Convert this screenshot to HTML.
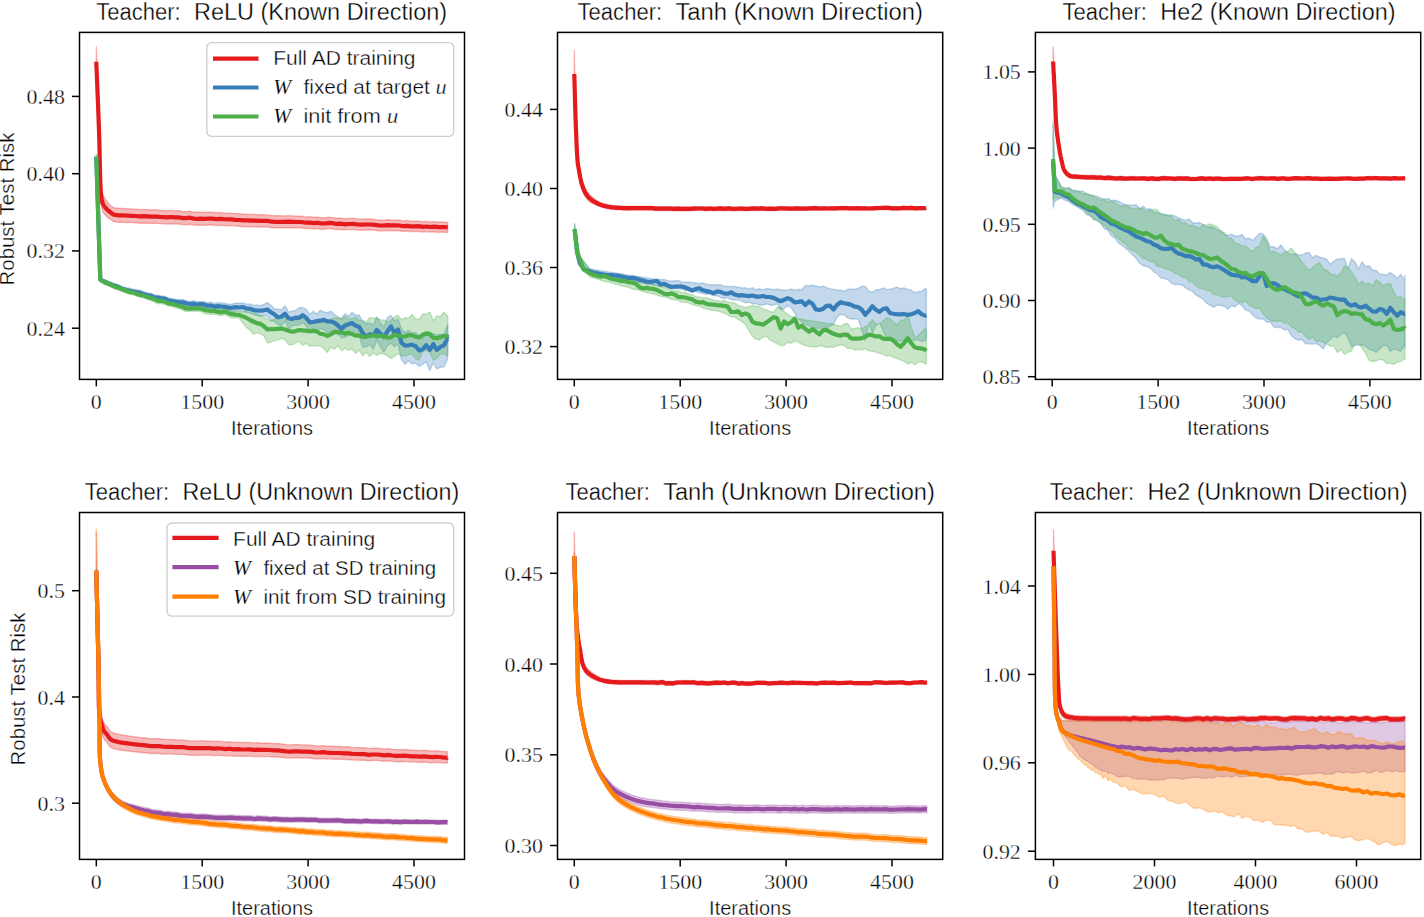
<!DOCTYPE html><html><head><meta charset="utf-8"><title>Robust Test Risk</title><style>html,body{margin:0;padding:0;background:#fff;overflow:hidden}svg{display:block}text{fill:#000;stroke:#fff;stroke-width:0.35px;paint-order:fill stroke}</style></head><body>
<svg width="1424" height="917" viewBox="0 0 1424 917">
<rect width="1424" height="917" fill="#fff"/>
<clipPath id="c0"><rect x="79.5" y="32.4" width="385.0" height="347.0"/></clipPath>
<g clip-path="url(#c0)">
<path d="M96.3,46.8 L96.3,46.8 L96.3,46.9 L96.3,47 L96.3,47.1 L96.3,47.3 L96.3,47.5 L96.3,47.7 L96.3,48 L96.4,48.3 L96.4,48.7 L96.4,49 L96.4,49.4 L96.4,49.9 L96.4,50.4 L96.5,50.8 L96.5,51.4 L96.5,51.9 L96.5,52.5 L96.5,53.1 L96.6,53.8 L96.6,54.4 L96.6,55.1 L96.7,55.8 L96.7,56.6 L96.7,57.3 L96.7,58.1 L96.8,58.9 L96.8,59.7 L96.8,60.6 L96.9,61.4 L96.9,62.3 L96.9,63.2 L97,64.1 L97,65 L97,66 L97.1,67 L97.1,67.9 L97.2,68.9 L97.2,69.9 L97.2,70.9 L97.3,72 L97.3,73 L97.4,74 L97.4,75.1 L97.4,76.2 L97.5,77.2 L97.5,78.3 L97.6,79.4 L97.6,80.5 L97.6,81.6 L97.7,82.7 L97.7,83.8 L97.8,84.9 L97.8,86 L97.9,87.1 L97.9,88.2 L97.9,89.4 L98,90.5 L98,91.6 L98.1,92.7 L98.1,93.8 L98.2,94.9 L98.2,96 L98.2,97.1 L98.3,98.2 L98.3,99.3 L98.4,100.4 L98.4,101.4 L98.4,102.5 L98.5,103.6 L98.5,104.6 L98.6,105.6 L98.6,106.7 L98.6,107.7 L98.7,108.7 L98.7,109.7 L98.7,110.7 L98.8,111.6 L98.8,112.6 L98.8,113.5 L98.9,114.4 L98.9,115.3 L98.9,116.2 L99,117 L99,117.9 L99,118.7 L99.1,119.6 L99.1,120.4 L99.1,121.3 L99.1,122.2 L99.2,123.1 L99.2,124 L99.2,124.9 L99.2,125.8 L99.3,126.7 L99.3,127.6 L99.3,128.5 L99.3,129.5 L99.4,130.4 L99.4,131.3 L99.4,132.3 L99.4,133.2 L99.4,134.2 L99.5,135.1 L99.5,136.1 L99.5,137 L99.5,138 L99.5,139 L99.6,139.9 L99.6,140.9 L99.6,141.9 L99.6,142.8 L99.6,143.8 L99.7,144.8 L99.7,145.7 L99.7,146.7 L99.7,147.6 L99.7,148.6 L99.8,149.6 L99.8,150.5 L99.8,151.5 L99.8,152.4 L99.8,153.4 L99.9,154.3 L99.9,155.3 L99.9,156.2 L99.9,157.1 L99.9,158.1 L100,159 L100,159.9 L100,160.8 L100,161.7 L100,162.6 L100.1,163.5 L100.1,164.4 L100.1,165.3 L100.1,166.1 L100.2,167 L100.2,167.8 L100.2,168.7 L100.2,169.5 L100.3,170.3 L100.3,171.1 L100.3,172 L100.4,172.7 L100.4,173.5 L100.4,174.3 L100.5,175.1 L100.5,175.8 L100.5,176.5 L100.6,177.3 L100.6,178 L100.6,178.7 L100.7,179.4 L100.7,180 L100.7,180.7 L100.8,181.3 L100.8,181.9 L100.9,182.6 L100.9,183.2 L101,183.7 L101,184.3 L101,184.8 L101.1,185.3 L101.1,185.8 L101.2,186.2 L101.2,186.7 L101.3,187.1 L101.5,188.3 L101.6,189.3 L101.8,190.2 L101.9,191.1 L102.1,191.8 L102.3,192.5 L102.5,193.2 L102.7,193.9 L103,194.7 L103.4,195.6 L103.8,196.4 L104.2,197.2 L104.7,198 L105.2,198.8 L105.7,199.6 L106.2,200.4 L106.8,201.1 L107.4,201.9 L108.1,202.7 L108.7,203.5 L109.4,204.3 L110,205 L110.7,205.5 L111.3,206 L112,206.5 L112.7,207 L113.5,207.4 L114.4,207.7 L115.1,207.9 L115.8,208.1 L116.6,208.2 L117.4,208.3 L118.3,208.3 L119.2,208.4 L120.1,208.4 L121,208.5 L121.9,208.5 L122.7,208.5 L123.5,208.5 L124.3,208.6 L125,208.6 L125.9,208.6 L126.6,208.7 L127.3,208.7 L128,208.7 L128.9,208.8 L132.4,208.9 L136,209.1 L139.7,209.6 L143.8,209.4 L147.7,209.6 L151.7,209.9 L156,209.8 L159.6,210.2 L163.3,210.5 L167,210.8 L170.8,210.4 L174.7,210.7 L178.5,210.7 L182.4,211.5 L186.2,211.6 L190,211.2 L193.7,212.1 L197.3,212.3 L201.5,212.2 L205.1,212.4 L208.8,212.2 L212.5,212.2 L216.3,212.8 L220.1,212.6 L223.9,212.9 L227.7,213.1 L231.6,213.1 L235.4,213.6 L239.4,213.7 L243.3,214.2 L247.3,214.2 L251.3,214.4 L255.3,214.5 L259.4,214.8 L263.5,214.8 L267.6,214.9 L271.8,215.6 L275.9,215.8 L280.2,215.8 L284.4,215.9 L288.7,215.8 L293,215.9 L297.4,216.1 L301.5,216.1 L305.3,216.9 L309.4,216.7 L313.7,217.3 L317.3,217.1 L321,217.7 L324.8,217.7 L328.7,217.2 L332.6,217.6 L336.7,218.3 L340.8,218.1 L345,218.7 L349.2,218.4 L353.4,218.3 L357.7,218.9 L362,219.2 L366.3,219 L370.5,219 L374.8,219.4 L379.1,220.1 L383.3,220.1 L387.4,219.7 L391.5,220 L395.6,220.1 L399.5,220.2 L403.4,220.9 L407.2,220.6 L410.9,221.1 L414.5,221.1 L418.7,221.1 L422.8,221.7 L426.6,221.4 L430.2,221.9 L434.1,221.6 L438.1,222.1 L442,222 L445.7,222.2 L447.7,222.5 L447.7,232.5 L445.7,232.3 L442,232.1 L438.1,232.2 L434.1,231.8 L430.2,232.1 L426.6,231.6 L422.8,232 L418.7,231.4 L414.5,231.5 L410.9,231.5 L407.2,231.1 L403.4,231.5 L399.5,230.8 L395.6,230.7 L391.5,230.7 L387.4,230.5 L383.3,230.8 L379.1,230.9 L374.8,230.3 L370.5,229.9 L366.3,230 L362,230.2 L357.7,230 L353.4,229.4 L349.2,229.6 L345,229.9 L340.8,229.4 L336.7,229.6 L332.6,228.9 L328.7,228.6 L324.8,229.2 L321,229.2 L317.3,228.6 L313.7,228.9 L309.4,228.4 L305.3,228.5 L301.5,227.9 L297.4,227.9 L293,227.7 L288.7,227.7 L284.4,227.9 L280.2,227.8 L275.9,227.8 L271.8,227.7 L267.6,227 L263.5,227 L259.4,227 L255.3,226.8 L251.3,226.8 L247.3,226.5 L243.3,226.7 L239.4,226.2 L235.4,226.1 L231.6,225.6 L227.7,225.7 L223.9,225.5 L220.1,225.3 L216.3,225.5 L212.5,225 L208.8,225 L205.1,225.2 L201.5,225.1 L197.3,225.2 L193.7,225.1 L190,224.3 L186.2,224.7 L182.4,224.6 L178.5,223.9 L174.7,224 L170.8,223.7 L167,224.1 L163.3,223.8 L159.6,223.6 L156,223.2 L151.7,223.4 L147.7,223.2 L143.8,223 L139.7,223.3 L136,222.8 L132.4,222.6 L128.9,222.5 L128,222.5 L127.3,222.5 L126.6,222.5 L125.9,222.5 L125,222.4 L124.3,222.4 L123.5,222.4 L122.7,222.4 L121.9,222.3 L121,222.3 L120.1,222.3 L119.2,222.3 L118.3,222.2 L117.4,222.2 L116.6,222.1 L115.8,222 L115.1,221.9 L114.4,221.7 L113.5,221.3 L112.7,221 L112,220.5 L111.3,220 L110.7,219.5 L110,219 L109.4,218.6 L108.7,218.1 L108.1,217.6 L107.4,217.1 L106.8,216.6 L106.2,216 L105.7,215.5 L105.2,214.9 L104.7,214.3 L104.2,213.8 L103.8,213.2 L103.4,212.5 L103,211.8 L102.7,211.2 L102.5,210.6 L102.3,210 L102.1,209.3 L101.9,208.6 L101.8,207.9 L101.6,207 L101.5,206.1 L101.3,205 L101.2,204.6 L101.2,204.2 L101.1,203.7 L101.1,203.3 L101,202.8 L101,202.3 L101,201.8 L100.9,201.3 L100.9,200.8 L100.8,200.3 L100.8,199.7 L100.7,199.2 L100.7,198.6 L100.7,198 L100.6,197.4 L100.6,196.8 L100.6,196.1 L100.5,195.5 L100.5,194.8 L100.5,194.1 L100.4,193.4 L100.4,192.7 L100.4,192 L100.3,191.2 L100.3,190.5 L100.3,189.7 L100.2,189 L100.2,188.2 L100.2,187.4 L100.2,186.6 L100.1,185.8 L100.1,185 L100.1,184.1 L100.1,183.3 L100,182.4 L100,181.6 L100,180.7 L100,179.9 L100,179 L99.9,178.1 L99.9,177.2 L99.9,176.3 L99.9,175.4 L99.9,174.5 L99.8,173.6 L99.8,172.7 L99.8,171.8 L99.8,170.9 L99.8,170 L99.7,169 L99.7,168.1 L99.7,167.2 L99.7,166.3 L99.7,165.3 L99.6,164.4 L99.6,163.5 L99.6,162.5 L99.6,161.6 L99.6,160.7 L99.5,159.8 L99.5,158.8 L99.5,157.9 L99.5,157 L99.5,156.1 L99.4,155.2 L99.4,154.3 L99.4,153.3 L99.4,152.4 L99.4,151.5 L99.3,150.7 L99.3,149.8 L99.3,148.9 L99.3,148 L99.2,147.1 L99.2,146.3 L99.2,145.4 L99.2,144.6 L99.1,143.8 L99.1,142.9 L99.1,142.1 L99.1,141.3 L99,140.5 L99,139.7 L99,138.9 L98.9,138.1 L98.9,137.3 L98.9,136.5 L98.8,135.6 L98.8,134.8 L98.8,133.9 L98.7,133 L98.7,132.1 L98.7,131.2 L98.6,130.2 L98.6,129.3 L98.6,128.3 L98.5,127.4 L98.5,126.4 L98.4,125.4 L98.4,124.4 L98.4,123.4 L98.3,122.4 L98.3,121.4 L98.2,120.4 L98.2,119.4 L98.2,118.4 L98.1,117.3 L98.1,116.3 L98,115.3 L98,114.3 L97.9,113.2 L97.9,112.2 L97.9,111.2 L97.8,110.1 L97.8,109.1 L97.7,108.1 L97.7,107 L97.6,106 L97.6,105 L97.6,104 L97.5,103 L97.5,102 L97.4,101 L97.4,100 L97.4,99 L97.3,98 L97.3,97.1 L97.2,96.1 L97.2,95.2 L97.2,94.3 L97.1,93.4 L97.1,92.5 L97,91.6 L97,90.7 L97,89.8 L96.9,89 L96.9,88.1 L96.9,87.3 L96.8,86.5 L96.8,85.8 L96.8,85 L96.7,84.3 L96.7,83.5 L96.7,82.8 L96.7,82.2 L96.6,81.5 L96.6,80.9 L96.6,80.2 L96.5,79.7 L96.5,79.1 L96.5,78.6 L96.5,78 L96.5,77.5 L96.4,77.1 L96.4,76.7 L96.4,76.2 L96.4,75.9 L96.4,75.5 L96.4,75.2 L96.3,74.9 L96.3,74.7 L96.3,74.4 L96.3,74.2 L96.3,74.1 L96.3,74 L96.3,73.9 L96.3,73.8 L96.3,73.8Z" fill="#e41a1c" fill-opacity="0.3" stroke="#e41a1c" stroke-opacity="0.3" stroke-width="1.4" stroke-linejoin="round"/>
<path d="M96.3,154.8 L100.3,277.5 L105,280 L108.5,281.5 L112.1,282.8 L115.6,283.9 L119.1,285.1 L122.7,286.9 L126.2,287.8 L129.7,288.3 L133.2,289.3 L136.8,289.8 L140.3,290.4 L143.8,291.6 L147.4,292.8 L150.9,293.4 L154.4,294.9 L158,295.1 L161.5,296 L165,296.3 L168.5,298.2 L172.1,298.6 L175.6,299.1 L179.1,299.6 L182.7,299.4 L186.2,300.6 L189.7,301.4 L193.3,300.8 L196.8,301.6 L200.3,301.4 L203.8,301.5 L207.4,302.7 L210.9,302.1 L214.4,303.4 L218,302.6 L221.5,303 L225,303.4 L228.6,304.2 L232.1,304.1 L235.6,303.1 L239.1,303.3 L242.7,303 L246.2,303.9 L249.7,304 L253.3,305.5 L256.8,304.9 L260.3,305.8 L263.8,304.3 L267.4,302.6 L270.9,305.3 L274.4,308.8 L278,309.1 L281.5,309.9 L285,305.8 L288.6,312.1 L292.1,311.3 L295.6,310.3 L299.1,307.7 L302.7,307.5 L306.2,309.4 L309.7,314.2 L313.3,311.3 L316.8,314.2 L320.3,310.1 L323.9,312 L327.4,312.8 L330.9,311 L334.4,314.4 L338,317 L341.5,318.3 L345,313.7 L348.6,316.3 L352.1,312.2 L355.6,315.2 L359.2,315.1 L362.7,321.4 L366.2,323.7 L369.7,323 L373.3,324.8 L376.8,316.9 L380.3,322.4 L383.9,327 L387.4,317.5 L390.9,315.4 L394.5,320.8 L398,318.9 L401.5,329 L405,332.5 L408.6,330.4 L412.1,333 L415.6,332.4 L419.2,337.2 L422.7,338.7 L426.2,333.4 L429.8,337 L433.3,333.4 L436.8,335 L440.3,333.9 L443.9,335.3 L447.4,324.6 L447.7,324.2 L447.7,355.8 L447.4,359.6 L443.9,366.9 L440.3,367.2 L436.8,369 L433.3,362.8 L429.8,370.7 L426.2,361.7 L422.7,364.5 L419.2,366.5 L415.6,363 L412.1,364.1 L408.6,360.7 L405,364.4 L401.5,359.7 L398,344.1 L394.5,346.7 L390.9,343.2 L387.4,345.7 L383.9,352 L380.3,346.8 L376.8,339.9 L373.3,349.4 L369.7,344.6 L366.2,347.1 L362.7,347.1 L359.2,336.2 L355.6,334.8 L352.1,332.1 L348.6,335.5 L345,337.3 L341.5,338.1 L338,334.2 L334.4,332 L330.9,331.6 L327.4,332.8 L323.9,329.7 L320.3,328.5 L316.8,330.3 L313.3,333 L309.7,332.7 L306.2,325.9 L302.7,322.5 L299.1,325.3 L295.6,325.3 L292.1,325.9 L288.6,328.7 L285,321 L281.5,325.5 L278,324.4 L274.4,321.5 L270.9,320.3 L267.4,316.5 L263.8,315.5 L260.3,316.3 L256.8,315.6 L253.3,314.6 L249.7,312.8 L246.2,312.5 L242.7,311.3 L239.1,311 L235.6,310.6 L232.1,311.8 L228.6,310.8 L225,310.2 L221.5,309.8 L218,309.3 L214.4,309.5 L210.9,308.7 L207.4,309.1 L203.8,307.2 L200.3,307.1 L196.8,307.3 L193.3,306.3 L189.7,306.8 L186.2,306.1 L182.7,304.9 L179.1,305 L175.6,304.4 L172.1,303.8 L168.5,303.1 L165,301.3 L161.5,301.1 L158,300.3 L154.4,299.9 L150.9,298.3 L147.4,297.7 L143.8,296.6 L140.3,295.4 L136.8,294.6 L133.2,293.8 L129.7,293 L126.2,292.2 L122.7,291.4 L119.1,289.5 L115.6,288.3 L112.1,287 L108.5,285.7 L105,284.1 L100.3,281.5 L96.3,158.8Z" fill="#377eb8" fill-opacity="0.3" stroke="#377eb8" stroke-opacity="0.3" stroke-width="1.4" stroke-linejoin="round"/>
<path d="M96.3,154.8 L100.3,277.7 L105,280.2 L108.5,281.5 L112.1,283.1 L115.6,284.7 L119.1,285.8 L122.7,287.2 L126.2,288.4 L129.7,289.6 L133.2,289.9 L136.8,291.6 L140.3,292.4 L143.8,293.2 L147.4,294.7 L150.9,295.6 L154.4,296.7 L158,298.4 L161.5,298.1 L165,299 L168.5,300.7 L172.1,301.2 L175.6,301.9 L179.1,303 L182.7,304 L186.2,305.6 L189.7,305.8 L193.3,305.2 L196.8,305.6 L200.3,305.5 L203.8,306.9 L207.4,307.2 L210.9,307.6 L214.4,307.4 L218,308.6 L221.5,309.2 L225,307.9 L228.6,309.5 L232.1,310.7 L235.6,311.1 L239.1,311.7 L242.7,312.2 L246.2,310.6 L249.7,309.9 L253.3,310.5 L256.8,314.1 L260.3,315.3 L263.8,317.3 L267.4,319.1 L270.9,320.8 L274.4,319.1 L278,317.3 L281.5,317.1 L285,317.3 L288.6,323 L292.1,320.6 L295.6,319.6 L299.1,321.6 L302.7,317.6 L306.2,320.9 L309.7,320.1 L313.3,321.4 L316.8,320.8 L320.3,323.4 L323.9,319.8 L327.4,320.5 L330.9,319.6 L334.4,317.7 L338,318.2 L341.5,319.7 L345,316.3 L348.6,318.8 L352.1,318.7 L355.6,317.2 L359.2,320.3 L362.7,320.4 L366.2,322 L369.7,317.7 L373.3,318.2 L376.8,318 L380.3,319.8 L383.9,320.1 L387.4,321.8 L390.9,320.7 L394.5,317.1 L398,315.2 L401.5,319.8 L405,317.7 L408.6,318.3 L412.1,314.3 L415.6,319.1 L419.2,319.3 L422.7,313.9 L426.2,314.1 L429.8,312.1 L433.3,320.6 L436.8,315.9 L440.3,316.7 L443.9,312.1 L447.4,315.8 L447.7,316.8 L447.7,353.2 L447.4,355.9 L443.9,353.9 L440.3,354 L436.8,358.2 L433.3,360.2 L429.8,352.7 L426.2,350.4 L422.7,350.8 L419.2,360 L415.6,358.8 L412.1,354.1 L408.6,354.4 L405,355.9 L401.5,356 L398,353.5 L394.5,356.5 L390.9,358.5 L387.4,355.9 L383.9,353.7 L380.3,353.2 L376.8,355.3 L373.3,353.1 L369.7,356.6 L366.2,352.3 L362.7,355.8 L359.2,350.1 L355.6,353.2 L352.1,349 L348.6,350.3 L345,348.3 L341.5,350.8 L338,345.4 L334.4,349.6 L330.9,347 L327.4,352.5 L323.9,348.8 L320.3,345.7 L316.8,345.6 L313.3,345.7 L309.7,346.4 L306.2,343.2 L302.7,345.3 L299.1,341.6 L295.6,342.8 L292.1,344.8 L288.6,344.6 L285,339.9 L281.5,338.2 L278,340.1 L274.4,340.8 L270.9,341.9 L267.4,343 L263.8,335.7 L260.3,333.8 L256.8,332.6 L253.3,334.3 L249.7,329.9 L246.2,327.3 L242.7,322.7 L239.1,317.9 L235.6,317.8 L232.1,317.9 L228.6,316.6 L225,314.5 L221.5,315.5 L218,315.2 L214.4,314.2 L210.9,314.4 L207.4,314 L203.8,313.2 L200.3,311.1 L196.8,311.5 L193.3,311 L189.7,311.2 L186.2,311.6 L182.7,310 L179.1,308.5 L175.6,307.8 L172.1,306.5 L168.5,306.1 L165,304.6 L161.5,303.6 L158,303.7 L154.4,302 L150.9,300.6 L147.4,299.5 L143.8,297.9 L140.3,297.3 L136.8,296.2 L133.2,294.8 L129.7,294.4 L126.2,293 L122.7,291.7 L119.1,290.2 L115.6,289.3 L112.1,287.4 L108.5,285.7 L105,284.4 L100.3,281.8 L96.3,158.8Z" fill="#4daf4a" fill-opacity="0.3" stroke="#4daf4a" stroke-opacity="0.3" stroke-width="1.4" stroke-linejoin="round"/>
<path d="M96.3,61.8 L96.3,61.8 L96.3,61.9 L96.3,62 L96.3,62.1 L96.3,62.3 L96.3,62.5 L96.3,62.7 L96.3,63 L96.4,63.3 L96.4,63.6 L96.4,63.9 L96.4,64.3 L96.4,64.8 L96.4,65.2 L96.5,65.7 L96.5,66.2 L96.5,66.7 L96.5,67.3 L96.5,67.9 L96.6,68.5 L96.6,69.1 L96.6,69.8 L96.7,70.5 L96.7,71.2 L96.7,71.9 L96.7,72.6 L96.8,73.4 L96.8,74.2 L96.8,75 L96.9,75.8 L96.9,76.7 L96.9,77.5 L97,78.4 L97,79.3 L97,80.2 L97.1,81.1 L97.1,82.1 L97.2,83 L97.2,84 L97.2,84.9 L97.3,85.9 L97.3,86.9 L97.4,87.9 L97.4,88.9 L97.4,90 L97.5,91 L97.5,92 L97.6,93.1 L97.6,94.1 L97.6,95.2 L97.7,96.2 L97.7,97.3 L97.8,98.3 L97.8,99.4 L97.9,100.5 L97.9,101.5 L97.9,102.6 L98,103.7 L98,104.8 L98.1,105.8 L98.1,106.9 L98.2,107.9 L98.2,109 L98.2,110.1 L98.3,111.1 L98.3,112.2 L98.4,113.2 L98.4,114.2 L98.4,115.2 L98.5,116.3 L98.5,117.3 L98.6,118.3 L98.6,119.2 L98.6,120.2 L98.7,121.2 L98.7,122.1 L98.7,123.1 L98.8,124 L98.8,124.9 L98.8,125.8 L98.9,126.7 L98.9,127.5 L98.9,128.4 L99,129.2 L99,130 L99,130.8 L99.1,131.6 L99.1,132.5 L99.1,133.3 L99.1,134.2 L99.2,135 L99.2,135.9 L99.2,136.8 L99.2,137.7 L99.3,138.5 L99.3,139.4 L99.3,140.3 L99.3,141.2 L99.4,142.1 L99.4,143.1 L99.4,144 L99.4,144.9 L99.4,145.8 L99.5,146.8 L99.5,147.7 L99.5,148.6 L99.5,149.6 L99.5,150.5 L99.6,151.5 L99.6,152.4 L99.6,153.3 L99.6,154.3 L99.6,155.2 L99.7,156.2 L99.7,157.1 L99.7,158.1 L99.7,159 L99.7,160 L99.8,160.9 L99.8,161.8 L99.8,162.8 L99.8,163.7 L99.8,164.6 L99.9,165.5 L99.9,166.5 L99.9,167.4 L99.9,168.3 L99.9,169.2 L100,170.1 L100,171 L100,171.9 L100,172.8 L100,173.6 L100.1,174.5 L100.1,175.3 L100.1,176.2 L100.1,177 L100.2,177.9 L100.2,178.7 L100.2,179.5 L100.2,180.3 L100.3,181.1 L100.3,181.9 L100.3,182.7 L100.4,183.4 L100.4,184.2 L100.4,184.9 L100.5,185.6 L100.5,186.4 L100.5,187.1 L100.6,187.7 L100.6,188.4 L100.6,189.1 L100.7,189.7 L100.7,190.3 L100.7,191 L100.8,191.6 L100.8,192.1 L100.9,192.7 L100.9,193.3 L101,193.8 L101,194.3 L101,194.8 L101.1,195.3 L101.1,195.7 L101.2,196.2 L101.2,196.6 L101.3,197 L101.5,198.1 L101.6,199.1 L101.8,200 L101.9,200.7 L102.1,201.5 L102.3,202.1 L102.5,202.7 L102.7,203.4 L103,204 L103.4,204.8 L103.8,205.5 L104.2,206.1 L104.7,206.8 L105.2,207.4 L105.7,208 L106.2,208.6 L106.8,209.2 L107.4,209.8 L108.1,210.4 L108.7,211 L109.4,211.5 L110,212 L110.7,212.5 L111.3,213 L112,213.5 L112.7,214 L113.5,214.4 L114.4,214.7 L115.1,214.9 L115.8,215 L116.6,215.1 L117.4,215.2 L118.3,215.3 L119.2,215.3 L120.1,215.4 L121,215.4 L121.9,215.4 L122.7,215.4 L123.5,215.4 L124.3,215.5 L125,215.5 L125.9,215.5 L126.6,215.6 L127.3,215.6 L128,215.6 L128.9,215.7 L132.4,215.8 L136,216 L139.7,216.4 L143.8,216.2 L147.7,216.4 L151.7,216.6 L156,216.5 L159.6,216.9 L163.3,217.1 L167,217.4 L170.8,217 L174.7,217.3 L178.5,217.3 L182.4,218.1 L186.2,218.1 L190,217.7 L193.7,218.6 L197.3,218.8 L201.5,218.7 L205.1,218.8 L208.8,218.6 L212.5,218.6 L216.3,219.2 L220.1,218.9 L223.9,219.2 L227.7,219.4 L231.6,219.3 L235.4,219.8 L239.4,220 L243.3,220.4 L247.3,220.3 L251.3,220.6 L255.3,220.6 L259.4,220.9 L263.5,220.9 L267.6,220.9 L271.8,221.7 L275.9,221.8 L280.2,221.8 L284.4,221.9 L288.7,221.7 L293,221.8 L297.4,222 L301.5,222 L305.3,222.7 L309.4,222.6 L313.7,223.1 L317.3,222.8 L321,223.4 L324.8,223.5 L328.7,222.9 L332.6,223.2 L336.7,223.9 L340.8,223.7 L345,224.3 L349.2,224 L353.4,223.9 L357.7,224.5 L362,224.7 L366.3,224.5 L370.5,224.5 L374.8,224.8 L379.1,225.5 L383.3,225.5 L387.4,225.1 L391.5,225.3 L395.6,225.4 L399.5,225.5 L403.4,226.2 L407.2,225.8 L410.9,226.3 L414.5,226.3 L418.7,226.2 L422.8,226.8 L426.6,226.5 L430.2,227 L434.1,226.7 L438.1,227.1 L442,227.1 L445.7,227.2 L447.7,227.5" fill="none" stroke="#e41a1c" stroke-width="4.2" stroke-linejoin="round" stroke-linecap="butt"/>
<path d="M96.3,156.8 L100.3,279.5 L105,282 L108.5,283.6 L112.1,284.9 L115.6,286.1 L119.1,287.3 L122.7,289.1 L126.2,290.1 L129.7,290.7 L133.2,291.6 L136.8,292.2 L140.3,292.9 L143.8,294.2 L147.4,295.3 L150.9,295.7 L154.4,297.3 L158,297.7 L161.5,298.4 L165,298.9 L168.5,300.5 L172.1,301 L175.6,301.8 L179.1,302.2 L182.7,302.3 L186.2,303.3 L189.7,304 L193.3,303.6 L196.8,304.5 L200.3,304 L203.8,304.4 L207.4,305.7 L210.9,305.6 L214.4,306.6 L218,306.2 L221.5,306.5 L225,306.8 L228.6,307.6 L232.1,307.8 L235.6,307.1 L239.1,307.5 L242.7,307 L246.2,308.4 L249.7,308.6 L253.3,310 L256.8,310.5 L260.3,310.7 L263.8,310.3 L267.4,309.5 L270.9,312.3 L274.4,314.3 L278,317.3 L281.5,316.7 L285,313.7 L288.6,318.4 L292.1,319 L295.6,317.6 L299.1,317.8 L302.7,315.2 L306.2,317.9 L309.7,322.3 L313.3,322 L316.8,321.1 L320.3,320.7 L323.9,319.8 L327.4,321.5 L330.9,321.4 L334.4,322.7 L338,325.6 L341.5,328.9 L345,325.6 L348.6,324.3 L352.1,323 L355.6,325.6 L359.2,327 L362.7,332.9 L366.2,336.4 L369.7,334.3 L373.3,335.3 L376.8,330 L380.3,333.4 L383.9,337 L387.4,331.3 L390.9,326.5 L394.5,332.8 L398,329.6 L401.5,342.9 L405,345.7 L408.6,345.3 L412.1,344.7 L415.6,346.2 L419.2,350.5 L422.7,349.3 L426.2,345.2 L429.8,349.8 L433.3,344.1 L436.8,349.9 L440.3,346.9 L443.9,345.3 L447.4,338.7 L447.7,339.2" fill="none" stroke="#377eb8" stroke-width="4.2" stroke-linejoin="round" stroke-linecap="butt"/>
<path d="M96.3,156.8 L100.3,279.7 L105,282.3 L108.5,283.6 L112.1,285.3 L115.6,287 L119.1,288 L122.7,289.5 L126.2,290.6 L129.7,292 L133.2,292.4 L136.8,293.9 L140.3,295 L143.8,295.6 L147.4,297.1 L150.9,298.1 L154.4,299.2 L158,300.9 L161.5,300.9 L165,301.7 L168.5,303.5 L172.1,303.9 L175.6,304.7 L179.1,305.8 L182.7,306.9 L186.2,308.5 L189.7,308.6 L193.3,308.3 L196.8,308.5 L200.3,308.4 L203.8,309.7 L207.4,310.5 L210.9,310.8 L214.4,310.9 L218,311.9 L221.5,312.3 L225,311.5 L228.6,313.2 L232.1,314.2 L235.6,314.7 L239.1,314.9 L242.7,316.4 L246.2,317.8 L249.7,319.8 L253.3,321.5 L256.8,323.1 L260.3,323.9 L263.8,326.1 L267.4,329.5 L270.9,329.1 L274.4,329.2 L278,328.8 L281.5,328.4 L285,329.4 L288.6,330.8 L292.1,331.8 L295.6,331.1 L299.1,330.1 L302.7,330.4 L306.2,330.6 L309.7,331.2 L313.3,330.6 L316.8,331.5 L320.3,333.8 L323.9,334.4 L327.4,335.9 L330.9,334.3 L334.4,331.8 L338,332.2 L341.5,332.3 L345,333.6 L348.6,332.8 L352.1,334.1 L355.6,335.6 L359.2,335.6 L362.7,336.8 L366.2,336.8 L369.7,336 L373.3,334.9 L376.8,336.5 L380.3,335.5 L383.9,336.5 L387.4,337.6 L390.9,337.3 L394.5,334.5 L398,335.8 L401.5,336.4 L405,336.5 L408.6,335 L412.1,335.2 L415.6,336.8 L419.2,337.5 L422.7,334.8 L426.2,333.4 L429.8,333.9 L433.3,337.8 L436.8,338.1 L440.3,337.4 L443.9,335.8 L447.4,336.4 L447.7,337.1" fill="none" stroke="#4daf4a" stroke-width="4.2" stroke-linejoin="round" stroke-linecap="butt"/>
</g>
<rect x="79.5" y="32.4" width="385" height="347" fill="none" stroke="#000" stroke-width="1.5"/>
<line x1="96.3" y1="379.4" x2="96.3" y2="386.4" stroke="#000" stroke-width="1.5"/>
<text x="96.3" y="408.7" font-family='"Liberation Serif", serif' font-size="21.9" text-anchor="middle">0</text>
<line x1="202.2" y1="379.4" x2="202.2" y2="386.4" stroke="#000" stroke-width="1.5"/>
<text x="202.2" y="408.7" font-family='"Liberation Serif", serif' font-size="21.9" text-anchor="middle">1500</text>
<line x1="308.1" y1="379.4" x2="308.1" y2="386.4" stroke="#000" stroke-width="1.5"/>
<text x="308.1" y="408.7" font-family='"Liberation Serif", serif' font-size="21.9" text-anchor="middle">3000</text>
<line x1="414" y1="379.4" x2="414" y2="386.4" stroke="#000" stroke-width="1.5"/>
<text x="414" y="408.7" font-family='"Liberation Serif", serif' font-size="21.9" text-anchor="middle">4500</text>
<line x1="72" y1="96.4" x2="79.5" y2="96.4" stroke="#000" stroke-width="1.5"/>
<text x="64.9" y="103.9" font-family='"Liberation Serif", serif' font-size="21.9" text-anchor="end">0.48</text>
<line x1="72" y1="173.7" x2="79.5" y2="173.7" stroke="#000" stroke-width="1.5"/>
<text x="64.9" y="181.2" font-family='"Liberation Serif", serif' font-size="21.9" text-anchor="end">0.40</text>
<line x1="72" y1="250.9" x2="79.5" y2="250.9" stroke="#000" stroke-width="1.5"/>
<text x="64.9" y="258.4" font-family='"Liberation Serif", serif' font-size="21.9" text-anchor="end">0.32</text>
<line x1="72" y1="328.2" x2="79.5" y2="328.2" stroke="#000" stroke-width="1.5"/>
<text x="64.9" y="335.7" font-family='"Liberation Serif", serif' font-size="21.9" text-anchor="end">0.24</text>
<text x="272" y="435" font-family='"Liberation Sans", sans-serif' font-size="20" text-anchor="middle" textLength="82" lengthAdjust="spacingAndGlyphs">Iterations</text>
<text x="96.2" y="19.6" font-family='"Liberation Sans", sans-serif' font-size="23.5" textLength="84.5" lengthAdjust="spacingAndGlyphs">Teacher:</text>
<text x="194" y="19.6" font-family='"Liberation Sans", sans-serif' font-size="23.5" textLength="253.1" lengthAdjust="spacingAndGlyphs">ReLU (Known Direction)</text>
<clipPath id="c1"><rect x="557.5" y="32.4" width="385.20000000000005" height="347.0"/></clipPath>
<g clip-path="url(#c1)">
<path d="M574.3,50.1 L574.3,50.2 L574.3,50.3 L574.3,50.4 L574.3,50.7 L574.3,51 L574.3,51.3 L574.3,51.7 L574.3,52.2 L574.4,52.7 L574.4,53.3 L574.4,53.9 L574.4,54.6 L574.4,55.3 L574.4,56.1 L574.4,56.9 L574.5,57.7 L574.5,58.6 L574.5,59.6 L574.5,60.6 L574.5,61.6 L574.6,62.6 L574.6,63.7 L574.6,64.8 L574.6,66 L574.7,67.2 L574.7,68.4 L574.7,69.6 L574.7,70.8 L574.8,72.1 L574.8,73.4 L574.8,74.7 L574.8,76.1 L574.9,77.4 L574.9,78.8 L574.9,80.1 L575,81.5 L575,82.9 L575,84.3 L575,85.7 L575.1,87.1 L575.1,88.5 L575.1,89.9 L575.2,91.4 L575.2,92.8 L575.2,94.2 L575.3,95.6 L575.3,97 L575.3,98.3 L575.4,99.7 L575.4,101.1 L575.4,102.4 L575.5,103.8 L575.5,105.1 L575.5,106.4 L575.6,107.6 L575.6,108.9 L575.6,110.1 L575.7,111.3 L575.7,112.5 L575.7,113.6 L575.7,114.8 L575.8,115.8 L575.8,116.9 L575.8,118.2 L575.9,119.4 L575.9,120.7 L575.9,122 L576,123.3 L576,124.5 L576.1,125.4 L576.1,126.3 L576.1,127.3 L576.2,128.2 L576.2,129.1 L576.2,130.1 L576.3,131 L576.3,131.9 L576.4,132.9 L576.4,133.8 L576.4,134.7 L576.5,135.6 L576.5,136.5 L576.5,137.4 L576.6,138.3 L576.6,139.2 L576.7,140.1 L576.7,140.9 L576.8,141.8 L576.8,142.6 L576.8,143.5 L576.9,144.3 L576.9,145.1 L577,145.9 L577,146.6 L577,147.4 L577.1,148.1 L577.1,148.8 L577.2,149.5 L577.2,150.2 L577.2,150.8 L577.3,151.5 L577.3,152.1 L577.4,152.7 L577.4,153.2 L577.5,153.7 L577.5,154.2 L577.6,155.3 L577.7,156.2 L577.7,156.9 L577.8,157.6 L577.9,158.3 L578,159 L578.1,159.8 L578.3,160.8 L578.4,161.4 L578.5,162 L578.6,162.7 L578.7,163.5 L578.9,164.2 L579,165 L579.1,165.8 L579.3,166.7 L579.4,167.5 L579.6,168.4 L579.7,169.3 L579.9,170.2 L580,171.1 L580.2,172 L580.4,172.9 L580.6,173.8 L580.8,174.7 L580.9,175.6 L581.1,176.4 L581.3,177.3 L581.5,178.1 L581.8,178.9 L582,179.6 L582.2,180.4 L582.4,181.1 L582.7,182 L583,182.9 L583.4,183.8 L583.7,184.7 L584,185.5 L584.4,186.4 L584.7,187.2 L585.1,188 L585.5,188.7 L585.9,189.5 L586.3,190.2 L586.8,191 L587.3,191.7 L587.8,192.4 L588.4,193.1 L588.9,193.7 L589.5,194.4 L590.1,195 L590.7,195.7 L591.4,196.3 L592,196.9 L592.7,197.4 L593.4,198 L594.1,198.6 L594.8,199.1 L595.5,199.7 L596.2,200.1 L596.9,200.6 L597.6,201.1 L598.3,201.5 L599,201.9 L599.7,202.3 L600.5,202.7 L601.3,202.9 L602,203.2 L602.8,203.4 L603.6,203.7 L604.4,203.9 L605.2,204.1 L606.1,204.3 L606.9,204.5 L607.6,204.7 L608.4,204.8 L609.2,205 L610,205.1 L610.7,205.2 L611.5,205.3 L612.4,205.4 L613.2,205.5 L614,205.6 L614.8,205.6 L615.7,205.7 L616.5,205.8 L617.4,205.8 L618.2,205.9 L619.1,205.9 L619.9,206 L620.8,206 L621.6,206.1 L622.5,206.1 L623.3,206.1 L624.1,206.2 L624.9,206.2 L625.7,206.2 L626.5,206.2 L627.3,206.2 L628.1,206.3 L628.9,206.3 L629.7,206.3 L630.5,206.2 L631.3,206.2 L632.1,206.2 L632.9,206.2 L633.7,206.2 L634.5,206.2 L635.3,206.2 L636.2,206.2 L637,206.2 L637.8,206.2 L638.7,206.2 L639.6,206.2 L643.5,206.1 L647.6,206.1 L651.8,206.2 L655.7,206.8 L659.3,206.6 L663.6,206.8 L667.2,206.7 L670.7,206.7 L674.4,206.9 L678.4,206.8 L682.2,207 L686.3,206.9 L689.9,207 L693.7,206.8 L697.7,206.6 L701.8,206.6 L706.1,207 L709.6,206.6 L713.2,206.9 L716.9,206.9 L720.7,206.6 L724.6,207 L728.5,206.6 L732.5,207.1 L736.6,207.1 L740.7,206.7 L744.9,207 L749.1,207 L753.3,206.6 L757.6,206.9 L762,206.6 L766.3,207.1 L770.7,206.9 L775.2,207.1 L779.6,206.5 L784,206.7 L788.5,206.9 L793,206.9 L797.4,206.6 L801.9,207 L806.3,207 L810.8,206.6 L815.2,206.5 L819.6,206.8 L823.9,206.7 L828.3,206.8 L832.6,206.7 L836.8,206.7 L841,206.4 L845.2,206.5 L849.3,206.7 L853.4,206.8 L857.4,206.6 L861.3,206.8 L865.1,206.7 L868.9,206.9 L872.6,206.7 L876.2,206.5 L879.7,206.4 L884,206.3 L888.1,206.3 L892.1,206.8 L895.9,206.8 L899.5,206.7 L903.5,206.3 L907.3,206.6 L911.3,206.3 L914.9,206.8 L918.5,206.6 L922,206.7 L925.5,206.6 L926,206.5 L926,209.5 L925.5,209.6 L922,209.7 L918.5,209.6 L914.9,209.8 L911.3,209.4 L907.3,209.7 L903.5,209.4 L899.5,209.8 L895.9,209.9 L892.1,209.9 L888.1,209.4 L884,209.5 L879.7,209.5 L876.2,209.7 L872.6,209.9 L868.9,210 L865.1,209.9 L861.3,210 L857.4,209.8 L853.4,210 L849.3,209.9 L845.2,209.7 L841,209.7 L836.8,209.9 L832.6,210 L828.3,210.1 L823.9,210 L819.6,210.2 L815.2,209.9 L810.8,210 L806.3,210.3 L801.9,210.4 L797.4,210 L793,210.3 L788.5,210.3 L784,210.1 L779.6,210 L775.2,210.6 L770.7,210.4 L766.3,210.6 L762,210.1 L757.6,210.5 L753.3,210.1 L749.1,210.5 L744.9,210.5 L740.7,210.2 L736.6,210.6 L732.5,210.7 L728.5,210.2 L724.6,210.6 L720.7,210.2 L716.9,210.6 L713.2,210.6 L709.6,210.3 L706.1,210.7 L701.8,210.3 L697.7,210.3 L693.7,210.5 L689.9,210.7 L686.3,210.6 L682.2,210.7 L678.4,210.6 L674.4,210.7 L670.7,210.5 L667.2,210.5 L663.6,210.6 L659.3,210.5 L655.7,210.6 L651.8,210.1 L647.6,210 L643.5,210 L639.6,210 L638.7,210 L637.8,210 L637,210.1 L636.2,210.1 L635.3,210.1 L634.5,210.1 L633.7,210.1 L632.9,210.1 L632.1,210.1 L631.3,210.1 L630.5,210.2 L629.7,210.2 L628.9,210.2 L628.1,210.2 L627.3,210.2 L626.5,210.2 L625.7,210.1 L624.9,210.1 L624.1,210.1 L623.3,210.1 L622.5,210 L621.6,210 L620.8,209.9 L619.9,209.9 L619.1,209.9 L618.2,209.8 L617.4,209.8 L616.5,209.7 L615.7,209.7 L614.8,209.6 L614,209.5 L613.2,209.4 L612.4,209.4 L611.5,209.3 L610.7,209.2 L610,209 L609.2,208.9 L608.4,208.8 L607.6,208.6 L606.9,208.5 L606.1,208.3 L605.2,208.1 L604.4,207.9 L603.6,207.7 L602.8,207.4 L602,207.2 L601.3,206.9 L600.5,206.7 L599.7,206.4 L599,206.2 L598.3,206 L597.6,205.8 L596.9,205.5 L596.2,205.2 L595.5,205 L594.8,204.6 L594.1,204.3 L593.4,203.9 L592.7,203.6 L592,203.2 L591.4,202.8 L590.7,202.4 L590.1,201.9 L589.5,201.5 L588.9,201 L588.4,200.5 L587.8,199.9 L587.3,199.4 L586.8,198.8 L586.3,198.2 L585.9,197.6 L585.5,197 L585.1,196.3 L584.7,195.6 L584.4,194.9 L584,194.2 L583.7,193.5 L583.4,192.7 L583,191.9 L582.7,191.1 L582.4,190.2 L582.2,189.6 L582,188.9 L581.8,188.2 L581.5,187.5 L581.3,186.7 L581.1,185.9 L580.9,185.1 L580.8,184.3 L580.6,183.5 L580.4,182.6 L580.2,181.8 L580,180.9 L579.9,180.1 L579.7,179.2 L579.6,178.4 L579.4,177.6 L579.3,176.7 L579.1,175.9 L579,175.2 L578.9,174.4 L578.7,173.7 L578.6,173 L578.5,172.3 L578.4,171.7 L578.3,171.1 L578.1,170.2 L578,169.4 L577.9,168.7 L577.8,168.1 L577.7,167.4 L577.7,166.7 L577.6,165.8 L577.5,164.8 L577.5,164.3 L577.4,163.8 L577.4,163.2 L577.3,162.7 L577.3,162.1 L577.2,161.5 L577.2,160.8 L577.2,160.2 L577.1,159.5 L577.1,158.8 L577,158.1 L577,157.3 L577,156.6 L576.9,155.8 L576.9,155 L576.8,154.2 L576.8,153.4 L576.8,152.6 L576.7,151.7 L576.7,150.9 L576.6,150 L576.6,149.2 L576.5,148.3 L576.5,147.4 L576.5,146.5 L576.4,145.6 L576.4,144.7 L576.4,143.8 L576.3,142.8 L576.3,141.9 L576.2,141 L576.2,140.1 L576.2,139.2 L576.1,138.2 L576.1,137.3 L576.1,136.4 L576,135.5 L576,134.6 L575.9,133.8 L575.9,132.9 L575.9,132.1 L575.8,131.3 L575.8,130.5 L575.8,129.8 L575.7,129.1 L575.7,128.4 L575.7,127.6 L575.7,126.8 L575.6,126 L575.6,125.2 L575.6,124.4 L575.5,123.5 L575.5,122.6 L575.5,121.7 L575.4,120.8 L575.4,119.9 L575.4,118.9 L575.3,118 L575.3,117 L575.3,116 L575.2,115.1 L575.2,114.1 L575.2,113.1 L575.1,112.1 L575.1,111.1 L575.1,110.1 L575,109.1 L575,108.1 L575,107.1 L575,106.1 L574.9,105.1 L574.9,104.1 L574.9,103.1 L574.8,102.1 L574.8,101.2 L574.8,100.2 L574.8,99.3 L574.7,98.4 L574.7,97.5 L574.7,96.6 L574.7,95.7 L574.6,94.9 L574.6,94 L574.6,93.2 L574.6,92.4 L574.5,91.6 L574.5,90.9 L574.5,90.2 L574.5,89.5 L574.5,88.8 L574.4,88.2 L574.4,87.6 L574.4,87 L574.4,86.5 L574.4,86 L574.4,85.6 L574.4,85.1 L574.3,84.8 L574.3,84.4 L574.3,84.1 L574.3,83.9 L574.3,83.6 L574.3,83.5 L574.3,83.3 L574.3,83.3 L574.3,83.3Z" fill="#e41a1c" fill-opacity="0.3" stroke="#e41a1c" stroke-opacity="0.3" stroke-width="1.4" stroke-linejoin="round"/>
<path d="M574.6,224 L577.2,240.3 L579.8,256.7 L584.4,262.8 L589.8,268.7 L590,268.8 L593.5,269.5 L597.1,270 L600.6,270.7 L604.1,271.1 L607.6,271.9 L611.2,272.1 L614.7,272.8 L618.2,273.7 L621.8,274 L625.3,274.8 L628.8,275.3 L632.4,275.5 L635.9,276.3 L639.4,276.6 L642.9,277.2 L646.5,277.6 L650,278.4 L653.5,279.1 L657.1,278.9 L660.6,279.7 L664.1,279.5 L667.7,280.6 L671.2,281.1 L674.7,280.7 L678.2,280.5 L681.8,281.9 L685.3,282.1 L688.8,282 L692.4,282.6 L695.9,282.7 L699.4,283.7 L703,283 L706.5,284.2 L710,284.6 L713.5,285 L717.1,284.8 L720.6,284.8 L724.1,286.1 L727.7,286.5 L731.2,286.4 L734.7,286.6 L738.3,287.2 L741.8,287.9 L745.3,287.8 L748.8,289.1 L752.4,287.7 L755.9,289.8 L759.4,288.6 L763,289.9 L766.5,288.5 L770,289 L773.6,289.7 L777.1,289.1 L780.6,289.8 L784.1,290.1 L787.7,289.9 L791.2,289.2 L794.7,289.9 L798.3,289.5 L801.8,289.7 L805.3,285.4 L808.9,285.7 L812.4,285.3 L815.9,286 L819.4,287.1 L823,286 L826.5,287.7 L830,288.7 L833.6,289.4 L837.1,290.3 L840.6,290.1 L844.2,291.2 L847.7,289.3 L851.2,289.1 L854.7,289.2 L858.3,288.4 L861.8,286.3 L865.3,286.4 L868.9,291.1 L872.4,292.2 L875.9,289.7 L879.5,289.6 L883,288 L886.5,289.4 L890,289.3 L893.6,288.2 L897.1,287.1 L900.6,288.8 L904.2,287.9 L907.7,289.3 L911.2,290.2 L914.8,292.7 L918.3,291.8 L921.8,291.1 L925.3,288.5 L926.4,289.5 L926.4,339 L925.3,340.8 L921.8,341.4 L918.3,339.7 L914.8,340.2 L911.2,340.5 L907.7,341.2 L904.2,340.8 L900.6,341 L897.1,340.4 L893.6,341.8 L890,339.9 L886.5,338.2 L883,330.8 L879.5,322.3 L875.9,325.4 L872.4,333.3 L868.9,322.3 L865.3,340.7 L861.8,329.7 L858.3,319 L854.7,318.8 L851.2,319.1 L847.7,317.9 L844.2,314.9 L840.6,314.5 L837.1,317.3 L833.6,324.3 L830,326.4 L826.5,327.6 L823,326.6 L819.4,328.6 L815.9,328.3 L812.4,328.1 L808.9,325.6 L805.3,324.6 L801.8,322 L798.3,318.5 L794.7,312.8 L791.2,307.7 L787.7,305.2 L784.1,308.8 L780.6,309.7 L777.1,303.8 L773.6,305 L770,305.2 L766.5,303.9 L763,305 L759.4,304.9 L755.9,303.8 L752.4,303.7 L748.8,302.2 L745.3,302.8 L741.8,301.1 L738.3,300.1 L734.7,299.9 L731.2,299.8 L727.7,297.6 L724.1,298.5 L720.6,297.5 L717.1,295.7 L713.5,295.8 L710,294 L706.5,294.3 L703,293.5 L699.4,292.9 L695.9,291.5 L692.4,290.8 L688.8,290.3 L685.3,290.8 L681.8,289.2 L678.2,289 L674.7,288.6 L671.2,288.3 L667.7,287.1 L664.1,286.3 L660.6,286.6 L657.1,285.9 L653.5,285 L650,284.5 L646.5,284 L642.9,283.1 L639.4,282.9 L635.9,281.7 L632.4,281.7 L628.8,280.5 L625.3,280.1 L621.8,279.9 L618.2,278.9 L614.7,278.6 L611.2,277.6 L607.6,277 L604.1,276.4 L600.6,276.1 L597.1,275.3 L593.5,274.7 L590,274.1 L589.8,273.9 L584.4,269.5 L579.8,264.7 L577.2,248.4 L574.6,232Z" fill="#377eb8" fill-opacity="0.3" stroke="#377eb8" stroke-opacity="0.3" stroke-width="1.4" stroke-linejoin="round"/>
<path d="M574.6,224 L577.2,239.4 L580,256 L583.3,260.5 L589.8,269.7 L590,269.9 L593.5,270.6 L597.1,271.4 L600.6,272.1 L604.1,273.3 L607.6,273.9 L611.2,274.7 L614.7,275.4 L618.2,276.5 L621.8,277.1 L625.3,278.1 L628.8,278.8 L632.4,279.6 L635.9,280.6 L639.4,280.9 L642.9,282.3 L646.5,282.6 L650,283.3 L653.5,284.7 L657.1,285.4 L660.6,286.1 L664.1,287.3 L667.7,288.3 L671.2,289.8 L674.7,290.7 L678.2,291 L681.8,292.5 L685.3,292.6 L688.8,294 L692.4,294.8 L695.9,296.7 L699.4,296.9 L703,297.9 L706.5,297.8 L710,299 L713.5,300.1 L717.1,300.4 L720.6,301.5 L724.1,300.5 L727.7,302.2 L731.2,302.4 L734.7,303.1 L738.3,305.4 L741.8,306.4 L745.3,307.5 L748.8,306.8 L752.4,305.2 L755.9,306.5 L759.4,306.4 L763,308.9 L766.5,309.7 L770,311.8 L773.6,312.2 L777.1,307.6 L780.6,307.1 L784.1,311.6 L787.7,314.4 L791.2,316.4 L794.7,318.2 L798.3,319.4 L801.8,318.8 L805.3,320.3 L808.9,320.1 L812.4,321 L815.9,321.5 L819.4,322.1 L823,322.8 L826.5,323.6 L830,323.6 L833.6,324.2 L837.1,325.3 L840.6,326.3 L844.2,323.7 L847.7,323.5 L851.2,328.8 L854.7,328.7 L858.3,327.5 L861.8,329 L865.3,326.7 L868.9,326 L872.4,319.4 L875.9,324 L879.5,324.2 L883,321.2 L886.5,317.7 L890,318.7 L893.6,322.2 L897.1,325 L900.6,320.2 L904.2,320.2 L907.7,315.1 L911.2,327 L914.8,337.8 L918.3,335.5 L921.8,331.7 L925.3,328.3 L926.4,330.5 L926.4,364.1 L925.3,364 L921.8,361.7 L918.3,362.1 L914.8,364.7 L911.2,362.4 L907.7,364.1 L904.2,361.3 L900.6,360.2 L897.1,358.4 L893.6,357.6 L890,355.4 L886.5,356 L883,354.1 L879.5,353.3 L875.9,352.1 L872.4,351.3 L868.9,350.9 L865.3,348.6 L861.8,350.1 L858.3,349.3 L854.7,350 L851.2,348.2 L847.7,348.5 L844.2,345.4 L840.6,344.9 L837.1,345.7 L833.6,347.2 L830,347 L826.5,347.5 L823,346 L819.4,345.8 L815.9,347.1 L812.4,346.8 L808.9,346.4 L805.3,345.7 L801.8,344.2 L798.3,342.1 L794.7,341 L791.2,343.3 L787.7,342.4 L784.1,345.2 L780.6,345.6 L777.1,343.6 L773.6,341.8 L770,339.9 L766.5,336.3 L763,337 L759.4,339.9 L755.9,339.3 L752.4,336.2 L748.8,330.5 L745.3,324.3 L741.8,321.5 L738.3,319.4 L734.7,317 L731.2,316.7 L727.7,314.8 L724.1,313.3 L720.6,311.8 L717.1,310.9 L713.5,310.4 L710,309.9 L706.5,308.9 L703,308 L699.4,306.1 L695.9,305.5 L692.4,304.5 L688.8,303.1 L685.3,302.2 L681.8,302 L678.2,300.6 L674.7,299.4 L671.2,299.5 L667.7,297.7 L664.1,296.9 L660.6,296.4 L657.1,295.2 L653.5,294 L650,293.1 L646.5,292.7 L642.9,291.3 L639.4,290.4 L635.9,289.5 L632.4,289 L628.8,287.4 L625.3,286.5 L621.8,286 L618.2,284.7 L614.7,283.9 L611.2,282.7 L607.6,281.8 L604.1,281.2 L600.6,280.2 L597.1,279 L593.5,278 L590,277.2 L589.8,276.7 L583.3,267.7 L580,263 L577.2,247.5 L574.6,233Z" fill="#4daf4a" fill-opacity="0.3" stroke="#4daf4a" stroke-opacity="0.3" stroke-width="1.4" stroke-linejoin="round"/>
<path d="M574.3,74 L574.3,74 L574.3,74.1 L574.3,74.2 L574.3,74.4 L574.3,74.6 L574.3,74.9 L574.3,75.2 L574.3,75.6 L574.4,76 L574.4,76.5 L574.4,77 L574.4,77.5 L574.4,78.1 L574.4,78.7 L574.4,79.3 L574.5,80 L574.5,80.7 L574.5,81.4 L574.5,82.2 L574.5,83 L574.6,83.8 L574.6,84.6 L574.6,85.5 L574.6,86.4 L574.7,87.3 L574.7,88.3 L574.7,89.2 L574.7,90.2 L574.8,91.2 L574.8,92.2 L574.8,93.2 L574.8,94.2 L574.9,95.3 L574.9,96.3 L574.9,97.4 L575,98.5 L575,99.5 L575,100.6 L575,101.7 L575.1,102.8 L575.1,103.9 L575.1,104.9 L575.2,106 L575.2,107.1 L575.2,108.2 L575.3,109.2 L575.3,110.3 L575.3,111.3 L575.4,112.4 L575.4,113.4 L575.4,114.4 L575.5,115.4 L575.5,116.4 L575.5,117.3 L575.6,118.3 L575.6,119.2 L575.6,120.1 L575.7,121 L575.7,121.8 L575.7,122.7 L575.7,123.5 L575.8,124.3 L575.8,125 L575.8,125.9 L575.9,126.8 L575.9,127.7 L575.9,128.6 L576,129.5 L576,130.5 L576.1,131.4 L576.1,132.3 L576.1,133.2 L576.2,134.2 L576.2,135.1 L576.2,136 L576.3,137 L576.3,137.9 L576.4,138.8 L576.4,139.7 L576.4,140.6 L576.5,141.5 L576.5,142.4 L576.5,143.3 L576.6,144.2 L576.6,145.1 L576.7,146 L576.7,146.8 L576.8,147.7 L576.8,148.5 L576.8,149.3 L576.9,150.1 L576.9,150.9 L577,151.7 L577,152.5 L577,153.2 L577.1,153.9 L577.1,154.6 L577.2,155.3 L577.2,156 L577.2,156.6 L577.3,157.2 L577.3,157.8 L577.4,158.4 L577.4,159 L577.5,159.5 L577.5,160 L577.6,161 L577.7,161.9 L577.7,162.6 L577.8,163.3 L577.9,164 L578,164.7 L578.1,165.5 L578.3,166.4 L578.4,167 L578.5,167.6 L578.6,168.3 L578.7,169 L578.9,169.8 L579,170.5 L579.1,171.3 L579.3,172.1 L579.4,173 L579.6,173.8 L579.7,174.7 L579.9,175.6 L580,176.4 L580.2,177.3 L580.4,178.2 L580.6,179 L580.8,179.9 L580.9,180.7 L581.1,181.6 L581.3,182.4 L581.5,183.2 L581.8,183.9 L582,184.6 L582.2,185.3 L582.4,186 L582.7,186.9 L583,187.8 L583.4,188.6 L583.7,189.4 L584,190.2 L584.4,191 L584.7,191.7 L585.1,192.4 L585.5,193.1 L585.9,193.8 L586.3,194.5 L586.8,195.2 L587.3,195.8 L587.8,196.4 L588.4,197 L588.9,197.6 L589.5,198.1 L590.1,198.7 L590.7,199.2 L591.4,199.7 L592,200.2 L592.7,200.7 L593.4,201.1 L594.1,201.6 L594.8,202 L595.5,202.4 L596.2,202.8 L596.9,203.1 L597.6,203.5 L598.3,203.8 L599,204.1 L599.7,204.4 L600.5,204.7 L601.3,204.9 L602,205.2 L602.8,205.4 L603.6,205.7 L604.4,205.9 L605.2,206.1 L606.1,206.3 L606.9,206.5 L607.6,206.7 L608.4,206.8 L609.2,206.9 L610,207.1 L610.7,207.2 L611.5,207.3 L612.4,207.4 L613.2,207.5 L614,207.5 L614.8,207.6 L615.7,207.7 L616.5,207.7 L617.4,207.8 L618.2,207.8 L619.1,207.9 L619.9,207.9 L620.8,208 L621.6,208 L622.5,208.1 L623.3,208.1 L624.1,208.1 L624.9,208.2 L625.7,208.2 L626.5,208.2 L627.3,208.2 L628.1,208.2 L628.9,208.2 L629.7,208.2 L630.5,208.2 L631.3,208.2 L632.1,208.2 L632.9,208.2 L633.7,208.2 L634.5,208.1 L635.3,208.1 L636.2,208.1 L637,208.1 L637.8,208.1 L638.7,208.1 L639.6,208.1 L643.5,208.1 L647.6,208.1 L651.8,208.1 L655.7,208.7 L659.3,208.6 L663.6,208.7 L667.2,208.6 L670.7,208.6 L674.4,208.8 L678.4,208.7 L682.2,208.8 L686.3,208.8 L689.9,208.9 L693.7,208.6 L697.7,208.5 L701.8,208.5 L706.1,208.8 L709.6,208.5 L713.2,208.8 L716.9,208.7 L720.7,208.4 L724.6,208.8 L728.5,208.4 L732.5,208.9 L736.6,208.8 L740.7,208.5 L744.9,208.8 L749.1,208.8 L753.3,208.4 L757.6,208.7 L762,208.4 L766.3,208.8 L770.7,208.7 L775.2,208.8 L779.6,208.3 L784,208.4 L788.5,208.6 L793,208.6 L797.4,208.3 L801.9,208.7 L806.3,208.7 L810.8,208.3 L815.2,208.2 L819.6,208.5 L823.9,208.3 L828.3,208.5 L832.6,208.4 L836.8,208.3 L841,208 L845.2,208.1 L849.3,208.3 L853.4,208.4 L857.4,208.2 L861.3,208.4 L865.1,208.3 L868.9,208.5 L872.6,208.3 L876.2,208.1 L879.7,208 L884,207.9 L888.1,207.9 L892.1,208.4 L895.9,208.4 L899.5,208.3 L903.5,207.9 L907.3,208.2 L911.3,207.8 L914.9,208.3 L918.5,208.1 L922,208.2 L925.5,208.1 L926,208" fill="none" stroke="#e41a1c" stroke-width="4.2" stroke-linejoin="round" stroke-linecap="butt"/>
<path d="M574.6,229.2 L577.2,252.7 L579.8,263.2 L584.4,269.7 L589.8,271.6 L590,271.4 L593.5,272.7 L597.1,273.3 L600.6,274.2 L604.1,274.6 L607.6,275 L611.2,275.1 L614.7,275.5 L618.2,275.6 L621.8,276.5 L625.3,277.3 L628.8,278 L632.4,277.9 L635.9,278.4 L639.4,279.6 L642.9,280.5 L646.5,281.6 L650,282 L653.5,281.4 L657.1,281 L660.6,284.5 L664.1,283.8 L667.7,285.5 L671.2,287 L674.7,286.7 L678.2,286.5 L681.8,286.4 L685.3,287.5 L688.8,289 L692.4,290.6 L695.9,289 L699.4,288.3 L703,290.3 L706.5,291.1 L710,291.9 L713.5,293.2 L717.1,291.5 L720.6,291.8 L724.1,293.4 L727.7,293.7 L731.2,292.4 L734.7,294.6 L738.3,295.6 L741.8,295.1 L745.3,295.7 L748.8,296.1 L752.4,295.5 L755.9,296.6 L759.4,296.7 L763,296 L766.5,297 L770,297 L773.6,297.9 L777.1,299.7 L780.6,301.2 L784.1,299.7 L787.7,298.1 L791.2,299.5 L794.7,302.3 L798.3,301.9 L801.8,301.4 L805.3,305 L808.9,301.4 L812.4,303.7 L815.9,309.5 L819.4,309.9 L823,308.9 L826.5,305.8 L830,305.7 L833.6,309.5 L837.1,304.8 L840.6,302.2 L844.2,303.3 L847.7,303.9 L851.2,304.8 L854.7,306.7 L858.3,307.2 L861.8,309.8 L865.3,314.7 L868.9,310.8 L872.4,306.2 L875.9,309.7 L879.5,311.9 L883,309 L886.5,308.2 L890,313.1 L893.6,313.8 L897.1,314.1 L900.6,314.3 L904.2,313.9 L907.7,314.9 L911.2,314.2 L914.8,313 L918.3,311.2 L921.8,314.4 L925.3,315.7 L926.4,315.3" fill="none" stroke="#377eb8" stroke-width="4.2" stroke-linejoin="round" stroke-linecap="butt"/>
<path d="M574.6,229.2 L577.2,252.7 L580,259.8 L583.3,269 L589.8,273.5 L590,273.4 L593.5,274.7 L597.1,275.7 L600.6,276.6 L604.1,275.9 L607.6,277.2 L611.2,278.7 L614.7,279.5 L618.2,280.2 L621.8,281.1 L625.3,281.2 L628.8,282.3 L632.4,282.5 L635.9,283.9 L639.4,287 L642.9,288.5 L646.5,287.9 L650,288.6 L653.5,288.9 L657.1,290.1 L660.6,291.8 L664.1,293.8 L667.7,294.4 L671.2,293.5 L674.7,294.5 L678.2,296.9 L681.8,297.2 L685.3,297.5 L688.8,298.5 L692.4,299.4 L695.9,301.7 L699.4,302.5 L703,302.1 L706.5,303.9 L710,304.5 L713.5,304.6 L717.1,305.1 L720.6,305.4 L724.1,305.9 L727.7,306.6 L731.2,312 L734.7,312 L738.3,311.3 L741.8,315 L745.3,313.4 L748.8,314.9 L752.4,321.8 L755.9,323.3 L759.4,323.7 L763,324.6 L766.5,322.4 L770,319.9 L773.6,317.1 L777.1,318.2 L780.6,328.6 L784.1,321.5 L787.7,324.2 L791.2,322.2 L794.7,318.6 L798.3,327.8 L801.8,325.7 L805.3,328.9 L808.9,331.7 L812.4,329.2 L815.9,331.6 L819.4,334.5 L823,330.1 L826.5,329.9 L830,332 L833.6,333.8 L837.1,335 L840.6,335.6 L844.2,334.6 L847.7,334.9 L851.2,338.4 L854.7,338.7 L858.3,338.7 L861.8,338.1 L865.3,336.8 L868.9,334.6 L872.4,335.2 L875.9,336.4 L879.5,336.3 L883,338.6 L886.5,339 L890,338.7 L893.6,340.6 L897.1,344.2 L900.6,346.7 L904.2,343.1 L907.7,338.1 L911.2,343.2 L914.8,347.3 L918.3,348.2 L921.8,348.6 L925.3,349.8 L926.4,350.7" fill="none" stroke="#4daf4a" stroke-width="4.2" stroke-linejoin="round" stroke-linecap="butt"/>
</g>
<rect x="557.5" y="32.4" width="385.2" height="347" fill="none" stroke="#000" stroke-width="1.5"/>
<line x1="574.3" y1="379.4" x2="574.3" y2="386.4" stroke="#000" stroke-width="1.5"/>
<text x="574.3" y="408.7" font-family='"Liberation Serif", serif' font-size="21.9" text-anchor="middle">0</text>
<line x1="680.2" y1="379.4" x2="680.2" y2="386.4" stroke="#000" stroke-width="1.5"/>
<text x="680.2" y="408.7" font-family='"Liberation Serif", serif' font-size="21.9" text-anchor="middle">1500</text>
<line x1="786.1" y1="379.4" x2="786.1" y2="386.4" stroke="#000" stroke-width="1.5"/>
<text x="786.1" y="408.7" font-family='"Liberation Serif", serif' font-size="21.9" text-anchor="middle">3000</text>
<line x1="892" y1="379.4" x2="892" y2="386.4" stroke="#000" stroke-width="1.5"/>
<text x="892" y="408.7" font-family='"Liberation Serif", serif' font-size="21.9" text-anchor="middle">4500</text>
<line x1="550" y1="109.4" x2="557.5" y2="109.4" stroke="#000" stroke-width="1.5"/>
<text x="542.9" y="116.9" font-family='"Liberation Serif", serif' font-size="21.9" text-anchor="end">0.44</text>
<line x1="550" y1="188.5" x2="557.5" y2="188.5" stroke="#000" stroke-width="1.5"/>
<text x="542.9" y="196" font-family='"Liberation Serif", serif' font-size="21.9" text-anchor="end">0.40</text>
<line x1="550" y1="267.5" x2="557.5" y2="267.5" stroke="#000" stroke-width="1.5"/>
<text x="542.9" y="275" font-family='"Liberation Serif", serif' font-size="21.9" text-anchor="end">0.36</text>
<line x1="550" y1="346.6" x2="557.5" y2="346.6" stroke="#000" stroke-width="1.5"/>
<text x="542.9" y="354.1" font-family='"Liberation Serif", serif' font-size="21.9" text-anchor="end">0.32</text>
<text x="750.1" y="435" font-family='"Liberation Sans", sans-serif' font-size="20" text-anchor="middle" textLength="82" lengthAdjust="spacingAndGlyphs">Iterations</text>
<text x="577.6" y="19.6" font-family='"Liberation Sans", sans-serif' font-size="23.5" textLength="84.5" lengthAdjust="spacingAndGlyphs">Teacher:</text>
<text x="675.4" y="19.6" font-family='"Liberation Sans", sans-serif' font-size="23.5" textLength="247.6" lengthAdjust="spacingAndGlyphs">Tanh (Known Direction)</text>
<clipPath id="c2"><rect x="1035.4" y="32.4" width="385.29999999999995" height="347.0"/></clipPath>
<g clip-path="url(#c2)">
<path d="M1053.1,46.9 L1053.1,46.9 L1053.1,47.1 L1053.1,47.3 L1053.1,47.6 L1053.2,48 L1053.2,48.5 L1053.2,49 L1053.2,49.7 L1053.3,50.4 L1053.3,51.1 L1053.3,51.9 L1053.4,52.8 L1053.4,53.7 L1053.4,54.7 L1053.5,55.7 L1053.5,56.8 L1053.6,57.9 L1053.6,59 L1053.7,60.2 L1053.7,61.4 L1053.8,62.6 L1053.9,63.9 L1053.9,65.1 L1054,66.4 L1054,67.7 L1054.1,69 L1054.1,70.3 L1054.2,71.6 L1054.2,72.8 L1054.3,74.1 L1054.4,75.4 L1054.4,76.6 L1054.5,77.9 L1054.5,79.1 L1054.6,80.2 L1054.6,81.4 L1054.7,82.5 L1054.7,83.6 L1054.8,84.6 L1054.8,85.6 L1054.8,86.6 L1054.9,87.5 L1054.9,88.5 L1055,89.5 L1055,90.4 L1055,91.4 L1055.1,92.4 L1055.1,93.4 L1055.1,94.3 L1055.2,95.3 L1055.2,96.3 L1055.2,97.2 L1055.3,98.2 L1055.3,99.2 L1055.3,100.2 L1055.4,101.1 L1055.4,102.1 L1055.4,103.1 L1055.5,104 L1055.5,105 L1055.5,106 L1055.6,106.9 L1055.6,107.9 L1055.6,108.9 L1055.7,109.8 L1055.7,110.8 L1055.7,111.8 L1055.8,112.7 L1055.8,113.7 L1055.9,114.7 L1055.9,115.6 L1056,116.6 L1056,117.5 L1056.1,118.3 L1056.1,119 L1056.2,119.8 L1056.2,120.5 L1056.3,121.3 L1056.3,122 L1056.4,122.8 L1056.5,123.7 L1056.6,124.6 L1056.7,125.5 L1056.7,126.4 L1056.8,127.3 L1056.9,128.2 L1057,129.1 L1057.1,129.9 L1057.2,130.8 L1057.3,131.6 L1057.4,132.5 L1057.6,133.3 L1057.7,134.1 L1057.8,134.9 L1057.9,135.7 L1058,136.5 L1058.1,137.3 L1058.2,138.1 L1058.3,138.9 L1058.4,139.7 L1058.6,140.4 L1058.7,141.2 L1058.8,142 L1058.9,142.7 L1059,143.6 L1059.2,144.5 L1059.3,145.4 L1059.5,146.3 L1059.6,147.1 L1059.7,148 L1059.9,148.8 L1060,149.7 L1060.2,150.5 L1060.3,151.3 L1060.5,152.1 L1060.6,152.9 L1060.8,153.7 L1060.9,154.5 L1061.1,155.3 L1061.3,156.2 L1061.5,157 L1061.7,157.9 L1061.9,158.8 L1062.1,159.8 L1062.3,160.7 L1062.5,161.6 L1062.7,162.5 L1062.9,163.3 L1063.1,164.2 L1063.4,165 L1063.6,165.8 L1063.9,166.6 L1064.3,167.3 L1064.6,168 L1065.1,168.9 L1065.6,169.7 L1066.2,170.5 L1066.8,171.2 L1067.4,171.9 L1068.1,172.5 L1068.8,173.1 L1069.5,173.6 L1070.2,174 L1070.9,174.2 L1071.6,174.4 L1072.4,174.5 L1073.2,174.6 L1074.1,174.6 L1074.9,174.7 L1075.8,174.7 L1076.7,174.7 L1077.7,174.8 L1078.4,174.9 L1079.1,174.9 L1079.8,175 L1080.5,175 L1081.2,175.1 L1081.9,175.1 L1082.7,175.2 L1083.5,175.2 L1084.2,175.2 L1085,175.3 L1085.8,175.3 L1086.7,175.3 L1087.5,175.4 L1088.4,175.4 L1089.3,175.4 L1093,175.3 L1096.9,175.7 L1100.6,175.5 L1104.6,176.2 L1108.7,175.8 L1112.3,176.2 L1116.2,176.6 L1120.3,176.2 L1124.7,176.7 L1128.5,176.6 L1132.4,176.5 L1136.7,176.6 L1140.5,176.6 L1144,176.4 L1148,177 L1151.7,176.5 L1155.6,177.1 L1159.2,177 L1162.8,176.2 L1166.7,176.5 L1170.7,176.7 L1174.8,177 L1179.1,176.4 L1182.6,176.8 L1186.3,176.6 L1189.9,177 L1193.7,177.1 L1197.5,177 L1201.4,176.5 L1205.4,177 L1209.4,176.7 L1213.5,177.1 L1217.6,176.8 L1221.7,177.2 L1226,177.2 L1230.2,177.1 L1234.5,177.1 L1238.8,177.1 L1243.1,176.9 L1247.5,176.5 L1251.8,177.3 L1256.2,176.8 L1260.6,176.4 L1265,176.8 L1269.4,176.8 L1273.8,176.6 L1278.2,177.3 L1282.6,176.5 L1286.9,177.2 L1291.3,176.9 L1295.6,176.6 L1299.9,176.7 L1304.2,176.8 L1308.4,176.5 L1312.6,177.1 L1316.8,177 L1320.9,177.3 L1325,177.1 L1329,177.1 L1332.9,177.3 L1336.8,177.2 L1340.6,177 L1344.4,176.9 L1348.1,176.9 L1351.7,177.1 L1355.2,177.2 L1359.5,177.1 L1363.6,177.1 L1367.6,176.4 L1371.4,176.8 L1375.1,176.5 L1379.2,176.9 L1383.1,176.9 L1386.8,176.9 L1390.6,177.1 L1394.6,176.6 L1398.3,177 L1402,176.9 L1405,176.8 L1405,179.8 L1402,179.9 L1398.3,180 L1394.6,179.6 L1390.6,180.2 L1386.8,179.9 L1383.1,180 L1379.2,180 L1375.1,179.5 L1371.4,179.9 L1367.6,179.5 L1363.6,180.3 L1359.5,180.3 L1355.2,180.4 L1351.7,180.3 L1348.1,180 L1344.4,180.1 L1340.6,180.2 L1336.8,180.4 L1332.9,180.5 L1329,180.3 L1325,180.4 L1320.9,180.5 L1316.8,180.2 L1312.6,180.4 L1308.4,179.8 L1304.2,180.1 L1299.9,180 L1295.6,179.9 L1291.3,180.2 L1286.9,180.6 L1282.6,179.9 L1278.2,180.6 L1273.8,180 L1269.4,180.2 L1265,180.2 L1260.6,179.8 L1256.2,180.2 L1251.8,180.7 L1247.5,180 L1243.1,180.4 L1238.8,180.6 L1234.5,180.6 L1230.2,180.6 L1226,180.8 L1221.7,180.7 L1217.6,180.3 L1213.5,180.7 L1209.4,180.3 L1205.4,180.6 L1201.4,180.1 L1197.5,180.6 L1193.7,180.8 L1189.9,180.6 L1186.3,180.3 L1182.6,180.5 L1179.1,180.1 L1174.8,180.7 L1170.7,180.4 L1166.7,180.2 L1162.8,180 L1159.2,180.7 L1155.6,180.8 L1151.7,180.3 L1148,180.8 L1144,180.2 L1140.5,180.4 L1136.7,180.4 L1132.4,180.3 L1128.5,180.4 L1124.7,180.6 L1120.3,180 L1116.2,180.4 L1112.3,180 L1108.7,179.7 L1104.6,180.1 L1100.6,179.4 L1096.9,179.6 L1093,179.3 L1089.3,179.4 L1088.4,179.4 L1087.5,179.3 L1086.7,179.3 L1085.8,179.3 L1085,179.2 L1084.2,179.2 L1083.5,179.2 L1082.7,179.1 L1081.9,179.1 L1081.2,179 L1080.5,179 L1079.8,179 L1079.1,178.9 L1078.4,178.8 L1077.7,178.8 L1076.7,178.7 L1075.8,178.7 L1074.9,178.6 L1074.1,178.6 L1073.2,178.6 L1072.4,178.5 L1071.6,178.4 L1070.9,178.2 L1070.2,178 L1069.5,177.7 L1068.8,177.4 L1068.1,177 L1067.4,176.5 L1066.8,175.9 L1066.2,175.3 L1065.6,174.7 L1065.1,173.9 L1064.6,173.2 L1064.3,172.6 L1063.9,171.9 L1063.6,171.2 L1063.4,170.5 L1063.1,169.7 L1062.9,168.9 L1062.7,168 L1062.5,167.2 L1062.3,166.3 L1062.1,165.5 L1061.9,164.6 L1061.7,163.7 L1061.5,162.9 L1061.3,162 L1061.1,161.2 L1060.9,160.5 L1060.8,159.7 L1060.6,158.9 L1060.5,158.2 L1060.3,157.4 L1060.2,156.6 L1060,155.8 L1059.9,155 L1059.7,154.2 L1059.6,153.4 L1059.5,152.5 L1059.3,151.7 L1059.2,150.8 L1059,150 L1058.9,149.1 L1058.8,148.4 L1058.7,147.6 L1058.6,146.9 L1058.4,146.1 L1058.3,145.4 L1058.2,144.6 L1058.1,143.9 L1058,143.1 L1057.9,142.3 L1057.8,141.5 L1057.7,140.8 L1057.6,140 L1057.4,139.1 L1057.3,138.3 L1057.2,137.5 L1057.1,136.7 L1057,135.8 L1056.9,135 L1056.8,134.1 L1056.7,133.3 L1056.7,132.4 L1056.6,131.5 L1056.5,130.6 L1056.4,129.7 L1056.3,129 L1056.3,128.2 L1056.2,127.5 L1056.2,126.8 L1056.1,126 L1056.1,125.2 L1056,124.5 L1056,123.7 L1055.9,123 L1055.9,122.2 L1055.8,121.5 L1055.8,120.7 L1055.7,119.9 L1055.7,119.2 L1055.7,118.4 L1055.6,117.6 L1055.6,116.8 L1055.6,116 L1055.5,115.2 L1055.5,114.4 L1055.5,113.6 L1055.4,112.8 L1055.4,111.9 L1055.4,111.1 L1055.3,110.3 L1055.3,109.5 L1055.3,108.7 L1055.2,107.8 L1055.2,107 L1055.2,106.2 L1055.1,105.4 L1055.1,104.6 L1055.1,103.8 L1055,103 L1055,102.1 L1055,101.3 L1054.9,100.6 L1054.9,99.8 L1054.8,99 L1054.8,98.2 L1054.8,97.4 L1054.7,96.6 L1054.7,95.7 L1054.6,94.8 L1054.6,93.9 L1054.5,93 L1054.5,92 L1054.4,91 L1054.4,90 L1054.3,89 L1054.2,88 L1054.2,87 L1054.1,86 L1054.1,85 L1054,83.9 L1054,82.9 L1053.9,81.9 L1053.9,80.9 L1053.8,79.9 L1053.7,78.9 L1053.7,78 L1053.6,77.1 L1053.6,76.2 L1053.5,75.3 L1053.5,74.4 L1053.4,73.6 L1053.4,72.8 L1053.4,72.1 L1053.3,71.4 L1053.3,70.8 L1053.3,70.2 L1053.2,69.6 L1053.2,69.1 L1053.2,68.7 L1053.2,68.3 L1053.1,68 L1053.1,67.7 L1053.1,67.6 L1053.1,67.4 L1053.1,67.4Z" fill="#e41a1c" fill-opacity="0.3" stroke="#e41a1c" stroke-opacity="0.3" stroke-width="1.4" stroke-linejoin="round"/>
<path d="M1053.1,119.8 L1054.8,173.5 L1061.4,187.1 L1062,187.8 L1065.5,188.4 L1069.1,187.7 L1072.6,190.6 L1076.1,190.3 L1079.6,191.3 L1083.2,191.2 L1086.7,194.3 L1090.2,195 L1093.8,195.5 L1097.3,196.6 L1100.8,197.9 L1104.4,199.4 L1107.9,198.3 L1111.4,200.6 L1114.9,200.1 L1118.5,201.3 L1122,203.2 L1125.5,204.8 L1129.1,205 L1132.6,205.4 L1136.1,204.7 L1139.7,208.4 L1143.2,206.3 L1146.7,209.3 L1150.2,208.8 L1153.8,212.3 L1157.3,212.7 L1160.8,214.1 L1164.4,213.9 L1167.9,215.7 L1171.4,215 L1175,216 L1178.5,217.8 L1182,219.5 L1185.5,220.3 L1189.1,219 L1192.6,222.8 L1196.1,223.2 L1199.7,222.5 L1203.2,224.5 L1206.7,227.2 L1210.3,226.7 L1213.8,227.5 L1217.3,229.9 L1220.8,230.3 L1224.4,234.7 L1227.9,235.3 L1231.4,234.2 L1235,236.1 L1238.5,236.1 L1242,234.5 L1245.6,239 L1249.1,238.2 L1252.6,240.6 L1256.1,237.1 L1259.7,233.1 L1263.2,234.1 L1266.7,238.7 L1270.3,246.8 L1273.8,246.6 L1277.3,248.8 L1280.9,245 L1284.4,249.4 L1287.9,252.9 L1291.4,254.4 L1295,253.4 L1298.5,254.9 L1302,255 L1305.6,253 L1309.1,252.6 L1312.6,257.7 L1316.2,255.4 L1319.7,257.1 L1323.2,257.9 L1326.7,259.5 L1330.3,264.4 L1333.8,261.2 L1337.3,259.2 L1340.9,258.6 L1344.4,258.5 L1347.9,268.7 L1351.5,258.8 L1355,262 L1358.5,269 L1362,261.9 L1365.6,266.6 L1369.1,265.8 L1372.6,270.3 L1376.2,270.5 L1379.7,273.9 L1383.2,274.6 L1386.8,274.7 L1390.3,272.6 L1393.8,275 L1397.3,278 L1400.9,274.5 L1404.4,280.1 L1404.9,275.4 L1404.9,347.8 L1404.4,344.4 L1400.9,351.5 L1397.3,349.9 L1393.8,349 L1390.3,351.3 L1386.8,345.4 L1383.2,345.6 L1379.7,349.1 L1376.2,352.5 L1372.6,350.3 L1369.1,349.6 L1365.6,346 L1362,345.1 L1358.5,345.2 L1355,345.1 L1351.5,346.8 L1347.9,338 L1344.4,332.1 L1340.9,334.5 L1337.3,337.8 L1333.8,336.1 L1330.3,339.2 L1326.7,342.5 L1323.2,349 L1319.7,345.4 L1316.2,343.6 L1312.6,344.1 L1309.1,343.8 L1305.6,343.7 L1302,339.4 L1298.5,340.2 L1295,338.7 L1291.4,335.8 L1287.9,329.2 L1284.4,330.1 L1280.9,327.3 L1277.3,327.5 L1273.8,327.1 L1270.3,321.8 L1266.7,322.1 L1263.2,318.9 L1259.7,319.1 L1256.1,318.1 L1252.6,314.8 L1249.1,310.9 L1245.6,310 L1242,305.7 L1238.5,303.3 L1235,306.8 L1231.4,305.5 L1227.9,309.2 L1224.4,306.2 L1220.8,305.5 L1217.3,305 L1213.8,307.3 L1210.3,305.2 L1206.7,303.4 L1203.2,299.2 L1199.7,297.1 L1196.1,295.2 L1192.6,291.4 L1189.1,289.9 L1185.5,287.9 L1182,285 L1178.5,284.3 L1175,284.8 L1171.4,283 L1167.9,279.8 L1164.4,278.4 L1160.8,278.1 L1157.3,274 L1153.8,271.8 L1150.2,268 L1146.7,266.6 L1143.2,265.8 L1139.7,263.3 L1136.1,258.3 L1132.6,255.1 L1129.1,251.3 L1125.5,248.3 L1122,245.3 L1118.5,242.9 L1114.9,237.9 L1111.4,236 L1107.9,230.1 L1104.4,228.8 L1100.8,223.5 L1097.3,220.1 L1093.8,219.9 L1090.2,215.6 L1086.7,214.9 L1083.2,210.4 L1079.6,208.4 L1076.1,206 L1072.6,204.4 L1069.1,201.4 L1065.5,200.3 L1062,198.4 L1061.4,197.9 L1054.8,201 L1053.1,208.2Z" fill="#377eb8" fill-opacity="0.3" stroke="#377eb8" stroke-opacity="0.3" stroke-width="1.4" stroke-linejoin="round"/>
<path d="M1053.1,125 L1054.8,175.9 L1061.4,186.5 L1062,187 L1065.5,188 L1069.1,188.2 L1072.6,190.3 L1076.1,191.5 L1079.6,191.8 L1083.2,194.3 L1086.7,193.2 L1090.2,195.1 L1093.8,196.7 L1097.3,198.7 L1100.8,200.1 L1104.4,199.3 L1107.9,201.8 L1111.4,201.3 L1114.9,202.2 L1118.5,205.2 L1122,206.2 L1125.5,205.3 L1129.1,207.1 L1132.6,208.6 L1136.1,208.6 L1139.7,208.3 L1143.2,209 L1146.7,211.8 L1150.2,210.1 L1153.8,209.3 L1157.3,209.8 L1160.8,213.4 L1164.4,215.5 L1167.9,215 L1171.4,216.4 L1175,220.6 L1178.5,219.5 L1182,222.9 L1185.5,222.6 L1189.1,226 L1192.6,225 L1196.1,227 L1199.7,228.1 L1203.2,224.6 L1206.7,225.3 L1210.3,223.9 L1213.8,225.3 L1217.3,226.7 L1220.8,232.1 L1224.4,232.2 L1227.9,237.8 L1231.4,238.1 L1235,243.1 L1238.5,243.8 L1242,246 L1245.6,246.1 L1249.1,249.6 L1252.6,251.6 L1256.1,247.2 L1259.7,246.1 L1263.2,235.8 L1266.7,242.1 L1270.3,252.3 L1273.8,251.1 L1277.3,253.3 L1280.9,255 L1284.4,252.3 L1287.9,251.4 L1291.4,247.9 L1295,253.3 L1298.5,256.8 L1302,262.3 L1305.6,266.6 L1309.1,270.6 L1312.6,267.7 L1316.2,264.2 L1319.7,262.8 L1323.2,269 L1326.7,270.3 L1330.3,273.9 L1333.8,274.4 L1337.3,276.1 L1340.9,272.8 L1344.4,266 L1347.9,267.6 L1351.5,272.3 L1355,277.1 L1358.5,284.4 L1362,281.2 L1365.6,284.2 L1369.1,283.3 L1372.6,286 L1376.2,279.7 L1379.7,282.2 L1383.2,285.9 L1386.8,284 L1390.3,283.6 L1393.8,291.9 L1397.3,297.8 L1400.9,296.5 L1404.4,300.9 L1404.9,298.1 L1404.9,359.8 L1404.4,359 L1400.9,361.5 L1397.3,361.9 L1393.8,364.4 L1390.3,363.3 L1386.8,363.4 L1383.2,360 L1379.7,359.3 L1376.2,360.8 L1372.6,361.7 L1369.1,360.3 L1365.6,353.2 L1362,348 L1358.5,342.6 L1355,343.1 L1351.5,350.9 L1347.9,352.2 L1344.4,354.3 L1340.9,349.5 L1337.3,352.4 L1333.8,346.1 L1330.3,346.2 L1326.7,344 L1323.2,342.2 L1319.7,341.1 L1316.2,341.5 L1312.6,336.7 L1309.1,339.2 L1305.6,336.5 L1302,331.8 L1298.5,332.3 L1295,328.4 L1291.4,327 L1287.9,323.1 L1284.4,323 L1280.9,320.7 L1277.3,321.2 L1273.8,321.2 L1270.3,320.3 L1266.7,317.8 L1263.2,313.9 L1259.7,308.2 L1256.1,308.6 L1252.6,306.7 L1249.1,305.3 L1245.6,300.8 L1242,302.8 L1238.5,301.5 L1235,300.3 L1231.4,296 L1227.9,296.8 L1224.4,296.9 L1220.8,296.5 L1217.3,294.7 L1213.8,294.6 L1210.3,291 L1206.7,290.6 L1203.2,288.5 L1199.7,288.5 L1196.1,286.1 L1192.6,281.9 L1189.1,281.5 L1185.5,277.4 L1182,277.2 L1178.5,274.3 L1175,273.3 L1171.4,270.8 L1167.9,269.3 L1164.4,268.6 L1160.8,266.7 L1157.3,266.3 L1153.8,261.8 L1150.2,261.6 L1146.7,259.4 L1143.2,258.2 L1139.7,255.5 L1136.1,252.1 L1132.6,250.4 L1129.1,248.4 L1125.5,244.1 L1122,241.6 L1118.5,238.7 L1114.9,235.7 L1111.4,231 L1107.9,229.4 L1104.4,225.5 L1100.8,222.6 L1097.3,221.2 L1093.8,218.6 L1090.2,215.6 L1086.7,211.9 L1083.2,209.2 L1079.6,207.2 L1076.1,205.9 L1072.6,202.8 L1069.1,201.1 L1065.5,197.8 L1062,196.9 L1061.4,197.6 L1054.8,197.5 L1053.1,200Z" fill="#4daf4a" fill-opacity="0.3" stroke="#4daf4a" stroke-opacity="0.3" stroke-width="1.4" stroke-linejoin="round"/>
<path d="M1053.1,61.5 L1053.1,61.5 L1053.1,61.7 L1053.1,61.9 L1053.1,62.1 L1053.2,62.5 L1053.2,62.9 L1053.2,63.3 L1053.2,63.8 L1053.3,64.4 L1053.3,65.1 L1053.3,65.7 L1053.4,66.5 L1053.4,67.2 L1053.4,68.1 L1053.5,68.9 L1053.5,69.8 L1053.6,70.7 L1053.6,71.7 L1053.7,72.7 L1053.7,73.7 L1053.8,74.7 L1053.9,75.7 L1053.9,76.8 L1054,77.9 L1054,78.9 L1054.1,80 L1054.1,81.1 L1054.2,82.2 L1054.2,83.3 L1054.3,84.3 L1054.4,85.4 L1054.4,86.5 L1054.5,87.5 L1054.5,88.5 L1054.6,89.5 L1054.6,90.5 L1054.7,91.4 L1054.7,92.3 L1054.8,93.2 L1054.8,94 L1054.8,94.8 L1054.9,95.6 L1054.9,96.5 L1055,97.3 L1055,98.1 L1055,99 L1055.1,99.8 L1055.1,100.7 L1055.1,101.5 L1055.2,102.4 L1055.2,103.2 L1055.2,104.1 L1055.3,104.9 L1055.3,105.8 L1055.3,106.6 L1055.4,107.5 L1055.4,108.3 L1055.4,109.2 L1055.5,110 L1055.5,110.9 L1055.5,111.7 L1055.6,112.6 L1055.6,113.4 L1055.6,114.2 L1055.7,115 L1055.7,115.9 L1055.7,116.7 L1055.8,117.5 L1055.8,118.3 L1055.9,119.1 L1055.9,119.9 L1056,120.7 L1056,121.5 L1056.1,122.2 L1056.1,123 L1056.2,123.8 L1056.2,124.5 L1056.3,125.3 L1056.3,126 L1056.4,126.7 L1056.5,127.6 L1056.6,128.5 L1056.7,129.4 L1056.7,130.3 L1056.8,131.2 L1056.9,132.1 L1057,132.9 L1057.1,133.8 L1057.2,134.6 L1057.3,135.4 L1057.4,136.3 L1057.6,137.1 L1057.7,137.9 L1057.8,138.7 L1057.9,139.5 L1058,140.3 L1058.1,141 L1058.2,141.8 L1058.3,142.6 L1058.4,143.3 L1058.6,144.1 L1058.7,144.8 L1058.8,145.6 L1058.9,146.3 L1059,147.2 L1059.2,148.1 L1059.3,148.9 L1059.5,149.8 L1059.6,150.6 L1059.7,151.5 L1059.9,152.3 L1060,153.1 L1060.2,153.9 L1060.3,154.7 L1060.5,155.5 L1060.6,156.3 L1060.8,157 L1060.9,157.8 L1061.1,158.6 L1061.3,159.4 L1061.5,160.3 L1061.7,161.1 L1061.9,162 L1062.1,162.9 L1062.3,163.8 L1062.5,164.6 L1062.7,165.5 L1062.9,166.4 L1063.1,167.2 L1063.4,168 L1063.6,168.7 L1063.9,169.5 L1064.3,170.2 L1064.6,170.8 L1065.1,171.6 L1065.6,172.3 L1066.2,173 L1066.8,173.7 L1067.4,174.3 L1068.1,174.8 L1068.8,175.3 L1069.5,175.7 L1070.2,176 L1070.9,176.2 L1071.6,176.4 L1072.4,176.5 L1073.2,176.6 L1074.1,176.6 L1074.9,176.6 L1075.8,176.7 L1076.7,176.7 L1077.7,176.8 L1078.4,176.9 L1079.1,176.9 L1079.8,177 L1080.5,177 L1081.2,177.1 L1081.9,177.1 L1082.7,177.1 L1083.5,177.2 L1084.2,177.2 L1085,177.3 L1085.8,177.3 L1086.7,177.3 L1087.5,177.4 L1088.4,177.4 L1089.3,177.4 L1093,177.3 L1096.9,177.7 L1100.6,177.5 L1104.6,178.2 L1108.7,177.7 L1112.3,178.1 L1116.2,178.5 L1120.3,178.1 L1124.7,178.7 L1128.5,178.5 L1132.4,178.4 L1136.7,178.5 L1140.5,178.5 L1144,178.3 L1148,178.9 L1151.7,178.4 L1155.6,178.9 L1159.2,178.8 L1162.8,178.1 L1166.7,178.3 L1170.7,178.5 L1174.8,178.8 L1179.1,178.3 L1182.6,178.7 L1186.3,178.4 L1189.9,178.8 L1193.7,179 L1197.5,178.8 L1201.4,178.3 L1205.4,178.8 L1209.4,178.5 L1213.5,178.9 L1217.6,178.5 L1221.7,178.9 L1226,179 L1230.2,178.9 L1234.5,178.9 L1238.8,178.9 L1243.1,178.7 L1247.5,178.3 L1251.8,179 L1256.2,178.5 L1260.6,178.1 L1265,178.5 L1269.4,178.5 L1273.8,178.3 L1278.2,178.9 L1282.6,178.2 L1286.9,178.9 L1291.3,178.6 L1295.6,178.2 L1299.9,178.4 L1304.2,178.5 L1308.4,178.1 L1312.6,178.7 L1316.8,178.6 L1320.9,178.9 L1325,178.8 L1329,178.7 L1332.9,178.9 L1336.8,178.8 L1340.6,178.6 L1344.4,178.5 L1348.1,178.4 L1351.7,178.7 L1355.2,178.8 L1359.5,178.7 L1363.6,178.7 L1367.6,178 L1371.4,178.3 L1375.1,178 L1379.2,178.4 L1383.1,178.4 L1386.8,178.4 L1390.6,178.7 L1394.6,178.1 L1398.3,178.5 L1402,178.4 L1405,178.3" fill="none" stroke="#e41a1c" stroke-width="4.2" stroke-linejoin="round" stroke-linecap="butt"/>
<path d="M1053.1,162 L1054.8,192 L1061.4,193.5 L1062,193.9 L1065.5,195.8 L1069.1,197.3 L1072.6,200.2 L1076.1,202.9 L1079.6,204.3 L1083.2,206.4 L1086.7,208.2 L1090.2,210.2 L1093.8,210.5 L1097.3,213.1 L1100.8,217.1 L1104.4,219.1 L1107.9,220.7 L1111.4,223.8 L1114.9,224.5 L1118.5,226.7 L1122,228.6 L1125.5,230 L1129.1,231.6 L1132.6,234.2 L1136.1,236.4 L1139.7,237.7 L1143.2,239.3 L1146.7,241.2 L1150.2,241.8 L1153.8,244.6 L1157.3,245.7 L1160.8,248.2 L1164.4,249 L1167.9,248.9 L1171.4,247.8 L1175,251.2 L1178.5,253.5 L1182,254.4 L1185.5,256.2 L1189.1,256 L1192.6,257.2 L1196.1,259.5 L1199.7,259.1 L1203.2,264.5 L1206.7,264.7 L1210.3,266.5 L1213.8,267.3 L1217.3,266.3 L1220.8,267.9 L1224.4,270.3 L1227.9,272.6 L1231.4,274.6 L1235,275.3 L1238.5,275.2 L1242,277.5 L1245.6,277 L1249.1,279 L1252.6,281.1 L1256.1,281.2 L1259.7,276.1 L1263.2,273.5 L1266.7,285.9 L1270.3,283.5 L1273.8,283.1 L1277.3,284.8 L1280.9,287.9 L1284.4,289.2 L1287.9,291.1 L1291.4,292.4 L1295,294.7 L1298.5,296.4 L1302,293.5 L1305.6,293.3 L1309.1,295.1 L1312.6,297.6 L1316.2,297.6 L1319.7,299.9 L1323.2,299.5 L1326.7,299.1 L1330.3,297.5 L1333.8,298.2 L1337.3,299 L1340.9,299.6 L1344.4,299.7 L1347.9,303.9 L1351.5,305.6 L1355,304.2 L1358.5,306.9 L1362,307.5 L1365.6,305.6 L1369.1,308.7 L1372.6,311.4 L1376.2,311.6 L1379.7,309 L1383.2,309.8 L1386.8,314 L1390.3,307.8 L1393.8,312.3 L1397.3,315.7 L1400.9,312.1 L1404.4,313.8 L1404.9,313.6" fill="none" stroke="#377eb8" stroke-width="4.2" stroke-linejoin="round" stroke-linecap="butt"/>
<path d="M1053.1,159.1 L1054.8,190.2 L1061.4,191.8 L1062,191.3 L1065.5,194 L1069.1,194.9 L1072.6,198.4 L1076.1,201.1 L1079.6,203.2 L1083.2,204.5 L1086.7,206.5 L1090.2,208.2 L1093.8,207.5 L1097.3,210.1 L1100.8,212.9 L1104.4,215.1 L1107.9,217.7 L1111.4,220.6 L1114.9,221.8 L1118.5,223.7 L1122,225.7 L1125.5,227.4 L1129.1,227.8 L1132.6,229.4 L1136.1,231.6 L1139.7,232.6 L1143.2,233.9 L1146.7,233.1 L1150.2,235 L1153.8,237.3 L1157.3,237.6 L1160.8,235.7 L1164.4,240.4 L1167.9,243.2 L1171.4,243.9 L1175,245.5 L1178.5,244.6 L1182,248.7 L1185.5,249.8 L1189.1,251.2 L1192.6,251.6 L1196.1,253 L1199.7,254.6 L1203.2,255 L1206.7,257.5 L1210.3,259 L1213.8,258.5 L1217.3,257.4 L1220.8,260.8 L1224.4,263 L1227.9,265.9 L1231.4,269 L1235,269.3 L1238.5,272 L1242,273.2 L1245.6,273 L1249.1,275.6 L1252.6,276.6 L1256.1,274.7 L1259.7,272.9 L1263.2,273.7 L1266.7,278.5 L1270.3,285.6 L1273.8,288.5 L1277.3,289.7 L1280.9,288.7 L1284.4,287 L1287.9,289 L1291.4,291.6 L1295,292.8 L1298.5,293.6 L1302,297.9 L1305.6,303.8 L1309.1,304.5 L1312.6,302.6 L1316.2,301.1 L1319.7,304 L1323.2,305.7 L1326.7,303.6 L1330.3,304.9 L1333.8,306.7 L1337.3,315.2 L1340.9,312.3 L1344.4,311.1 L1347.9,311.5 L1351.5,314.1 L1355,313.3 L1358.5,314 L1362,314.4 L1365.6,319.3 L1369.1,319.8 L1372.6,323 L1376.2,324.2 L1379.7,323 L1383.2,325.5 L1386.8,323.3 L1390.3,319.6 L1393.8,328.7 L1397.3,329.9 L1400.9,329.5 L1404.4,327.9 L1404.9,328.6" fill="none" stroke="#4daf4a" stroke-width="4.2" stroke-linejoin="round" stroke-linecap="butt"/>
</g>
<rect x="1035.4" y="32.4" width="385.3" height="347" fill="none" stroke="#000" stroke-width="1.5"/>
<line x1="1052.2" y1="379.4" x2="1052.2" y2="386.4" stroke="#000" stroke-width="1.5"/>
<text x="1052.2" y="408.7" font-family='"Liberation Serif", serif' font-size="21.9" text-anchor="middle">0</text>
<line x1="1158.1" y1="379.4" x2="1158.1" y2="386.4" stroke="#000" stroke-width="1.5"/>
<text x="1158.1" y="408.7" font-family='"Liberation Serif", serif' font-size="21.9" text-anchor="middle">1500</text>
<line x1="1264" y1="379.4" x2="1264" y2="386.4" stroke="#000" stroke-width="1.5"/>
<text x="1264" y="408.7" font-family='"Liberation Serif", serif' font-size="21.9" text-anchor="middle">3000</text>
<line x1="1369.9" y1="379.4" x2="1369.9" y2="386.4" stroke="#000" stroke-width="1.5"/>
<text x="1369.9" y="408.7" font-family='"Liberation Serif", serif' font-size="21.9" text-anchor="middle">4500</text>
<line x1="1027.9" y1="71.9" x2="1035.4" y2="71.9" stroke="#000" stroke-width="1.5"/>
<text x="1020.8" y="79.4" font-family='"Liberation Serif", serif' font-size="21.9" text-anchor="end">1.05</text>
<line x1="1027.9" y1="148.1" x2="1035.4" y2="148.1" stroke="#000" stroke-width="1.5"/>
<text x="1020.8" y="155.6" font-family='"Liberation Serif", serif' font-size="21.9" text-anchor="end">1.00</text>
<line x1="1027.9" y1="224.3" x2="1035.4" y2="224.3" stroke="#000" stroke-width="1.5"/>
<text x="1020.8" y="231.8" font-family='"Liberation Serif", serif' font-size="21.9" text-anchor="end">0.95</text>
<line x1="1027.9" y1="300.5" x2="1035.4" y2="300.5" stroke="#000" stroke-width="1.5"/>
<text x="1020.8" y="308" font-family='"Liberation Serif", serif' font-size="21.9" text-anchor="end">0.90</text>
<line x1="1027.9" y1="376.7" x2="1035.4" y2="376.7" stroke="#000" stroke-width="1.5"/>
<text x="1020.8" y="384.2" font-family='"Liberation Serif", serif' font-size="21.9" text-anchor="end">0.85</text>
<text x="1228.1" y="435" font-family='"Liberation Sans", sans-serif' font-size="20" text-anchor="middle" textLength="82" lengthAdjust="spacingAndGlyphs">Iterations</text>
<text x="1062.5" y="19.6" font-family='"Liberation Sans", sans-serif' font-size="23.5" textLength="84.5" lengthAdjust="spacingAndGlyphs">Teacher:</text>
<text x="1160.3" y="19.6" font-family='"Liberation Sans", sans-serif' font-size="23.5" textLength="235.2" lengthAdjust="spacingAndGlyphs">He2 (Known Direction)</text>
<clipPath id="c3"><rect x="79.5" y="512.5" width="385.0" height="346.9"/></clipPath>
<g clip-path="url(#c3)">
<path d="M96.3,531.7 L96.3,531.7 L96.3,531.8 L96.3,531.9 L96.3,532 L96.3,532.2 L96.3,532.3 L96.3,532.6 L96.3,532.8 L96.3,533.1 L96.3,533.5 L96.3,533.8 L96.3,534.2 L96.4,534.6 L96.4,535.1 L96.4,535.6 L96.4,536.1 L96.4,536.6 L96.4,537.2 L96.4,537.8 L96.4,538.4 L96.4,539 L96.5,539.7 L96.5,540.4 L96.5,541.1 L96.5,541.9 L96.5,542.7 L96.5,543.5 L96.5,544.3 L96.6,545.1 L96.6,546 L96.6,546.9 L96.6,547.8 L96.6,548.7 L96.6,549.7 L96.7,550.6 L96.7,551.6 L96.7,552.6 L96.7,553.7 L96.7,554.7 L96.8,555.8 L96.8,556.8 L96.8,557.9 L96.8,559 L96.8,560.1 L96.9,561.3 L96.9,562.4 L96.9,563.6 L96.9,564.8 L97,566 L97,567.2 L97,568.4 L97,569.6 L97.1,570.8 L97.1,572.1 L97.1,573.3 L97.1,574.6 L97.1,575.8 L97.2,577.1 L97.2,578.4 L97.2,579.7 L97.2,581 L97.3,582.3 L97.3,583.6 L97.3,584.9 L97.3,586.2 L97.4,587.6 L97.4,588.9 L97.4,590.2 L97.4,591.5 L97.5,592.9 L97.5,594.2 L97.5,595.5 L97.5,596.9 L97.6,598.2 L97.6,599.5 L97.6,600.9 L97.6,602.2 L97.7,603.5 L97.7,604.8 L97.7,606.2 L97.7,607.5 L97.8,608.8 L97.8,610.1 L97.8,611.4 L97.8,612.7 L97.9,614 L97.9,615.3 L97.9,616.6 L97.9,617.8 L98,619.1 L98,620.3 L98,621.6 L98,622.8 L98.1,624 L98.1,625.2 L98.1,626.4 L98.1,627.6 L98.1,628.8 L98.2,629.9 L98.2,631.1 L98.2,632.2 L98.2,633.3 L98.3,634.4 L98.3,635.5 L98.3,636.6 L98.3,637.6 L98.3,638.7 L98.4,639.7 L98.4,640.7 L98.4,641.7 L98.4,642.7 L98.4,643.6 L98.4,644.5 L98.5,645.4 L98.5,646.3 L98.5,647.2 L98.5,648 L98.5,649.1 L98.5,650.2 L98.6,651.3 L98.6,652.4 L98.6,653.5 L98.6,654.6 L98.6,655.6 L98.6,656.6 L98.6,657.7 L98.6,658.7 L98.6,659.7 L98.6,660.7 L98.6,661.7 L98.6,662.6 L98.6,663.6 L98.7,664.5 L98.7,665.5 L98.7,666.4 L98.7,667.4 L98.7,668.3 L98.7,669.2 L98.7,670.1 L98.7,671.1 L98.7,672 L98.7,672.9 L98.7,673.8 L98.7,674.7 L98.7,675.6 L98.7,676.5 L98.7,677.4 L98.7,678.2 L98.7,679.1 L98.7,680 L98.7,680.9 L98.7,681.8 L98.7,682.7 L98.7,683.6 L98.7,684.5 L98.7,685.4 L98.7,686.3 L98.8,687.2 L98.8,688.1 L98.8,689.1 L98.8,690 L98.8,690.9 L98.8,691.8 L98.9,692.8 L98.9,693.7 L98.9,694.7 L99,695.6 L99,696.6 L99,697.4 L99.1,698.1 L99.1,698.8 L99.1,699.4 L99.2,700.1 L99.2,700.7 L99.3,701.3 L99.3,701.9 L99.4,702.5 L99.4,703.1 L99.5,703.7 L99.7,705 L99.8,706.2 L100,707.4 L100.2,708.5 L100.4,709.5 L100.6,710.6 L100.8,711.6 L101,712.6 L101.3,713.6 L101.5,714.6 L101.7,715.6 L101.9,716.7 L102.2,717.7 L102.4,718.5 L102.6,719.3 L102.9,720.2 L103.1,720.9 L103.4,721.7 L103.7,722.4 L104,723 L104.5,723.8 L105.1,724.5 L105.7,725.1 L106.3,725.8 L106.9,726.5 L107.4,727.1 L107.8,727.7 L108.2,728.4 L108.7,729.2 L109.2,729.8 L109.7,730.5 L110.3,731.1 L110.9,731.6 L111.5,732 L112.2,732.4 L112.9,732.7 L113.7,733 L114.5,733.2 L115.3,733.5 L116.1,733.7 L116.9,733.9 L117.7,734.1 L118.5,734.2 L119.3,734.5 L120.2,734.6 L121,734.8 L121.8,734.9 L122.7,735.1 L123.5,735.2 L124.3,735.3 L125.2,735.4 L126,735.6 L126.8,735.7 L127.7,735.8 L128.5,735.9 L129.3,736.1 L130.1,736.2 L131,736.3 L131.9,736.4 L132.8,736.6 L133.8,736.7 L134.5,736.8 L135.2,736.9 L135.9,736.9 L136.6,737 L137.3,737.1 L138,737.2 L138.8,737.3 L139.5,737.4 L143.6,737.8 L147.2,738.2 L151,738.7 L155.2,738.6 L159,738.8 L162.9,739.3 L167.1,739.4 L171.3,739.5 L175.7,739.8 L179.2,739.9 L182.7,739.9 L186.3,740.5 L190.2,740.9 L194,740.9 L197.8,740.9 L201.6,740.8 L205.4,741 L209.4,740.9 L213.3,741.5 L217.3,741.3 L221.4,741.4 L225.5,742.1 L229.7,741.7 L233.9,742.4 L238.3,742.2 L242.2,742.5 L245.9,742.5 L249.7,742.4 L253.6,742.9 L257.5,742.8 L261.5,743.1 L265.5,743 L269.5,743.1 L273.6,743.6 L277.7,743.5 L281.8,744 L286,744.6 L290.1,744.9 L294.3,744.6 L298.4,744.6 L302.6,744.9 L306.7,744.9 L310.9,745.2 L315,745.7 L319,745.9 L323,745.6 L327.1,746.2 L331.2,746.3 L335.4,746.5 L339.6,746.4 L343.8,746.8 L347.9,746.8 L352.1,747.4 L356.3,747.6 L360.5,747.8 L364.6,747.8 L368.7,748.4 L372.8,748.1 L376.8,748.1 L380.7,748.5 L384.6,749.1 L388.4,748.6 L392.1,749.3 L395.8,749.6 L399.3,749.7 L403.2,749.5 L407.4,749.7 L411.6,750.2 L415.9,750.3 L420.2,750.6 L424.5,750.2 L428.5,750.8 L432.4,751 L436,750.8 L439.9,750.9 L443.7,751.6 L447.3,751.6 L447.4,751.5 L447.4,763 L447.3,763.1 L443.7,763.1 L439.9,762.5 L436,762.4 L432.4,762.7 L428.5,762.5 L424.5,762 L420.2,762.4 L415.9,762.1 L411.6,762.1 L407.4,761.6 L403.2,761.5 L399.3,761.7 L395.8,761.7 L392.1,761.4 L388.4,760.8 L384.6,761.3 L380.7,760.7 L376.8,760.4 L372.8,760.4 L368.7,760.8 L364.6,760.2 L360.5,760.2 L356.3,760.1 L352.1,760 L347.9,759.4 L343.8,759.5 L339.6,759.1 L335.4,759.2 L331.2,759.1 L327.1,759 L323,758.5 L319,758.8 L315,758.7 L310.9,758.2 L306.7,758 L302.6,758.1 L298.4,757.7 L294.3,757.8 L290.1,758.1 L286,757.9 L281.8,757.3 L277.7,756.9 L273.6,757 L269.5,756.6 L265.5,756.6 L261.5,756.6 L257.5,756.4 L253.6,756.6 L249.7,756.1 L245.9,756.3 L242.2,756.3 L238.3,756.1 L233.9,756.3 L229.7,755.6 L225.5,756.1 L221.4,755.4 L217.3,755.4 L213.3,755.6 L209.4,755.1 L205.4,755.3 L201.6,755.1 L197.8,755.2 L194,755.2 L190.2,755.2 L186.3,754.9 L182.7,754.4 L179.2,754.4 L175.7,754.3 L171.3,754.1 L167.1,754.1 L162.9,754 L159,753.5 L155.2,753.3 L151,753.5 L147.2,753 L143.6,752.7 L139.5,752.3 L138.8,752.2 L138,752.2 L137.3,752.1 L136.6,752 L135.9,751.9 L135.2,751.9 L134.5,751.8 L133.8,751.7 L132.8,751.6 L131.9,751.5 L131,751.4 L130.1,751.3 L129.3,751.2 L128.5,751.1 L127.7,751 L126.8,750.9 L126,750.8 L125.2,750.7 L124.3,750.6 L123.5,750.5 L122.7,750.4 L121.8,750.3 L121,750.2 L120.2,750.1 L119.3,749.9 L118.5,749.8 L117.7,749.6 L116.9,749.4 L116.1,749.2 L115.3,749.1 L114.5,748.8 L113.7,748.6 L112.9,748.4 L112.2,748.1 L111.5,747.7 L110.9,747.4 L110.3,746.9 L109.7,746.3 L109.2,745.6 L108.7,744.9 L108.2,744.3 L107.8,743.6 L107.4,742.9 L106.9,742.3 L106.3,741.6 L105.7,741 L105.1,740.4 L104.5,739.7 L104,739 L103.7,738.3 L103.4,737.6 L103.1,736.9 L102.9,736.1 L102.6,735.3 L102.4,734.5 L102.2,733.7 L101.9,732.9 L101.7,732.2 L101.5,731.6 L101.3,731 L101,730.5 L100.8,729.9 L100.6,729.3 L100.4,728.7 L100.2,728.1 L100,727.4 L99.8,726.6 L99.7,725.7 L99.5,724.7 L99.4,724.2 L99.4,723.8 L99.3,723.3 L99.3,722.8 L99.2,722.3 L99.2,721.7 L99.1,721.2 L99.1,720.6 L99.1,720 L99,719.4 L99,718.8 L99,718.1 L98.9,717.5 L98.9,716.8 L98.9,716.1 L98.8,715.4 L98.8,714.7 L98.8,713.9 L98.8,713.2 L98.8,712.4 L98.8,711.7 L98.7,710.9 L98.7,710.1 L98.7,709.3 L98.7,708.5 L98.7,707.7 L98.7,706.9 L98.7,706.1 L98.7,705.2 L98.7,704.4 L98.7,703.5 L98.7,702.7 L98.7,701.8 L98.7,700.9 L98.7,700 L98.7,699.2 L98.7,698.3 L98.7,697.4 L98.7,696.5 L98.7,695.6 L98.7,694.6 L98.7,693.7 L98.7,692.8 L98.7,691.9 L98.7,691 L98.7,690 L98.6,689.1 L98.6,688.2 L98.6,687.2 L98.6,686.3 L98.6,685.3 L98.6,684.4 L98.6,683.5 L98.6,682.5 L98.6,681.6 L98.6,680.6 L98.6,679.7 L98.6,678.7 L98.6,677.8 L98.5,676.9 L98.5,675.9 L98.5,675 L98.5,674.3 L98.5,673.6 L98.5,672.9 L98.4,672.1 L98.4,671.4 L98.4,670.6 L98.4,669.8 L98.4,669 L98.4,668.2 L98.3,667.4 L98.3,666.5 L98.3,665.7 L98.3,664.8 L98.3,663.9 L98.2,663 L98.2,662.1 L98.2,661.2 L98.2,660.2 L98.1,659.3 L98.1,658.3 L98.1,657.4 L98.1,656.4 L98.1,655.4 L98,654.4 L98,653.4 L98,652.4 L98,651.4 L97.9,650.4 L97.9,649.3 L97.9,648.3 L97.9,647.3 L97.8,646.2 L97.8,645.2 L97.8,644.1 L97.8,643.1 L97.7,642 L97.7,640.9 L97.7,639.9 L97.7,638.8 L97.6,637.7 L97.6,636.6 L97.6,635.5 L97.6,634.5 L97.5,633.4 L97.5,632.3 L97.5,631.2 L97.5,630.1 L97.4,629.1 L97.4,628 L97.4,626.9 L97.4,625.8 L97.3,624.8 L97.3,623.7 L97.3,622.6 L97.3,621.6 L97.2,620.5 L97.2,619.5 L97.2,618.4 L97.2,617.4 L97.1,616.4 L97.1,615.3 L97.1,614.3 L97.1,613.3 L97.1,612.3 L97,611.3 L97,610.3 L97,609.3 L97,608.4 L96.9,607.4 L96.9,606.5 L96.9,605.5 L96.9,604.6 L96.8,603.7 L96.8,602.8 L96.8,601.9 L96.8,601 L96.8,600.1 L96.7,599.3 L96.7,598.4 L96.7,597.6 L96.7,596.8 L96.7,596 L96.6,595.2 L96.6,594.4 L96.6,593.7 L96.6,593 L96.6,592.2 L96.6,591.5 L96.5,590.9 L96.5,590.2 L96.5,589.5 L96.5,588.9 L96.5,588.3 L96.5,587.7 L96.5,587.2 L96.4,586.6 L96.4,586.1 L96.4,585.6 L96.4,585.1 L96.4,584.7 L96.4,584.2 L96.4,583.8 L96.4,583.4 L96.4,583.1 L96.3,582.7 L96.3,582.4 L96.3,582.1 L96.3,581.9 L96.3,581.6 L96.3,581.4 L96.3,581.2 L96.3,581.1 L96.3,580.9 L96.3,580.8 L96.3,580.8 L96.3,580.7 L96.3,580.7Z" fill="#e41a1c" fill-opacity="0.3" stroke="#e41a1c" stroke-opacity="0.3" stroke-width="1.4" stroke-linejoin="round"/>
<path d="M96.3,567.7 L96.3,567.7 L96.3,567.8 L96.3,567.8 L96.3,567.9 L96.3,568.1 L96.3,568.2 L96.3,568.4 L96.3,568.6 L96.3,568.8 L96.3,569.1 L96.3,569.4 L96.3,569.7 L96.4,570 L96.4,570.4 L96.4,570.8 L96.4,571.2 L96.4,571.6 L96.4,572.1 L96.4,572.6 L96.4,573 L96.4,573.6 L96.5,574.1 L96.5,574.7 L96.5,575.2 L96.5,575.8 L96.5,576.5 L96.5,577.1 L96.5,577.8 L96.6,578.4 L96.6,579.1 L96.6,579.8 L96.6,580.6 L96.6,581.3 L96.6,582.1 L96.7,582.8 L96.7,583.6 L96.7,584.4 L96.7,585.3 L96.7,586.1 L96.8,587 L96.8,587.8 L96.8,588.7 L96.8,589.6 L96.8,590.5 L96.9,591.4 L96.9,592.3 L96.9,593.2 L96.9,594.2 L97,595.1 L97,596.1 L97,597.1 L97,598.1 L97.1,599.1 L97.1,600.1 L97.1,601.1 L97.1,602.1 L97.2,603.1 L97.2,604.1 L97.2,605.2 L97.2,606.2 L97.2,607.3 L97.3,608.3 L97.3,609.4 L97.3,610.4 L97.4,611.5 L97.4,612.5 L97.4,613.6 L97.4,614.7 L97.5,615.8 L97.5,616.8 L97.5,617.9 L97.5,619 L97.6,620.1 L97.6,621.1 L97.6,622.2 L97.6,623.3 L97.7,624.4 L97.7,625.5 L97.7,626.5 L97.7,627.6 L97.8,628.7 L97.8,629.7 L97.8,630.8 L97.8,631.9 L97.9,632.9 L97.9,634 L97.9,635 L97.9,636 L97.9,637.1 L98,638.1 L98,639.1 L98,640.1 L98,641.1 L98.1,642.1 L98.1,643.1 L98.1,644.1 L98.1,645.1 L98.2,646 L98.2,647 L98.2,647.9 L98.2,648.9 L98.2,649.8 L98.3,650.7 L98.3,651.6 L98.3,652.5 L98.3,653.4 L98.3,654.2 L98.4,655.1 L98.4,655.9 L98.4,656.7 L98.4,657.5 L98.4,658.3 L98.4,659.1 L98.5,659.8 L98.5,660.6 L98.5,661.3 L98.5,662 L98.5,662.9 L98.5,663.8 L98.6,664.7 L98.6,665.6 L98.6,666.5 L98.6,667.4 L98.6,668.3 L98.6,669.2 L98.7,670.1 L98.7,671 L98.7,671.8 L98.7,672.7 L98.7,673.6 L98.7,674.4 L98.8,675.3 L98.8,676.1 L98.8,677 L98.8,677.8 L98.8,678.7 L98.8,679.5 L98.9,680.3 L98.9,681.2 L98.9,682 L98.9,682.8 L98.9,683.7 L98.9,684.5 L98.9,685.3 L99,686.1 L99,686.9 L99,687.7 L99,688.5 L99,689.3 L99,690.1 L99,690.9 L99.1,691.7 L99.1,692.5 L99.1,693.3 L99.1,694.1 L99.1,694.9 L99.1,695.7 L99.1,696.5 L99.2,697.2 L99.2,698 L99.2,698.8 L99.2,699.6 L99.2,700.3 L99.2,701.1 L99.2,701.9 L99.3,702.6 L99.3,703.4 L99.3,704.2 L99.3,704.9 L99.3,705.7 L99.3,706.5 L99.3,707.2 L99.3,708 L99.4,708.7 L99.4,709.5 L99.4,710.2 L99.4,711 L99.4,711.8 L99.4,712.5 L99.4,713.3 L99.4,714 L99.5,714.8 L99.5,715.5 L99.5,716.3 L99.5,717 L99.5,717.9 L99.5,718.7 L99.5,719.6 L99.5,720.5 L99.6,721.3 L99.6,722.2 L99.6,723.1 L99.6,724 L99.6,724.8 L99.6,725.7 L99.6,726.6 L99.6,727.4 L99.6,728.3 L99.6,729.2 L99.6,730 L99.6,730.9 L99.6,731.8 L99.6,732.6 L99.6,733.5 L99.6,734.3 L99.6,735.2 L99.6,736 L99.6,736.9 L99.6,737.7 L99.6,738.6 L99.6,739.4 L99.6,740.2 L99.6,741 L99.6,741.9 L99.6,742.7 L99.6,743.5 L99.6,744.3 L99.6,745.1 L99.6,745.9 L99.6,746.6 L99.6,747.4 L99.7,748.2 L99.7,748.9 L99.7,749.7 L99.7,750.4 L99.8,751.2 L99.8,751.9 L99.8,752.6 L99.9,753.3 L99.9,754 L99.9,754.7 L100,755.4 L100,756.1 L100.1,756.7 L100.1,757.4 L100.2,758 L100.3,759 L100.4,759.9 L100.5,760.8 L100.6,761.7 L100.7,762.5 L100.8,763.4 L100.9,764.2 L101,765 L101.1,765.8 L101.2,766.6 L101.3,767.4 L101.5,768.1 L101.6,768.9 L101.7,769.6 L101.9,770.4 L102.1,771.1 L102.2,771.8 L102.4,772.6 L102.6,773.3 L102.8,774 L103.1,774.8 L103.3,775.5 L103.6,776.3 L103.8,777.1 L104.1,777.9 L104.4,778.6 L104.8,779.4 L105.1,780.2 L105.4,781 L105.8,781.8 L106.1,782.5 L106.5,783.3 L106.9,784.1 L107.3,784.8 L107.6,785.5 L108,786.3 L108.4,787 L108.8,787.7 L109.3,788.3 L109.7,789 L110.1,789.6 L110.5,790.2 L110.9,790.8 L111.4,791.6 L112,792.3 L112.6,793 L113.1,793.6 L113.7,794.3 L114.3,794.9 L114.9,795.5 L115.5,796.1 L116.1,796.6 L116.7,797.1 L117.3,797.6 L117.9,798.1 L118.5,798.6 L119.2,799.1 L119.9,799.5 L120.6,800 L121.3,800.4 L122,800.7 L122.7,801.1 L123.5,801.4 L124.2,801.8 L125,802.1 L125.7,802.4 L126.5,802.6 L127.2,802.9 L128,803.1 L128.7,803.4 L129.5,803.6 L130.3,803.8 L131.2,804 L132,804.2 L132.9,804.5 L133.8,804.7 L134.5,804.9 L135.2,805.1 L136,805.3 L136.7,805.5 L137.5,805.7 L138.3,805.9 L139.1,806.1 L139.9,806.4 L144.1,807.4 L148.3,808.2 L152.2,809.5 L156.1,809.9 L160.1,810.3 L164.3,811.4 L168,811.3 L171.7,811.8 L175.6,812 L179.8,812.8 L183.3,813.2 L187,813.3 L190.6,813.2 L194.8,814 L198.4,814.2 L202.2,813.9 L206.1,814.1 L210.1,814.6 L214.2,815 L218.4,815.1 L222.6,815.3 L226.9,815.3 L231.3,815.1 L235.6,815.5 L239.1,815.5 L242.9,815.8 L246.7,815.8 L250.5,815.7 L254.4,816.4 L258.3,815.8 L262.3,816.2 L266.3,816.3 L270.3,816.9 L274.4,816.4 L278.5,816.8 L282.6,817.2 L286.8,817.1 L290.9,817.4 L295.1,817.1 L299.3,817.3 L303.4,817.3 L307.6,817.4 L311.7,817.5 L315.8,817.4 L319.8,818.2 L323.9,818.1 L327.9,818.2 L332.1,818.2 L336.2,818 L340.4,818.1 L344.6,818.8 L348.8,818.8 L353,818.7 L357.1,819 L361.3,819.3 L365.4,818.6 L369.5,819 L373.6,819.1 L377.6,819.1 L381.5,819.4 L385.4,819.3 L389.2,819.2 L392.9,819.9 L396.5,819.6 L400.2,820 L404.2,819.5 L408.4,819.7 L412.7,819.9 L417,819.6 L421.3,819.9 L425.5,819.8 L429.5,820 L433.3,819.9 L437.6,820.3 L441.3,820.2 L445.2,820 L447.4,820.2 L447.4,824.2 L445.2,824 L441.3,824.2 L437.6,824.4 L433.3,824 L429.5,824.1 L425.5,823.9 L421.3,824.1 L417,823.7 L412.7,824.1 L408.4,823.9 L404.2,823.7 L400.2,824.2 L396.5,823.9 L392.9,824.2 L389.2,823.5 L385.4,823.6 L381.5,823.8 L377.6,823.5 L373.6,823.5 L369.5,823.4 L365.4,823.1 L361.3,823.8 L357.1,823.5 L353,823.2 L348.8,823.4 L344.6,823.4 L340.4,822.8 L336.2,822.7 L332.1,822.8 L327.9,822.9 L323.9,822.8 L319.8,822.9 L315.8,822.1 L311.7,822.3 L307.6,822.2 L303.4,822.1 L299.3,822.1 L295.1,822 L290.9,822.3 L286.8,822 L282.6,822.2 L278.5,821.8 L274.4,821.3 L270.3,821.9 L266.3,821.3 L262.3,821.3 L258.3,820.9 L254.4,821.5 L250.5,820.9 L246.7,821 L242.9,821 L239.1,820.7 L235.6,820.7 L231.3,820.3 L226.9,820.5 L222.6,820.5 L218.4,820.4 L214.2,820.3 L210.1,819.9 L206.1,819.4 L202.2,819.3 L198.4,819.6 L194.8,819.4 L190.6,818.7 L187,818.8 L183.3,818.7 L179.8,818.3 L175.6,817.6 L171.7,817.4 L168,816.9 L164.3,817 L160.1,815.9 L156.1,815.6 L152.2,815.2 L148.3,813.9 L144.1,813.1 L139.9,812.1 L139.1,811.9 L138.3,811.7 L137.5,811.5 L136.7,811.3 L136,811.1 L135.2,810.9 L134.5,810.7 L133.8,810.5 L132.9,810.3 L132,810 L131.2,809.8 L130.3,809.6 L129.5,809.4 L128.7,809.2 L128,808.9 L127.2,808.7 L126.5,808.5 L125.7,808.2 L125,807.9 L124.2,807.6 L123.5,807.3 L122.7,806.9 L122,806.6 L121.3,806.2 L120.6,805.8 L119.9,805.4 L119.2,804.9 L118.5,804.4 L117.9,804 L117.3,803.5 L116.7,803 L116.1,802.5 L115.5,801.9 L114.9,801.4 L114.3,800.8 L113.7,800.2 L113.1,799.5 L112.6,798.9 L112,798.2 L111.4,797.5 L110.9,796.8 L110.5,796.2 L110.1,795.6 L109.7,794.9 L109.3,794.3 L108.8,793.6 L108.4,792.9 L108,792.2 L107.6,791.5 L107.3,790.7 L106.9,790 L106.5,789.2 L106.1,788.5 L105.8,787.7 L105.4,786.9 L105.1,786.2 L104.8,785.4 L104.4,784.6 L104.1,783.8 L103.8,783 L103.6,782.3 L103.3,781.5 L103.1,780.7 L102.8,780 L102.6,779.3 L102.4,778.5 L102.2,777.8 L102.1,777.1 L101.9,776.3 L101.7,775.6 L101.6,774.8 L101.5,774.1 L101.3,773.3 L101.2,772.6 L101.1,771.8 L101,771 L100.9,770.2 L100.8,769.4 L100.7,768.5 L100.6,767.7 L100.5,766.8 L100.4,765.9 L100.3,764.9 L100.2,764 L100.1,763.3 L100.1,762.7 L100,762 L100,761.4 L99.9,760.7 L99.9,760 L99.9,759.3 L99.8,758.6 L99.8,757.9 L99.8,757.1 L99.7,756.4 L99.7,755.7 L99.7,754.9 L99.7,754.2 L99.6,753.4 L99.6,752.6 L99.6,751.8 L99.6,751 L99.6,750.3 L99.6,749.5 L99.6,748.6 L99.6,747.8 L99.6,747 L99.6,746.2 L99.6,745.4 L99.6,744.5 L99.6,743.7 L99.6,742.9 L99.6,742 L99.6,741.2 L99.6,740.3 L99.6,739.5 L99.6,738.6 L99.6,737.7 L99.6,736.9 L99.6,736 L99.6,735.2 L99.6,734.3 L99.6,733.4 L99.6,732.5 L99.6,731.7 L99.6,730.8 L99.6,729.9 L99.6,729.1 L99.6,728.2 L99.6,727.3 L99.5,726.5 L99.5,725.6 L99.5,724.7 L99.5,723.9 L99.5,723 L99.5,722.2 L99.5,721.5 L99.5,720.7 L99.4,720 L99.4,719.2 L99.4,718.5 L99.4,717.7 L99.4,717 L99.4,716.2 L99.4,715.5 L99.4,714.7 L99.3,714 L99.3,713.2 L99.3,712.4 L99.3,711.7 L99.3,710.9 L99.3,710.2 L99.3,709.4 L99.3,708.6 L99.2,707.9 L99.2,707.1 L99.2,706.3 L99.2,705.5 L99.2,704.8 L99.2,704 L99.2,703.2 L99.1,702.4 L99.1,701.7 L99.1,700.9 L99.1,700.1 L99.1,699.3 L99.1,698.5 L99.1,697.7 L99,696.9 L99,696.1 L99,695.3 L99,694.5 L99,693.7 L99,692.9 L99,692.1 L98.9,691.3 L98.9,690.5 L98.9,689.6 L98.9,688.8 L98.9,688 L98.9,687.2 L98.9,686.3 L98.8,685.5 L98.8,684.7 L98.8,683.8 L98.8,683 L98.8,682.1 L98.8,681.3 L98.7,680.4 L98.7,679.5 L98.7,678.7 L98.7,677.8 L98.7,676.9 L98.7,676.1 L98.6,675.2 L98.6,674.3 L98.6,673.4 L98.6,672.5 L98.6,671.6 L98.6,670.7 L98.5,669.8 L98.5,668.9 L98.5,668 L98.5,667.3 L98.5,666.6 L98.5,665.8 L98.4,665.1 L98.4,664.3 L98.4,663.5 L98.4,662.7 L98.4,661.9 L98.4,661.1 L98.3,660.2 L98.3,659.3 L98.3,658.5 L98.3,657.6 L98.3,656.7 L98.2,655.8 L98.2,654.9 L98.2,653.9 L98.2,653 L98.2,652 L98.1,651.1 L98.1,650.1 L98.1,649.1 L98.1,648.1 L98,647.1 L98,646.1 L98,645.1 L98,644.1 L97.9,643.1 L97.9,642 L97.9,641 L97.9,640 L97.9,638.9 L97.8,637.8 L97.8,636.8 L97.8,635.7 L97.8,634.7 L97.7,633.6 L97.7,632.5 L97.7,631.4 L97.7,630.4 L97.6,629.3 L97.6,628.2 L97.6,627.1 L97.6,626.1 L97.5,625 L97.5,623.9 L97.5,622.8 L97.5,621.8 L97.4,620.7 L97.4,619.6 L97.4,618.5 L97.4,617.5 L97.3,616.4 L97.3,615.3 L97.3,614.3 L97.2,613.2 L97.2,612.2 L97.2,611.2 L97.2,610.1 L97.2,609.1 L97.1,608.1 L97.1,607.1 L97.1,606.1 L97.1,605.1 L97,604.1 L97,603.1 L97,602.1 L97,601.1 L96.9,600.2 L96.9,599.2 L96.9,598.3 L96.9,597.4 L96.8,596.5 L96.8,595.6 L96.8,594.7 L96.8,593.8 L96.8,592.9 L96.7,592.1 L96.7,591.3 L96.7,590.4 L96.7,589.6 L96.7,588.8 L96.6,588.1 L96.6,587.3 L96.6,586.6 L96.6,585.8 L96.6,585.1 L96.6,584.4 L96.5,583.8 L96.5,583.1 L96.5,582.5 L96.5,581.8 L96.5,581.2 L96.5,580.7 L96.5,580.1 L96.4,579.6 L96.4,579 L96.4,578.5 L96.4,578.1 L96.4,577.6 L96.4,577.2 L96.4,576.8 L96.4,576.4 L96.4,576 L96.3,575.7 L96.3,575.4 L96.3,575.1 L96.3,574.8 L96.3,574.6 L96.3,574.4 L96.3,574.2 L96.3,574.1 L96.3,573.9 L96.3,573.8 L96.3,573.8 L96.3,573.7 L96.3,573.7Z" fill="#984ea3" fill-opacity="0.3" stroke="#984ea3" stroke-opacity="0.3" stroke-width="1.4" stroke-linejoin="round"/>
<path d="M96.3,528.7 L96.3,528.7 L96.3,528.8 L96.3,528.9 L96.3,529.1 L96.3,529.3 L96.3,529.6 L96.3,529.9 L96.3,530.3 L96.3,530.7 L96.3,531.1 L96.3,531.6 L96.3,532.2 L96.4,532.7 L96.4,533.4 L96.4,534 L96.4,534.7 L96.4,535.5 L96.4,536.3 L96.4,537.1 L96.4,537.9 L96.4,538.8 L96.5,539.8 L96.5,540.7 L96.5,541.7 L96.5,542.8 L96.5,543.8 L96.5,544.9 L96.5,546.1 L96.6,547.2 L96.6,548.4 L96.6,549.7 L96.6,550.9 L96.6,552.2 L96.6,553.5 L96.7,554.8 L96.7,556.2 L96.7,557.6 L96.7,559 L96.7,560.4 L96.8,561.9 L96.8,563.4 L96.8,564.9 L96.8,566.4 L96.8,568 L96.9,569.5 L96.9,571.1 L96.9,572.7 L96.9,574.4 L97,576 L97,577.6 L97,579.3 L97,581 L97.1,582.7 L97.1,584.4 L97.1,586.1 L97.1,587.9 L97.2,589.6 L97.2,591.4 L97.2,593.2 L97.2,595 L97.2,596.7 L97.3,598.5 L97.3,600.3 L97.3,602.2 L97.4,604 L97.4,605.8 L97.4,607.6 L97.4,609.5 L97.5,611.3 L97.5,613.1 L97.5,614.9 L97.5,616 L97.6,617.1 L97.6,618.2 L97.6,619.3 L97.6,620.5 L97.7,621.6 L97.7,622.7 L97.7,623.8 L97.7,624.9 L97.8,626 L97.8,627.1 L97.8,628.2 L97.8,629.2 L97.9,630.3 L97.9,631.4 L97.9,632.5 L97.9,633.5 L97.9,634.6 L98,635.7 L98,636.7 L98,637.8 L98,638.8 L98.1,639.8 L98.1,640.8 L98.1,641.8 L98.1,642.8 L98.2,643.8 L98.2,644.8 L98.2,645.8 L98.2,646.7 L98.2,647.7 L98.3,648.6 L98.3,649.5 L98.3,650.4 L98.3,651.3 L98.3,652.2 L98.4,653.1 L98.4,653.9 L98.4,654.8 L98.4,655.6 L98.4,656.4 L98.4,657.2 L98.5,658 L98.5,658.7 L98.5,659.5 L98.5,660.2 L98.5,661.1 L98.5,662.1 L98.6,663 L98.6,663.9 L98.6,664.8 L98.6,665.8 L98.6,666.7 L98.6,667.6 L98.7,668.5 L98.7,669.4 L98.7,670.3 L98.7,671.1 L98.7,672 L98.7,672.9 L98.8,673.8 L98.8,674.7 L98.8,675.5 L98.8,676.4 L98.8,677.3 L98.8,678.1 L98.9,679 L98.9,679.8 L98.9,680.7 L98.9,681.5 L98.9,682.4 L98.9,683.2 L98.9,684 L99,684.9 L99,685.7 L99,686.5 L99,687.3 L99,688.2 L99,689 L99,689.8 L99.1,690.6 L99.1,691.4 L99.1,692.2 L99.1,693 L99.1,693.8 L99.1,694.6 L99.1,695.4 L99.2,696.2 L99.2,697 L99.2,697.8 L99.2,698.6 L99.2,699.4 L99.2,700.2 L99.2,701 L99.3,701.7 L99.3,702.5 L99.3,703.3 L99.3,704.1 L99.3,704.9 L99.3,705.6 L99.3,706.4 L99.3,707.2 L99.4,708 L99.4,708.7 L99.4,709.5 L99.4,710.3 L99.4,711 L99.4,711.8 L99.4,712.6 L99.4,713.3 L99.5,714.1 L99.5,714.9 L99.5,715.6 L99.5,716.4 L99.5,717.3 L99.5,718.2 L99.5,719 L99.5,719.9 L99.6,720.8 L99.6,721.7 L99.6,722.6 L99.6,723.4 L99.6,724.3 L99.6,725.2 L99.6,726 L99.6,726.9 L99.6,727.8 L99.6,728.6 L99.6,729.5 L99.6,730.4 L99.6,731.2 L99.6,732.1 L99.6,732.9 L99.6,733.8 L99.6,734.6 L99.6,735.5 L99.6,736.3 L99.6,737.2 L99.6,738 L99.6,738.8 L99.6,739.7 L99.6,740.5 L99.6,741.3 L99.6,742.1 L99.6,743 L99.6,743.8 L99.6,744.6 L99.6,745.4 L99.6,746.2 L99.6,747 L99.7,747.8 L99.7,748.5 L99.7,749.3 L99.7,750.1 L99.8,750.9 L99.8,751.6 L99.8,752.4 L99.9,753.1 L99.9,753.9 L99.9,754.6 L100,755.4 L100,756.1 L100.1,756.7 L100.1,757.4 L100.2,758 L100.3,759 L100.4,759.9 L100.5,760.8 L100.6,761.7 L100.7,762.5 L100.8,763.4 L100.9,764.2 L101,765 L101.1,765.8 L101.2,766.6 L101.3,767.3 L101.5,768.1 L101.6,768.9 L101.7,769.6 L101.9,770.3 L102.1,771.1 L102.2,771.8 L102.4,772.5 L102.6,773.3 L102.8,774 L103.1,774.8 L103.3,775.5 L103.6,776.3 L103.8,777.1 L104.1,777.8 L104.4,778.6 L104.8,779.4 L105.1,780.2 L105.4,781 L105.8,781.7 L106.1,782.5 L106.5,783.3 L106.9,784 L107.3,784.8 L107.6,785.5 L108,786.2 L108.4,786.9 L108.8,787.6 L109.3,788.3 L109.7,789 L110.1,789.6 L110.5,790.2 L110.9,790.8 L111.4,791.5 L112,792.2 L112.5,792.9 L113,793.5 L113.6,794.1 L114.1,794.6 L114.7,795.2 L115.2,795.8 L115.8,796.3 L116.5,796.8 L117.1,797.4 L117.8,797.9 L118.5,798.5 L119.1,798.9 L119.7,799.4 L120.3,799.8 L120.9,800.3 L121.5,800.7 L122.2,801.2 L122.9,801.6 L123.6,802.1 L124.3,802.5 L125,802.9 L125.7,803.4 L126.4,803.8 L127.2,804.2 L127.9,804.6 L128.7,805.1 L129.4,805.5 L130.1,805.8 L130.9,806.2 L131.6,806.6 L132.4,806.9 L133.1,807.3 L133.8,807.6 L134.6,807.9 L135.4,808.3 L136.2,808.6 L137,808.9 L137.8,809.1 L138.6,809.4 L139.4,809.6 L143.4,810.7 L147.5,811.7 L151.5,813 L155.3,813.6 L159.2,814.4 L163.4,815.1 L167.2,815.6 L171,816.3 L174.8,817 L178.9,817 L183.3,817.8 L187,818 L190.6,818.7 L194.8,819.1 L198.4,819.1 L202.2,819.6 L206.1,820.2 L210.1,820.8 L214.2,821.1 L218.4,821.6 L222.6,821.5 L226.9,822 L231.3,822.6 L235.6,822.8 L239.1,823.1 L242.9,823.8 L246.6,824 L250.4,824.1 L254.2,824.5 L258.1,825 L262,825.3 L266,825.7 L270,825.7 L274,826.4 L278.1,826.6 L282.2,826.7 L286.3,826.9 L290.4,827.4 L294.5,827.6 L298.6,828.3 L302.7,828.1 L306.8,828.9 L310.9,828.8 L315,829.4 L319,829.5 L323,829.6 L327,830.3 L331.1,830.3 L335.2,830.8 L339.3,830.7 L343.5,830.9 L347.6,831.3 L351.8,831.4 L355.9,831.8 L360,832.1 L364.1,832.3 L368.2,832.2 L372.2,832.8 L376.2,832.8 L380.1,833.1 L384,833.6 L387.8,833.8 L391.5,833.6 L395.1,833.8 L399.3,834.4 L403.2,834.5 L407.4,834.9 L411.6,835.1 L415.9,835.6 L420.2,835.8 L424.5,836.1 L428.5,836.3 L432.4,836.4 L436,836.5 L439.9,836.6 L443.7,837.3 L447.3,837.3 L447.4,837.3 L447.4,843.3 L447.3,843.3 L443.7,843.3 L439.9,842.6 L436,842.5 L432.4,842.4 L428.5,842.3 L424.5,842.1 L420.2,841.8 L415.9,841.6 L411.6,841.1 L407.4,840.9 L403.2,840.5 L399.3,840.4 L395.1,839.8 L391.5,839.6 L387.8,839.8 L384,839.6 L380.1,839.1 L376.2,838.8 L372.2,838.8 L368.2,838.2 L364.1,838.3 L360,838.1 L355.9,837.8 L351.8,837.4 L347.6,837.3 L343.5,836.9 L339.3,836.7 L335.2,836.8 L331.1,836.3 L327,836.3 L323,835.6 L319,835.5 L315,835.4 L310.9,834.8 L306.8,834.9 L302.7,834.1 L298.6,834.3 L294.5,833.6 L290.4,833.4 L286.3,832.9 L282.2,832.7 L278.1,832.6 L274,832.4 L270,831.7 L266,831.7 L262,831.3 L258.1,831 L254.2,830.5 L250.4,830.1 L246.6,830 L242.9,829.8 L239.1,829.1 L235.6,828.8 L231.3,828.6 L226.9,828 L222.6,827.5 L218.4,827.6 L214.2,827.1 L210.1,826.8 L206.1,826.2 L202.2,825.6 L198.4,825.1 L194.8,825.1 L190.6,824.7 L187,824 L183.3,823.8 L178.9,823 L174.8,823 L171,822.3 L167.2,821.6 L163.4,821.1 L159.2,820.4 L155.3,819.6 L151.5,819 L147.5,817.7 L143.4,816.7 L139.4,815.6 L138.6,815.4 L137.8,815.1 L137,814.9 L136.2,814.6 L135.4,814.3 L134.6,813.9 L133.8,813.6 L133.1,813.3 L132.4,812.9 L131.6,812.6 L130.9,812.2 L130.1,811.8 L129.4,811.5 L128.7,811.1 L127.9,810.6 L127.2,810.2 L126.4,809.8 L125.7,809.4 L125,808.9 L124.3,808.5 L123.6,808.1 L122.9,807.6 L122.2,807.2 L121.5,806.7 L120.9,806.3 L120.3,805.8 L119.7,805.4 L119.1,804.9 L118.5,804.5 L117.8,803.9 L117.1,803.4 L116.5,802.8 L115.8,802.3 L115.2,801.8 L114.7,801.2 L114.1,800.6 L113.6,800.1 L113,799.5 L112.5,798.9 L112,798.2 L111.4,797.5 L110.9,796.8 L110.5,796.2 L110.1,795.6 L109.7,795 L109.3,794.3 L108.8,793.6 L108.4,792.9 L108,792.2 L107.6,791.5 L107.3,790.8 L106.9,790 L106.5,789.3 L106.1,788.5 L105.8,787.7 L105.4,787 L105.1,786.2 L104.8,785.4 L104.4,784.6 L104.1,783.8 L103.8,783.1 L103.6,782.3 L103.3,781.5 L103.1,780.8 L102.8,780 L102.6,779.3 L102.4,778.5 L102.2,777.8 L102.1,777.1 L101.9,776.3 L101.7,775.6 L101.6,774.9 L101.5,774.1 L101.3,773.3 L101.2,772.6 L101.1,771.8 L101,771 L100.9,770.2 L100.8,769.4 L100.7,768.5 L100.6,767.7 L100.5,766.8 L100.4,765.9 L100.3,765 L100.2,764 L100.1,763.4 L100.1,762.7 L100,762.1 L100,761.4 L99.9,760.7 L99.9,760 L99.9,759.3 L99.8,758.6 L99.8,757.9 L99.8,757.2 L99.7,756.4 L99.7,755.7 L99.7,754.9 L99.7,754.2 L99.6,753.4 L99.6,752.6 L99.6,751.8 L99.6,751.1 L99.6,750.3 L99.6,749.5 L99.6,748.7 L99.6,747.8 L99.6,747 L99.6,746.2 L99.6,745.4 L99.6,744.5 L99.6,743.7 L99.6,742.9 L99.6,742 L99.6,741.2 L99.6,740.3 L99.6,739.5 L99.6,738.6 L99.6,737.8 L99.6,736.9 L99.6,736 L99.6,735.2 L99.6,734.3 L99.6,733.4 L99.6,732.6 L99.6,731.7 L99.6,730.8 L99.6,729.9 L99.6,729.1 L99.6,728.2 L99.6,727.3 L99.5,726.5 L99.5,725.6 L99.5,724.7 L99.5,723.9 L99.5,723 L99.5,722.3 L99.5,721.5 L99.5,720.7 L99.4,720 L99.4,719.2 L99.4,718.5 L99.4,717.7 L99.4,717 L99.4,716.2 L99.4,715.5 L99.4,714.7 L99.3,714 L99.3,713.2 L99.3,712.4 L99.3,711.7 L99.3,710.9 L99.3,710.2 L99.3,709.4 L99.3,708.6 L99.2,707.9 L99.2,707.1 L99.2,706.3 L99.2,705.6 L99.2,704.8 L99.2,704 L99.2,703.2 L99.1,702.4 L99.1,701.7 L99.1,700.9 L99.1,700.1 L99.1,699.3 L99.1,698.5 L99.1,697.7 L99,696.9 L99,696.1 L99,695.3 L99,694.5 L99,693.7 L99,692.9 L99,692.1 L98.9,691.3 L98.9,690.5 L98.9,689.6 L98.9,688.8 L98.9,688 L98.9,687.2 L98.9,686.3 L98.8,685.5 L98.8,684.7 L98.8,683.8 L98.8,683 L98.8,682.1 L98.8,681.3 L98.7,680.4 L98.7,679.6 L98.7,678.7 L98.7,677.8 L98.7,677 L98.7,676.1 L98.6,675.2 L98.6,674.3 L98.6,673.4 L98.6,672.5 L98.6,671.6 L98.6,670.7 L98.5,669.8 L98.5,668.9 L98.5,668 L98.5,667.3 L98.5,666.6 L98.5,665.8 L98.4,665.1 L98.4,664.3 L98.4,663.5 L98.4,662.7 L98.4,661.9 L98.4,661.1 L98.3,660.2 L98.3,659.4 L98.3,658.5 L98.3,657.6 L98.3,656.7 L98.2,655.8 L98.2,654.9 L98.2,653.9 L98.2,653 L98.2,652 L98.1,651.1 L98.1,650.1 L98.1,649.1 L98.1,648.1 L98,647.1 L98,646.1 L98,645.1 L98,644.1 L97.9,643.1 L97.9,642 L97.9,641 L97.9,640 L97.9,638.9 L97.8,637.9 L97.8,636.8 L97.8,635.7 L97.8,634.7 L97.7,633.6 L97.7,632.5 L97.7,631.5 L97.7,630.4 L97.6,629.3 L97.6,628.2 L97.6,627.1 L97.6,626.1 L97.5,625 L97.5,623.9 L97.5,622.8 L97.5,621.8 L97.4,620.7 L97.4,619.6 L97.4,618.5 L97.4,617.5 L97.3,616.4 L97.3,615.4 L97.3,614.3 L97.2,613.2 L97.2,612.2 L97.2,611.2 L97.2,610.1 L97.2,609.1 L97.1,608.1 L97.1,607.1 L97.1,606.1 L97.1,605.1 L97,604.1 L97,603.1 L97,602.1 L97,601.1 L96.9,600.2 L96.9,599.2 L96.9,598.3 L96.9,597.4 L96.8,596.5 L96.8,595.6 L96.8,594.7 L96.8,593.8 L96.8,592.9 L96.7,592.1 L96.7,591.3 L96.7,590.4 L96.7,589.6 L96.7,588.8 L96.6,588.1 L96.6,587.3 L96.6,586.6 L96.6,585.8 L96.6,585.1 L96.6,584.4 L96.5,583.8 L96.5,583.1 L96.5,582.5 L96.5,581.8 L96.5,581.2 L96.5,580.7 L96.5,580.1 L96.4,579.6 L96.4,579 L96.4,578.5 L96.4,578.1 L96.4,577.6 L96.4,577.2 L96.4,576.8 L96.4,576.4 L96.4,576 L96.3,575.7 L96.3,575.4 L96.3,575.1 L96.3,574.8 L96.3,574.6 L96.3,574.4 L96.3,574.2 L96.3,574.1 L96.3,573.9 L96.3,573.8 L96.3,573.8 L96.3,573.7 L96.3,573.7Z" fill="#ff7f00" fill-opacity="0.3" stroke="#ff7f00" stroke-opacity="0.3" stroke-width="1.4" stroke-linejoin="round"/>
<path d="M96.3,570.7 L96.3,570.7 L96.3,570.8 L96.3,570.8 L96.3,570.9 L96.3,571.1 L96.3,571.2 L96.3,571.4 L96.3,571.6 L96.3,571.9 L96.3,572.1 L96.3,572.4 L96.3,572.7 L96.4,573.1 L96.4,573.4 L96.4,573.8 L96.4,574.2 L96.4,574.7 L96.4,575.1 L96.4,575.6 L96.4,576.1 L96.4,576.6 L96.5,577.2 L96.5,577.7 L96.5,578.3 L96.5,578.9 L96.5,579.5 L96.5,580.2 L96.5,580.9 L96.6,581.5 L96.6,582.2 L96.6,583 L96.6,583.7 L96.6,584.4 L96.6,585.2 L96.7,586 L96.7,586.8 L96.7,587.6 L96.7,588.4 L96.7,589.3 L96.8,590.1 L96.8,591 L96.8,591.9 L96.8,592.8 L96.8,593.7 L96.9,594.6 L96.9,595.5 L96.9,596.5 L96.9,597.4 L97,598.4 L97,599.3 L97,600.3 L97,601.3 L97.1,602.3 L97.1,603.3 L97.1,604.3 L97.1,605.3 L97.1,606.4 L97.2,607.4 L97.2,608.4 L97.2,609.5 L97.2,610.5 L97.3,611.6 L97.3,612.6 L97.3,613.7 L97.3,614.8 L97.4,615.8 L97.4,616.9 L97.4,618 L97.4,619.1 L97.5,620.1 L97.5,621.2 L97.5,622.3 L97.5,623.4 L97.6,624.5 L97.6,625.5 L97.6,626.6 L97.6,627.7 L97.7,628.8 L97.7,629.9 L97.7,630.9 L97.7,632 L97.8,633.1 L97.8,634.1 L97.8,635.2 L97.8,636.2 L97.9,637.3 L97.9,638.3 L97.9,639.3 L97.9,640.4 L98,641.4 L98,642.4 L98,643.4 L98,644.4 L98.1,645.4 L98.1,646.4 L98.1,647.4 L98.1,648.3 L98.1,649.3 L98.2,650.2 L98.2,651.2 L98.2,652.1 L98.2,653 L98.3,653.9 L98.3,654.8 L98.3,655.7 L98.3,656.5 L98.3,657.4 L98.4,658.2 L98.4,659 L98.4,659.8 L98.4,660.6 L98.4,661.4 L98.4,662.1 L98.5,662.9 L98.5,663.6 L98.5,664.3 L98.5,665 L98.5,665.9 L98.5,666.9 L98.6,667.8 L98.6,668.7 L98.6,669.7 L98.6,670.6 L98.6,671.6 L98.6,672.5 L98.6,673.5 L98.6,674.4 L98.6,675.3 L98.6,676.3 L98.6,677.2 L98.6,678.2 L98.6,679.1 L98.7,680 L98.7,681 L98.7,681.9 L98.7,682.8 L98.7,683.7 L98.7,684.6 L98.7,685.6 L98.7,686.5 L98.7,687.4 L98.7,688.3 L98.7,689.2 L98.7,690 L98.7,690.9 L98.7,691.8 L98.7,692.7 L98.7,693.5 L98.7,694.4 L98.7,695.2 L98.7,696.1 L98.7,696.9 L98.7,697.7 L98.7,698.5 L98.7,699.3 L98.7,700.1 L98.7,700.9 L98.8,701.7 L98.8,702.4 L98.8,703.2 L98.8,703.9 L98.8,704.7 L98.8,705.4 L98.9,706.1 L98.9,706.8 L98.9,707.5 L99,708.1 L99,708.8 L99,709.4 L99.1,710 L99.1,710.7 L99.1,711.3 L99.2,711.8 L99.2,712.4 L99.3,713 L99.3,713.5 L99.4,714 L99.4,714.5 L99.5,715 L99.7,716.1 L99.8,717.1 L100,718 L100.2,718.9 L100.4,719.7 L100.6,720.4 L100.8,721.1 L101,721.8 L101.3,722.5 L101.5,723.3 L101.7,724 L101.9,724.8 L102.2,725.7 L102.4,726.5 L102.6,727.3 L102.9,728.1 L103.1,728.9 L103.4,729.7 L103.7,730.4 L104,731 L104.5,731.8 L105.1,732.5 L105.7,733.1 L106.3,733.7 L106.9,734.4 L107.4,735 L107.8,735.7 L108.2,736.4 L108.7,737.1 L109.2,737.7 L109.7,738.4 L110.3,739 L110.9,739.5 L111.5,739.9 L112.2,740.2 L112.9,740.5 L113.7,740.8 L114.5,741 L115.3,741.3 L116.1,741.4 L116.9,741.6 L117.7,741.8 L118.5,742 L119.3,742.2 L120.2,742.4 L121,742.5 L121.8,742.6 L122.7,742.7 L123.5,742.9 L124.3,743 L125.2,743.1 L126,743.2 L126.8,743.3 L127.7,743.4 L128.5,743.5 L129.3,743.7 L130.1,743.8 L131,743.9 L131.9,744 L132.8,744.1 L133.8,744.2 L134.5,744.3 L135.2,744.4 L135.9,744.4 L136.6,744.5 L137.3,744.6 L138,744.7 L138.8,744.8 L139.5,744.8 L143.6,745.2 L147.2,745.6 L151,746.1 L155.2,746 L159,746.2 L162.9,746.7 L167.1,746.8 L171.3,746.9 L175.7,747.1 L179.2,747.2 L182.7,747.2 L186.3,747.7 L190.2,748.1 L194,748.1 L197.8,748.1 L201.6,748 L205.4,748.2 L209.4,748.1 L213.3,748.6 L217.3,748.4 L221.4,748.5 L225.5,749.1 L229.7,748.7 L233.9,749.4 L238.3,749.2 L242.2,749.5 L245.9,749.5 L249.7,749.3 L253.6,749.9 L257.5,749.7 L261.5,749.9 L265.5,749.9 L269.5,750 L273.6,750.4 L277.7,750.3 L281.8,750.8 L286,751.3 L290.1,751.6 L294.3,751.3 L298.4,751.3 L302.6,751.6 L306.7,751.6 L310.9,751.9 L315,752.4 L319,752.5 L323,752.2 L327.1,752.7 L331.2,752.9 L335.4,753 L339.6,753 L343.8,753.3 L347.9,753.3 L352.1,753.9 L356.3,754 L360.5,754.2 L364.6,754.2 L368.7,754.8 L372.8,754.5 L376.8,754.5 L380.7,754.8 L384.6,755.4 L388.4,754.9 L392.1,755.5 L395.8,755.8 L399.3,755.9 L403.2,755.7 L407.4,755.9 L411.6,756.4 L415.9,756.4 L420.2,756.7 L424.5,756.3 L428.5,756.8 L432.4,757.1 L436,756.8 L439.9,757 L443.7,757.6 L447.3,757.6 L447.4,757.5" fill="none" stroke="#e41a1c" stroke-width="4.2" stroke-linejoin="round" stroke-linecap="butt"/>
<path d="M96.3,570.7 L96.3,570.7 L96.3,570.8 L96.3,570.8 L96.3,570.9 L96.3,571.1 L96.3,571.2 L96.3,571.4 L96.3,571.6 L96.3,571.8 L96.3,572.1 L96.3,572.4 L96.3,572.7 L96.4,573 L96.4,573.4 L96.4,573.8 L96.4,574.2 L96.4,574.6 L96.4,575.1 L96.4,575.5 L96.4,576 L96.4,576.6 L96.5,577.1 L96.5,577.7 L96.5,578.2 L96.5,578.8 L96.5,579.5 L96.5,580.1 L96.5,580.8 L96.6,581.4 L96.6,582.1 L96.6,582.8 L96.6,583.6 L96.6,584.3 L96.6,585.1 L96.7,585.8 L96.7,586.6 L96.7,587.4 L96.7,588.3 L96.7,589.1 L96.8,589.9 L96.8,590.8 L96.8,591.7 L96.8,592.6 L96.8,593.5 L96.9,594.4 L96.9,595.3 L96.9,596.2 L96.9,597.2 L97,598.1 L97,599.1 L97,600.1 L97,601.1 L97.1,602.1 L97.1,603.1 L97.1,604.1 L97.1,605.1 L97.2,606.1 L97.2,607.1 L97.2,608.2 L97.2,609.2 L97.2,610.2 L97.3,611.3 L97.3,612.4 L97.3,613.4 L97.4,614.5 L97.4,615.5 L97.4,616.6 L97.4,617.7 L97.5,618.8 L97.5,619.8 L97.5,620.9 L97.5,622 L97.6,623.1 L97.6,624.1 L97.6,625.2 L97.6,626.3 L97.7,627.4 L97.7,628.5 L97.7,629.5 L97.7,630.6 L97.8,631.7 L97.8,632.7 L97.8,633.8 L97.8,634.9 L97.9,635.9 L97.9,637 L97.9,638 L97.9,639 L97.9,640.1 L98,641.1 L98,642.1 L98,643.1 L98,644.1 L98.1,645.1 L98.1,646.1 L98.1,647.1 L98.1,648.1 L98.2,649 L98.2,650 L98.2,650.9 L98.2,651.9 L98.2,652.8 L98.3,653.7 L98.3,654.6 L98.3,655.5 L98.3,656.4 L98.3,657.2 L98.4,658.1 L98.4,658.9 L98.4,659.7 L98.4,660.5 L98.4,661.3 L98.4,662.1 L98.5,662.8 L98.5,663.6 L98.5,664.3 L98.5,665 L98.5,665.9 L98.5,666.8 L98.6,667.7 L98.6,668.6 L98.6,669.5 L98.6,670.4 L98.6,671.3 L98.6,672.2 L98.7,673.1 L98.7,674 L98.7,674.8 L98.7,675.7 L98.7,676.6 L98.7,677.4 L98.8,678.3 L98.8,679.1 L98.8,680 L98.8,680.8 L98.8,681.7 L98.8,682.5 L98.9,683.3 L98.9,684.2 L98.9,685 L98.9,685.8 L98.9,686.6 L98.9,687.5 L98.9,688.3 L99,689.1 L99,689.9 L99,690.7 L99,691.5 L99,692.3 L99,693.1 L99,693.9 L99.1,694.7 L99.1,695.5 L99.1,696.3 L99.1,697.1 L99.1,697.9 L99.1,698.7 L99.1,699.4 L99.2,700.2 L99.2,701 L99.2,701.8 L99.2,702.6 L99.2,703.3 L99.2,704.1 L99.2,704.9 L99.3,705.6 L99.3,706.4 L99.3,707.2 L99.3,707.9 L99.3,708.7 L99.3,709.4 L99.3,710.2 L99.3,711 L99.4,711.7 L99.4,712.5 L99.4,713.2 L99.4,714 L99.4,714.7 L99.4,715.5 L99.4,716.2 L99.4,717 L99.5,717.7 L99.5,718.5 L99.5,719.3 L99.5,720 L99.5,720.9 L99.5,721.7 L99.5,722.6 L99.5,723.5 L99.6,724.3 L99.6,725.2 L99.6,726.1 L99.6,726.9 L99.6,727.8 L99.6,728.7 L99.6,729.6 L99.6,730.4 L99.6,731.3 L99.6,732.2 L99.6,733 L99.6,733.9 L99.6,734.8 L99.6,735.6 L99.6,736.5 L99.6,737.3 L99.6,738.2 L99.6,739 L99.6,739.9 L99.6,740.7 L99.6,741.5 L99.6,742.4 L99.6,743.2 L99.6,744 L99.6,744.8 L99.6,745.7 L99.6,746.5 L99.6,747.3 L99.6,748.1 L99.6,748.8 L99.6,749.6 L99.6,750.4 L99.7,751.2 L99.7,751.9 L99.7,752.7 L99.7,753.4 L99.8,754.2 L99.8,754.9 L99.8,755.6 L99.9,756.3 L99.9,757 L99.9,757.7 L100,758.4 L100,759.1 L100.1,759.7 L100.1,760.4 L100.2,761 L100.3,762 L100.4,762.9 L100.5,763.8 L100.6,764.7 L100.7,765.5 L100.8,766.4 L100.9,767.2 L101,768 L101.1,768.8 L101.2,769.6 L101.3,770.3 L101.5,771.1 L101.6,771.9 L101.7,772.6 L101.9,773.3 L102.1,774.1 L102.2,774.8 L102.4,775.5 L102.6,776.3 L102.8,777 L103.1,777.8 L103.3,778.5 L103.6,779.3 L103.8,780.1 L104.1,780.8 L104.4,781.6 L104.8,782.4 L105.1,783.2 L105.4,784 L105.8,784.7 L106.1,785.5 L106.5,786.3 L106.9,787 L107.3,787.8 L107.6,788.5 L108,789.2 L108.4,789.9 L108.8,790.6 L109.3,791.3 L109.7,792 L110.1,792.6 L110.5,793.2 L110.9,793.8 L111.4,794.5 L112,795.2 L112.6,795.9 L113.1,796.6 L113.7,797.2 L114.3,797.8 L114.9,798.4 L115.5,799 L116.1,799.5 L116.7,800.1 L117.3,800.6 L117.9,801 L118.5,801.5 L119.2,802 L119.9,802.5 L120.6,802.9 L121.3,803.3 L122,803.7 L122.7,804 L123.5,804.3 L124.2,804.7 L125,805 L125.7,805.3 L126.5,805.6 L127.2,805.8 L128,806 L128.7,806.3 L129.5,806.5 L130.3,806.7 L131.2,806.9 L132,807.1 L132.9,807.4 L133.8,807.6 L134.5,807.8 L135.2,808 L136,808.2 L136.7,808.4 L137.5,808.6 L138.3,808.8 L139.1,809 L139.9,809.2 L144.1,810.2 L148.3,811.1 L152.2,812.4 L156.1,812.7 L160.1,813.1 L164.3,814.2 L168,814.1 L171.7,814.6 L175.6,814.8 L179.8,815.6 L183.3,816 L187,816 L190.6,815.9 L194.8,816.7 L198.4,816.9 L202.2,816.6 L206.1,816.8 L210.1,817.2 L214.2,817.7 L218.4,817.8 L222.6,817.9 L226.9,817.9 L231.3,817.7 L235.6,818.1 L239.1,818.1 L242.9,818.4 L246.7,818.4 L250.5,818.3 L254.4,819 L258.3,818.4 L262.3,818.7 L266.3,818.8 L270.3,819.4 L274.4,818.9 L278.5,819.3 L282.6,819.7 L286.8,819.5 L290.9,819.9 L295.1,819.5 L299.3,819.7 L303.4,819.7 L307.6,819.8 L311.7,819.9 L315.8,819.8 L319.8,820.6 L323.9,820.5 L327.9,820.5 L332.1,820.5 L336.2,820.3 L340.4,820.5 L344.6,821.1 L348.8,821.1 L353,820.9 L357.1,821.2 L361.3,821.5 L365.4,820.9 L369.5,821.2 L373.6,821.3 L377.6,821.3 L381.5,821.6 L385.4,821.5 L389.2,821.4 L392.9,822 L396.5,821.7 L400.2,822.1 L404.2,821.6 L408.4,821.8 L412.7,822 L417,821.6 L421.3,822 L425.5,821.8 L429.5,822 L433.3,822 L437.6,822.4 L441.3,822.2 L445.2,822 L447.4,822.2" fill="none" stroke="#984ea3" stroke-width="4.2" stroke-linejoin="round" stroke-linecap="butt"/>
<path d="M96.3,570.7 L96.3,570.7 L96.3,570.8 L96.3,570.8 L96.3,570.9 L96.3,571.1 L96.3,571.2 L96.3,571.4 L96.3,571.6 L96.3,571.8 L96.3,572.1 L96.3,572.4 L96.3,572.7 L96.4,573 L96.4,573.4 L96.4,573.8 L96.4,574.2 L96.4,574.6 L96.4,575.1 L96.4,575.5 L96.4,576 L96.4,576.6 L96.5,577.1 L96.5,577.7 L96.5,578.2 L96.5,578.8 L96.5,579.5 L96.5,580.1 L96.5,580.8 L96.6,581.4 L96.6,582.1 L96.6,582.8 L96.6,583.6 L96.6,584.3 L96.6,585.1 L96.7,585.8 L96.7,586.6 L96.7,587.4 L96.7,588.3 L96.7,589.1 L96.8,589.9 L96.8,590.8 L96.8,591.7 L96.8,592.6 L96.8,593.5 L96.9,594.4 L96.9,595.3 L96.9,596.2 L96.9,597.2 L97,598.1 L97,599.1 L97,600.1 L97,601.1 L97.1,602.1 L97.1,603.1 L97.1,604.1 L97.1,605.1 L97.2,606.1 L97.2,607.1 L97.2,608.2 L97.2,609.2 L97.2,610.2 L97.3,611.3 L97.3,612.4 L97.3,613.4 L97.4,614.5 L97.4,615.5 L97.4,616.6 L97.4,617.7 L97.5,618.8 L97.5,619.8 L97.5,620.9 L97.5,622 L97.6,623.1 L97.6,624.1 L97.6,625.2 L97.6,626.3 L97.7,627.4 L97.7,628.5 L97.7,629.5 L97.7,630.6 L97.8,631.7 L97.8,632.7 L97.8,633.8 L97.8,634.9 L97.9,635.9 L97.9,637 L97.9,638 L97.9,639 L97.9,640.1 L98,641.1 L98,642.1 L98,643.1 L98,644.1 L98.1,645.1 L98.1,646.1 L98.1,647.1 L98.1,648.1 L98.2,649 L98.2,650 L98.2,650.9 L98.2,651.9 L98.2,652.8 L98.3,653.7 L98.3,654.6 L98.3,655.5 L98.3,656.4 L98.3,657.2 L98.4,658.1 L98.4,658.9 L98.4,659.7 L98.4,660.5 L98.4,661.3 L98.4,662.1 L98.5,662.8 L98.5,663.6 L98.5,664.3 L98.5,665 L98.5,665.9 L98.5,666.8 L98.6,667.7 L98.6,668.6 L98.6,669.5 L98.6,670.4 L98.6,671.3 L98.6,672.2 L98.7,673.1 L98.7,674 L98.7,674.8 L98.7,675.7 L98.7,676.6 L98.7,677.4 L98.8,678.3 L98.8,679.1 L98.8,680 L98.8,680.8 L98.8,681.7 L98.8,682.5 L98.9,683.3 L98.9,684.2 L98.9,685 L98.9,685.8 L98.9,686.6 L98.9,687.5 L98.9,688.3 L99,689.1 L99,689.9 L99,690.7 L99,691.5 L99,692.3 L99,693.1 L99,693.9 L99.1,694.7 L99.1,695.5 L99.1,696.3 L99.1,697.1 L99.1,697.9 L99.1,698.7 L99.1,699.4 L99.2,700.2 L99.2,701 L99.2,701.8 L99.2,702.6 L99.2,703.3 L99.2,704.1 L99.2,704.9 L99.3,705.6 L99.3,706.4 L99.3,707.2 L99.3,707.9 L99.3,708.7 L99.3,709.4 L99.3,710.2 L99.3,711 L99.4,711.7 L99.4,712.5 L99.4,713.2 L99.4,714 L99.4,714.7 L99.4,715.5 L99.4,716.2 L99.4,717 L99.5,717.7 L99.5,718.5 L99.5,719.3 L99.5,720 L99.5,720.9 L99.5,721.7 L99.5,722.6 L99.5,723.5 L99.6,724.3 L99.6,725.2 L99.6,726.1 L99.6,726.9 L99.6,727.8 L99.6,728.7 L99.6,729.6 L99.6,730.4 L99.6,731.3 L99.6,732.2 L99.6,733 L99.6,733.9 L99.6,734.8 L99.6,735.6 L99.6,736.5 L99.6,737.3 L99.6,738.2 L99.6,739 L99.6,739.9 L99.6,740.7 L99.6,741.5 L99.6,742.4 L99.6,743.2 L99.6,744 L99.6,744.8 L99.6,745.7 L99.6,746.5 L99.6,747.3 L99.6,748.1 L99.6,748.8 L99.6,749.6 L99.6,750.4 L99.7,751.2 L99.7,751.9 L99.7,752.7 L99.7,753.4 L99.8,754.2 L99.8,754.9 L99.8,755.6 L99.9,756.3 L99.9,757 L99.9,757.7 L100,758.4 L100,759.1 L100.1,759.7 L100.1,760.4 L100.2,761 L100.3,762 L100.4,762.9 L100.5,763.8 L100.6,764.7 L100.7,765.5 L100.8,766.4 L100.9,767.2 L101,768 L101.1,768.8 L101.2,769.6 L101.3,770.3 L101.5,771.1 L101.6,771.9 L101.7,772.6 L101.9,773.3 L102.1,774.1 L102.2,774.8 L102.4,775.5 L102.6,776.3 L102.8,777 L103.1,777.8 L103.3,778.5 L103.6,779.3 L103.8,780.1 L104.1,780.8 L104.4,781.6 L104.8,782.4 L105.1,783.2 L105.4,784 L105.8,784.7 L106.1,785.5 L106.5,786.3 L106.9,787 L107.3,787.8 L107.6,788.5 L108,789.2 L108.4,789.9 L108.8,790.6 L109.3,791.3 L109.7,792 L110.1,792.6 L110.5,793.2 L110.9,793.8 L111.4,794.5 L112,795.2 L112.5,795.9 L113,796.5 L113.6,797.1 L114.1,797.6 L114.7,798.2 L115.2,798.8 L115.8,799.3 L116.5,799.8 L117.1,800.4 L117.8,800.9 L118.5,801.5 L119.1,801.9 L119.7,802.4 L120.3,802.8 L120.9,803.3 L121.5,803.7 L122.2,804.2 L122.9,804.6 L123.6,805.1 L124.3,805.5 L125,805.9 L125.7,806.4 L126.4,806.8 L127.2,807.2 L127.9,807.6 L128.7,808.1 L129.4,808.5 L130.1,808.8 L130.9,809.2 L131.6,809.6 L132.4,809.9 L133.1,810.3 L133.8,810.6 L134.6,810.9 L135.4,811.3 L136.2,811.6 L137,811.9 L137.8,812.1 L138.6,812.4 L139.4,812.6 L143.4,813.7 L147.5,814.7 L151.5,816 L155.3,816.6 L159.2,817.4 L163.4,818.1 L167.2,818.6 L171,819.3 L174.8,820 L178.9,820 L183.3,820.8 L187,821 L190.6,821.7 L194.8,822.1 L198.4,822.1 L202.2,822.6 L206.1,823.2 L210.1,823.8 L214.2,824.1 L218.4,824.6 L222.6,824.5 L226.9,825 L231.3,825.6 L235.6,825.8 L239.1,826.1 L242.9,826.8 L246.6,827 L250.4,827.1 L254.2,827.5 L258.1,828 L262,828.3 L266,828.7 L270,828.7 L274,829.4 L278.1,829.6 L282.2,829.7 L286.3,829.9 L290.4,830.4 L294.5,830.6 L298.6,831.3 L302.7,831.1 L306.8,831.9 L310.9,831.8 L315,832.4 L319,832.5 L323,832.6 L327,833.3 L331.1,833.3 L335.2,833.8 L339.3,833.7 L343.5,833.9 L347.6,834.3 L351.8,834.4 L355.9,834.8 L360,835.1 L364.1,835.3 L368.2,835.2 L372.2,835.8 L376.2,835.8 L380.1,836.1 L384,836.6 L387.8,836.8 L391.5,836.6 L395.1,836.8 L399.3,837.4 L403.2,837.5 L407.4,837.9 L411.6,838.1 L415.9,838.6 L420.2,838.8 L424.5,839.1 L428.5,839.3 L432.4,839.4 L436,839.5 L439.9,839.6 L443.7,840.3 L447.3,840.3 L447.4,840.3" fill="none" stroke="#ff7f00" stroke-width="4.2" stroke-linejoin="round" stroke-linecap="butt"/>
</g>
<rect x="79.5" y="512.5" width="385" height="346.9" fill="none" stroke="#000" stroke-width="1.5"/>
<line x1="96.3" y1="859.4" x2="96.3" y2="866.4" stroke="#000" stroke-width="1.5"/>
<text x="96.3" y="888.7" font-family='"Liberation Serif", serif' font-size="21.9" text-anchor="middle">0</text>
<line x1="202.2" y1="859.4" x2="202.2" y2="866.4" stroke="#000" stroke-width="1.5"/>
<text x="202.2" y="888.7" font-family='"Liberation Serif", serif' font-size="21.9" text-anchor="middle">1500</text>
<line x1="308.1" y1="859.4" x2="308.1" y2="866.4" stroke="#000" stroke-width="1.5"/>
<text x="308.1" y="888.7" font-family='"Liberation Serif", serif' font-size="21.9" text-anchor="middle">3000</text>
<line x1="414" y1="859.4" x2="414" y2="866.4" stroke="#000" stroke-width="1.5"/>
<text x="414" y="888.7" font-family='"Liberation Serif", serif' font-size="21.9" text-anchor="middle">4500</text>
<line x1="72" y1="590.7" x2="79.5" y2="590.7" stroke="#000" stroke-width="1.5"/>
<text x="64.9" y="598.2" font-family='"Liberation Serif", serif' font-size="21.9" text-anchor="end">0.5</text>
<line x1="72" y1="697" x2="79.5" y2="697" stroke="#000" stroke-width="1.5"/>
<text x="64.9" y="704.5" font-family='"Liberation Serif", serif' font-size="21.9" text-anchor="end">0.4</text>
<line x1="72" y1="803.2" x2="79.5" y2="803.2" stroke="#000" stroke-width="1.5"/>
<text x="64.9" y="810.7" font-family='"Liberation Serif", serif' font-size="21.9" text-anchor="end">0.3</text>
<text x="272" y="915" font-family='"Liberation Sans", sans-serif' font-size="20" text-anchor="middle" textLength="82" lengthAdjust="spacingAndGlyphs">Iterations</text>
<text x="84.7" y="499.6" font-family='"Liberation Sans", sans-serif' font-size="23.5" textLength="84.5" lengthAdjust="spacingAndGlyphs">Teacher:</text>
<text x="182.5" y="499.6" font-family='"Liberation Sans", sans-serif' font-size="23.5" textLength="276.7" lengthAdjust="spacingAndGlyphs">ReLU (Unknown Direction)</text>
<clipPath id="c4"><rect x="557.5" y="512.5" width="385.20000000000005" height="346.9"/></clipPath>
<g clip-path="url(#c4)">
<path d="M574.3,532.1 L574.3,532.1 L574.3,532.2 L574.3,532.4 L574.3,532.6 L574.3,532.9 L574.3,533.2 L574.3,533.6 L574.3,534 L574.4,534.5 L574.4,535.1 L574.4,535.7 L574.4,536.3 L574.4,537 L574.4,537.7 L574.4,538.5 L574.5,539.3 L574.5,540.1 L574.5,541 L574.5,541.9 L574.5,542.9 L574.6,543.9 L574.6,544.9 L574.6,545.9 L574.6,547 L574.6,548.1 L574.7,549.2 L574.7,550.4 L574.7,551.6 L574.8,552.7 L574.8,554 L574.8,555.2 L574.8,556.4 L574.9,557.7 L574.9,558.9 L574.9,560.2 L575,561.5 L575,562.7 L575,564 L575,565.3 L575.1,566.6 L575.1,567.9 L575.1,569.2 L575.2,570.5 L575.2,571.8 L575.2,573 L575.3,574.3 L575.3,575.6 L575.3,576.8 L575.4,578 L575.4,579.2 L575.4,580.4 L575.5,581.6 L575.5,582.8 L575.5,583.9 L575.5,585 L575.6,586.1 L575.6,587.2 L575.6,588.2 L575.7,589.3 L575.7,590.2 L575.7,591.2 L575.7,592.1 L575.8,593 L575.8,593.8 L575.8,595 L575.9,596.3 L575.9,597.4 L575.9,598.6 L576,599.7 L576,600.8 L576,601.9 L576.1,602.9 L576.1,603.9 L576.1,605 L576.2,606 L576.2,607 L576.2,608 L576.3,609 L576.3,610.1 L576.4,611.1 L576.4,612.1 L576.4,613.2 L576.5,614.3 L576.5,615.4 L576.6,616.5 L576.7,617.7 L576.7,618.9 L576.8,620.1 L576.8,621.3 L576.9,622.7 L577,624 L577.1,624.8 L577.2,625.7 L577.3,626.5 L577.4,627.3 L577.5,628.2 L577.6,629 L577.7,629.8 L577.8,630.7 L577.9,631.5 L578,632.4 L578.1,633.2 L578.2,634.1 L578.4,634.9 L578.5,635.8 L578.6,636.6 L578.8,637.4 L578.9,638.3 L579,639.1 L579.1,639.9 L579.3,640.7 L579.4,641.5 L579.5,642.3 L579.7,643.1 L579.8,643.9 L579.9,644.7 L580.1,645.5 L580.2,646.2 L580.4,647.1 L580.5,648 L580.6,648.9 L580.8,649.8 L580.9,650.7 L581.1,651.6 L581.2,652.5 L581.3,653.3 L581.5,654.2 L581.6,655 L581.8,655.9 L581.9,656.7 L582.1,657.5 L582.3,658.3 L582.5,659 L582.7,659.8 L582.9,660.5 L583.1,661.2 L583.4,661.8 L583.8,662.8 L584.2,663.7 L584.6,664.5 L585,665.3 L585.5,666.1 L586,666.8 L586.5,667.5 L587.1,668.3 L587.8,669 L588.4,669.6 L588.9,670.2 L589.6,670.7 L590.3,671.3 L591,671.9 L591.7,672.5 L592.4,673 L593.2,673.6 L594,674.1 L594.8,674.6 L595.6,675.1 L596.4,675.6 L597.2,676.1 L597.9,676.5 L598.7,676.9 L599.4,677.3 L600.2,677.7 L600.9,677.9 L601.6,678.1 L602.3,678.4 L603,678.5 L603.8,678.7 L604.5,678.9 L605.3,679 L606,679.2 L606.9,679.3 L607.7,679.5 L608.6,679.6 L609.6,679.7 L610.2,679.8 L610.8,679.9 L611.4,679.9 L612,680 L612.7,680 L613.3,680.1 L614,680.1 L614.6,680.2 L615.3,680.2 L616,680.2 L616.7,680.3 L617.4,680.3 L618.1,680.3 L618.8,680.3 L619.5,680.3 L620.3,680.4 L621,680.4 L621.8,680.4 L622.6,680.4 L623.3,680.4 L624.1,680.4 L625,680.4 L625.8,680.4 L626.6,680.4 L627.5,680.4 L628.4,680.4 L629.3,680.4 L630.2,680.4 L631.1,680.4 L632,680.4 L633,680.4 L633.9,680.4 L634.9,680.4 L635.9,680.4 L636.9,680.4 L638,680.4 L639,680.4 L640.1,680.5 L640.6,680.5 L641.2,680.5 L641.7,680.5 L642.2,680.5 L642.8,680.5 L643.4,680.5 L643.9,680.5 L644.5,680.5 L645.1,680.5 L645.6,680.5 L646.2,680.6 L646.8,680.6 L647.4,680.6 L648,680.6 L648.6,680.6 L649.3,680.6 L649.9,680.6 L653.7,680.4 L657.8,680.8 L662,680.2 L665.6,681.4 L669.3,681.2 L673.1,681.5 L677.1,680.6 L681.1,680.6 L685.1,680.4 L689.3,680.6 L693.5,680.5 L697.8,681.3 L702.1,681 L706.5,681.5 L710,681.5 L713.5,681 L717.1,680.8 L720.7,681.1 L724.2,680.7 L727.8,681.5 L731.4,680.9 L735,680.9 L738.6,681.8 L742.1,681.3 L745.7,681.9 L749.3,682 L752.8,681.6 L756.3,681.1 L760.6,681 L764.9,681.1 L769.2,681.7 L773.1,681.5 L777.2,681.2 L781.5,680.9 L785.1,681.3 L788.7,681.3 L792.5,681 L796.3,681.2 L800.2,681.2 L804.2,681.4 L808.3,681.4 L812.4,681.5 L816.6,681.9 L820.8,681.2 L825,680.9 L829.3,681.2 L833.5,681.1 L837.8,681.5 L842.1,681.3 L846.3,681.1 L850.6,680.9 L854.8,681.6 L858.9,681.5 L863.1,681.4 L867.1,681.5 L871.1,681.7 L875.1,680.7 L878.9,680.9 L882.7,681.2 L886.4,681.4 L890,681.2 L894.3,681.2 L898.4,680.9 L902.3,680.8 L906,681.6 L910,681.7 L913.8,681.1 L917.6,681 L921.2,680.6 L924.8,681.1 L926.9,681 L926.9,684 L924.8,684.1 L921.2,683.6 L917.6,684 L913.8,684.1 L910,684.7 L906,684.6 L902.3,683.9 L898.4,684 L894.3,684.3 L890,684.3 L886.4,684.6 L882.7,684.3 L878.9,684 L875.1,683.8 L871.1,684.9 L867.1,684.7 L863.1,684.6 L858.9,684.7 L854.8,684.8 L850.6,684.1 L846.3,684.4 L842.1,684.6 L837.8,684.7 L833.5,684.3 L829.3,684.5 L825,684.2 L820.8,684.5 L816.6,685.2 L812.4,684.9 L808.3,684.8 L804.2,684.7 L800.2,684.6 L796.3,684.6 L792.5,684.4 L788.7,684.8 L785.1,684.7 L781.5,684.3 L777.2,684.7 L773.1,685 L769.2,685.2 L764.9,684.6 L760.6,684.5 L756.3,684.6 L752.8,685.1 L749.3,685.5 L745.7,685.5 L742.1,684.8 L738.6,685.4 L735,684.5 L731.4,684.5 L727.8,685.1 L724.2,684.3 L720.7,684.7 L717.1,684.5 L713.5,684.7 L710,685.1 L706.5,685.2 L702.1,684.6 L697.8,685 L693.5,684.2 L689.3,684.4 L685.1,684.2 L681.1,684.3 L677.1,684.4 L673.1,685.2 L669.3,685 L665.6,685.2 L662,684 L657.8,684.7 L653.7,684.3 L649.9,684.5 L649.3,684.4 L648.6,684.4 L648,684.4 L647.4,684.4 L646.8,684.4 L646.2,684.4 L645.6,684.4 L645.1,684.4 L644.5,684.4 L643.9,684.4 L643.4,684.4 L642.8,684.4 L642.2,684.4 L641.7,684.4 L641.2,684.4 L640.6,684.3 L640.1,684.3 L639,684.3 L638,684.3 L636.9,684.3 L635.9,684.3 L634.9,684.3 L633.9,684.3 L633,684.3 L632,684.3 L631.1,684.3 L630.2,684.3 L629.3,684.3 L628.4,684.3 L627.5,684.3 L626.6,684.3 L625.8,684.3 L625,684.3 L624.1,684.3 L623.3,684.3 L622.6,684.3 L621.8,684.3 L621,684.3 L620.3,684.3 L619.5,684.3 L618.8,684.3 L618.1,684.3 L617.4,684.2 L616.7,684.2 L616,684.2 L615.3,684.2 L614.6,684.1 L614,684.1 L613.3,684 L612.7,684 L612,683.9 L611.4,683.9 L610.8,683.8 L610.2,683.8 L609.6,683.7 L608.6,683.6 L607.7,683.4 L606.9,683.3 L606,683.2 L605.3,683 L604.5,682.9 L603.8,682.7 L603,682.5 L602.3,682.3 L601.6,682.1 L600.9,681.9 L600.2,681.7 L599.4,681.4 L598.7,681.2 L597.9,681 L597.2,680.7 L596.4,680.4 L595.6,680.1 L594.8,679.7 L594,679.4 L593.2,679 L592.4,678.7 L591.7,678.3 L591,677.8 L590.3,677.4 L589.6,677 L588.9,676.6 L588.4,676.1 L587.8,675.7 L587.1,675.1 L586.5,674.5 L586,673.8 L585.5,673.2 L585,672.5 L584.6,671.9 L584.2,671.1 L583.8,670.3 L583.4,669.4 L583.1,668.8 L582.9,668.2 L582.7,667.5 L582.5,666.8 L582.3,666.1 L582.1,665.4 L581.9,664.6 L581.8,663.8 L581.6,663 L581.5,662.2 L581.3,661.4 L581.2,660.5 L581.1,659.7 L580.9,658.8 L580.8,658 L580.6,657.1 L580.5,656.2 L580.4,655.4 L580.2,654.5 L580.1,653.8 L579.9,653.1 L579.8,652.3 L579.7,651.6 L579.5,650.8 L579.4,650 L579.3,649.2 L579.1,648.5 L579,647.7 L578.9,646.9 L578.8,646.1 L578.6,645.3 L578.5,644.4 L578.4,643.6 L578.2,642.8 L578.1,642 L578,641.2 L577.9,640.3 L577.8,639.5 L577.7,638.7 L577.6,637.9 L577.5,637.1 L577.4,636.2 L577.3,635.4 L577.2,634.6 L577.1,633.8 L577,633 L576.9,632.3 L576.8,631.6 L576.8,630.9 L576.7,630.2 L576.7,629.6 L576.6,628.9 L576.5,628.2 L576.5,627.5 L576.4,626.8 L576.4,626.1 L576.4,625.4 L576.3,624.7 L576.3,624 L576.2,623.3 L576.2,622.6 L576.2,621.8 L576.1,621.1 L576.1,620.3 L576.1,619.6 L576,618.8 L576,618 L576,617.2 L575.9,616.3 L575.9,615.5 L575.9,614.6 L575.8,613.7 L575.8,612.8 L575.8,612.2 L575.7,611.5 L575.7,610.9 L575.7,610.2 L575.7,609.4 L575.6,608.6 L575.6,607.9 L575.6,607 L575.5,606.2 L575.5,605.3 L575.5,604.4 L575.5,603.5 L575.4,602.6 L575.4,601.7 L575.4,600.7 L575.3,599.7 L575.3,598.8 L575.3,597.8 L575.2,596.8 L575.2,595.8 L575.2,594.7 L575.1,593.7 L575.1,592.7 L575.1,591.6 L575,590.6 L575,589.6 L575,588.5 L575,587.5 L574.9,586.5 L574.9,585.5 L574.9,584.4 L574.8,583.4 L574.8,582.4 L574.8,581.4 L574.8,580.5 L574.7,579.5 L574.7,578.6 L574.7,577.6 L574.6,576.7 L574.6,575.8 L574.6,574.9 L574.6,574.1 L574.6,573.3 L574.5,572.5 L574.5,571.7 L574.5,570.9 L574.5,570.2 L574.5,569.5 L574.4,568.8 L574.4,568.2 L574.4,567.6 L574.4,567.1 L574.4,566.5 L574.4,566 L574.4,565.6 L574.3,565.2 L574.3,564.8 L574.3,564.5 L574.3,564.2 L574.3,564 L574.3,563.8 L574.3,563.7 L574.3,563.6 L574.3,563.6Z" fill="#e41a1c" fill-opacity="0.3" stroke="#e41a1c" stroke-opacity="0.3" stroke-width="1.4" stroke-linejoin="round"/>
<path d="M574.3,553 L574.3,553 L574.3,553.1 L574.3,553.2 L574.3,553.4 L574.3,553.6 L574.3,553.9 L574.3,554.2 L574.3,554.5 L574.4,554.9 L574.4,555.3 L574.4,555.8 L574.4,556.3 L574.4,556.8 L574.4,557.4 L574.4,558 L574.5,558.7 L574.5,559.4 L574.5,560.1 L574.5,560.8 L574.5,561.6 L574.6,562.3 L574.6,563.2 L574.6,564 L574.6,564.9 L574.7,565.7 L574.7,566.6 L574.7,567.6 L574.7,568.5 L574.8,569.5 L574.8,570.4 L574.8,571.4 L574.9,572.4 L574.9,573.4 L574.9,574.5 L574.9,575.5 L575,576.5 L575,577.6 L575,578.6 L575.1,579.7 L575.1,580.8 L575.1,581.8 L575.2,582.9 L575.2,584 L575.2,585 L575.3,586.1 L575.3,587.1 L575.3,588.2 L575.3,589.2 L575.4,590.3 L575.4,591.3 L575.4,592.3 L575.5,593.3 L575.5,594.3 L575.5,595.3 L575.6,596.3 L575.6,597.2 L575.6,598.2 L575.6,599.1 L575.7,600 L575.7,600.9 L575.7,601.7 L575.7,602.5 L575.8,603.4 L575.8,604.1 L575.8,605 L575.9,605.8 L575.9,606.6 L575.9,607.5 L575.9,608.3 L576,609.1 L576,609.9 L576,610.8 L576,611.6 L576.1,612.4 L576.1,613.2 L576.1,614 L576.2,614.9 L576.2,615.7 L576.2,616.5 L576.2,617.3 L576.3,618.1 L576.3,618.9 L576.3,619.7 L576.4,620.5 L576.4,621.3 L576.4,622.1 L576.4,622.9 L576.5,623.7 L576.5,624.5 L576.5,625.3 L576.6,626.1 L576.6,626.9 L576.6,627.7 L576.6,628.5 L576.7,629.3 L576.7,630.1 L576.7,630.9 L576.8,631.7 L576.8,632.5 L576.8,633.3 L576.8,634.1 L576.9,634.9 L576.9,635.7 L576.9,636.5 L577,637.3 L577,638.1 L577,638.9 L577,639.7 L577.1,640.5 L577.1,641.3 L577.1,642.1 L577.1,642.9 L577.2,643.7 L577.2,644.5 L577.2,645.3 L577.2,646.1 L577.3,646.9 L577.3,647.7 L577.3,648.5 L577.3,649.3 L577.4,650.1 L577.4,650.9 L577.4,651.8 L577.4,652.6 L577.4,653.4 L577.5,654.2 L577.5,655.1 L577.5,655.9 L577.5,656.7 L577.5,657.6 L577.5,658.4 L577.5,659.3 L577.6,660.1 L577.6,660.9 L577.6,661.8 L577.6,662.6 L577.6,663.5 L577.6,664.3 L577.6,665.2 L577.6,666 L577.6,666.8 L577.7,667.7 L577.7,668.5 L577.7,669.4 L577.7,670.2 L577.7,671 L577.7,671.9 L577.7,672.7 L577.7,673.5 L577.8,674.3 L577.8,675.2 L577.8,676 L577.8,676.8 L577.8,677.6 L577.9,678.4 L577.9,679.2 L577.9,680 L578,680.8 L578,681.6 L578,682.3 L578.1,683.1 L578.1,683.9 L578.1,684.7 L578.2,685.4 L578.2,686.2 L578.3,686.9 L578.3,687.6 L578.4,688.4 L578.4,689.1 L578.5,689.8 L578.5,690.5 L578.6,691.2 L578.7,692.1 L578.8,693 L578.9,693.9 L579,694.8 L579.1,695.6 L579.2,696.5 L579.3,697.4 L579.4,698.2 L579.5,699 L579.6,699.9 L579.7,700.7 L579.9,701.5 L580,702.3 L580.1,703.1 L580.3,703.9 L580.4,704.7 L580.5,705.5 L580.7,706.3 L580.8,707.1 L580.9,707.8 L581.1,708.6 L581.2,709.4 L581.3,710.1 L581.5,710.9 L581.6,711.6 L581.8,712.3 L581.9,713.1 L582,713.8 L582.2,714.5 L582.3,715.2 L582.5,716 L582.6,716.7 L582.8,717.5 L582.9,718.4 L583.1,719.3 L583.3,720.1 L583.4,720.9 L583.6,721.7 L583.8,722.5 L584,723.3 L584.1,724.1 L584.3,724.8 L584.5,725.6 L584.7,726.4 L584.9,727.2 L585,727.9 L585.2,728.7 L585.4,729.5 L585.6,730.3 L585.8,731.1 L586.1,731.9 L586.3,732.7 L586.5,733.5 L586.7,734.3 L586.9,735 L587.1,735.8 L587.3,736.5 L587.6,737.3 L587.8,738.1 L588,738.9 L588.2,739.7 L588.5,740.5 L588.7,741.3 L589,742 L589.2,742.8 L589.5,743.6 L589.7,744.4 L590,745.2 L590.2,746 L590.5,746.8 L590.7,747.6 L591,748.4 L591.2,749.2 L591.5,749.9 L591.8,750.7 L592,751.4 L592.3,752.1 L592.6,752.9 L592.8,753.6 L593.1,754.3 L593.4,755.1 L593.7,755.9 L594.1,756.7 L594.4,757.5 L594.7,758.3 L595,759.1 L595.4,759.9 L595.7,760.6 L596,761.4 L596.4,762.2 L596.7,762.9 L597.1,763.6 L597.4,764.3 L597.8,765.1 L598.1,765.8 L598.5,766.4 L598.9,767.1 L599.2,767.8 L599.6,768.4 L600,769.1 L600.5,769.9 L600.9,770.6 L601.4,771.2 L601.9,771.9 L602.3,772.6 L602.8,773.2 L603.3,773.8 L603.8,774.5 L604.3,775.1 L604.7,775.7 L605.2,776.3 L605.7,776.9 L606.2,777.5 L606.7,778.1 L607.3,778.8 L607.8,779.4 L608.3,780.1 L608.8,780.7 L609.4,781.3 L609.9,781.9 L610.5,782.5 L611,783.1 L611.6,783.6 L612.1,784.2 L612.7,784.7 L613.3,785.2 L613.9,785.7 L614.5,786.2 L615.2,786.7 L615.8,787.1 L616.4,787.6 L617.1,788 L617.8,788.4 L618.5,788.9 L619.3,789.3 L619.9,789.7 L620.6,790 L621.3,790.4 L622,790.8 L622.8,791.1 L623.5,791.5 L624.3,791.9 L625.1,792.2 L625.9,792.6 L626.7,793 L627.6,793.3 L628.4,793.7 L629.2,794 L630,794.3 L630.8,794.6 L631.6,794.9 L632.4,795.2 L633.2,795.5 L634,795.7 L634.8,796 L635.6,796.2 L636.4,796.5 L637.2,796.7 L638.1,796.9 L638.9,797.1 L639.7,797.3 L640.5,797.5 L641.3,797.7 L642.1,797.8 L642.9,798 L643.8,798.2 L644.6,798.3 L645.4,798.5 L646.2,798.7 L647,798.8 L647.8,798.9 L648.7,799.1 L649.5,799.2 L653.6,799.6 L657.7,800.3 L661.8,800.8 L665.9,801.2 L670,801.6 L674,801.9 L678.1,802.2 L682.2,802.2 L686.2,802.4 L689.8,802.7 L693.6,803.3 L698,802.9 L701.6,803.3 L705.2,803.5 L709,803.8 L713.1,803.9 L716.7,804.3 L720.5,804.5 L724.4,804.3 L728.5,804.2 L732.8,804.8 L736.3,804.9 L739.9,804.7 L743.6,805 L747.3,805.2 L751.2,805.3 L755,804.8 L759,804.9 L763.1,805.4 L767.3,805.1 L771,805.1 L775,805 L779.1,805.6 L783.5,805.2 L787.2,805.2 L790.9,805.6 L794.7,805.2 L798.7,805.7 L802.7,805.2 L806.7,805.9 L810.9,805.3 L815.1,805.3 L819.3,805.6 L823.6,805.9 L827.9,805.7 L832.2,805.9 L836.5,805.5 L840.9,806 L845.2,805.5 L849.5,805.7 L853.8,806 L858,805.7 L862.2,805.4 L866.4,806 L870.5,805.5 L874.5,805.7 L878.4,805.7 L882.3,805.8 L886,805.6 L889.7,806.2 L893.2,806.1 L897.4,805.9 L901.4,805.7 L905.2,805.8 L908.8,805.7 L912.7,805.8 L916.7,805.9 L920.6,806.1 L924.2,805.6 L926.9,805.9 L926.9,812.9 L924.2,812.6 L920.6,813.1 L916.7,812.9 L912.7,812.9 L908.8,812.8 L905.2,812.9 L901.4,812.8 L897.4,813 L893.2,813.3 L889.7,813.4 L886,812.7 L882.3,813 L878.4,812.9 L874.5,813 L870.5,812.7 L866.4,813.2 L862.2,812.7 L858,813 L853.8,813.3 L849.5,813 L845.2,812.9 L840.9,813.4 L836.5,812.9 L832.2,813.3 L827.9,813.1 L823.6,813.3 L819.3,813.1 L815.1,812.8 L810.9,812.8 L806.7,813.5 L802.7,812.8 L798.7,813.3 L794.7,812.7 L790.9,813.2 L787.2,812.8 L783.5,812.8 L779.1,813.2 L775,812.6 L771,812.8 L767.3,812.8 L763.1,813.1 L759,812.6 L755,812.6 L751.2,813.1 L747.3,813 L743.6,812.8 L739.9,812.5 L736.3,812.7 L732.8,812.7 L728.5,812 L724.4,812.2 L720.5,812.4 L716.7,812.2 L713.1,811.8 L709,811.8 L705.2,811.5 L701.6,811.3 L698,810.9 L693.6,811.3 L689.8,810.7 L686.2,810.4 L682.2,810.2 L678.1,810.2 L674,809.9 L670,809.6 L665.9,809.2 L661.8,808.8 L657.7,808.3 L653.6,807.6 L649.5,807.2 L648.7,807.1 L647.8,806.9 L647,806.8 L646.2,806.7 L645.4,806.5 L644.6,806.3 L643.8,806.2 L642.9,806 L642.1,805.8 L641.3,805.7 L640.5,805.5 L639.7,805.3 L638.9,805.1 L638.1,804.9 L637.2,804.7 L636.4,804.5 L635.6,804.2 L634.8,804 L634,803.7 L633.2,803.5 L632.4,803.2 L631.6,802.9 L630.8,802.6 L630,802.3 L629.2,802 L628.4,801.7 L627.6,801.3 L626.7,801 L625.9,800.6 L625.1,800.2 L624.3,799.9 L623.5,799.5 L622.8,799.1 L622,798.8 L621.3,798.4 L620.6,798 L619.9,797.7 L619.3,797.3 L618.5,796.9 L617.8,796.4 L617.1,796 L616.4,795.6 L615.8,795.1 L615.2,794.7 L614.5,794.2 L613.9,793.7 L613.3,793.2 L612.7,792.7 L612.1,792.2 L611.6,791.6 L611,791.1 L610.5,790.5 L609.9,789.9 L609.4,789.3 L608.8,788.7 L608.3,788.1 L607.8,787.4 L607.3,786.8 L606.7,786.1 L606.2,785.5 L605.7,784.9 L605.2,784.3 L604.7,783.7 L604.3,783.1 L603.8,782.5 L603.3,781.8 L602.8,781.2 L602.3,780.6 L601.9,779.9 L601.4,779.2 L600.9,778.6 L600.5,777.9 L600,777.1 L599.6,776.4 L599.2,775.7 L598.9,775 L598.5,774.3 L598.1,773.6 L597.8,772.9 L597.4,772.1 L597.1,771.4 L596.7,770.6 L596.4,769.9 L596,769.1 L595.7,768.3 L595.4,767.5 L595,766.7 L594.7,765.9 L594.4,765.1 L594.1,764.3 L593.7,763.4 L593.4,762.6 L593.1,761.7 L592.8,761 L592.6,760.3 L592.3,759.5 L592,758.8 L591.8,758 L591.5,757.3 L591.2,756.5 L591,755.7 L590.7,754.9 L590.5,754.1 L590.2,753.3 L590,752.5 L589.7,751.7 L589.5,750.8 L589.2,750 L589,749.2 L588.7,748.4 L588.5,747.6 L588.2,746.8 L588,745.9 L587.8,745.1 L587.6,744.3 L587.3,743.6 L587.1,742.8 L586.9,742 L586.7,741.2 L586.5,740.5 L586.3,739.6 L586.1,738.8 L585.8,738 L585.6,737.2 L585.4,736.4 L585.2,735.6 L585,734.8 L584.9,734 L584.7,733.2 L584.5,732.4 L584.3,731.6 L584.1,730.8 L584,730.1 L583.8,729.3 L583.6,728.4 L583.4,727.6 L583.3,726.8 L583.1,726 L582.9,725.1 L582.8,724.2 L582.6,723.3 L582.5,722.6 L582.3,721.9 L582.2,721.1 L582,720.4 L581.9,719.7 L581.8,718.9 L581.6,718.2 L581.5,717.4 L581.3,716.7 L581.2,715.9 L581.1,715.1 L580.9,714.4 L580.8,713.6 L580.7,712.8 L580.5,712 L580.4,711.2 L580.3,710.4 L580.1,709.6 L580,708.8 L579.9,708 L579.7,707.1 L579.6,706.3 L579.5,705.5 L579.4,704.6 L579.3,703.8 L579.2,702.9 L579.1,702 L579,701.2 L578.9,700.3 L578.8,699.4 L578.7,698.5 L578.6,697.6 L578.5,696.9 L578.5,696.2 L578.4,695.4 L578.4,694.7 L578.3,694 L578.3,693.2 L578.2,692.5 L578.2,691.7 L578.1,691 L578.1,690.2 L578.1,689.4 L578,688.7 L578,687.9 L578,687.1 L577.9,686.3 L577.9,685.5 L577.9,684.7 L577.8,683.9 L577.8,683.1 L577.8,682.3 L577.8,681.4 L577.8,680.6 L577.7,679.8 L577.7,679 L577.7,678.1 L577.7,677.3 L577.7,676.5 L577.7,675.6 L577.7,674.8 L577.7,674 L577.6,673.1 L577.6,672.3 L577.6,671.4 L577.6,670.6 L577.6,669.7 L577.6,668.9 L577.6,668.1 L577.6,667.2 L577.6,666.4 L577.5,665.5 L577.5,664.7 L577.5,663.8 L577.5,663 L577.5,662.2 L577.5,661.3 L577.5,660.5 L577.4,659.7 L577.4,658.8 L577.4,658 L577.4,657.2 L577.4,656.4 L577.3,655.6 L577.3,654.7 L577.3,653.9 L577.3,653.1 L577.2,652.3 L577.2,651.5 L577.2,650.7 L577.2,649.9 L577.1,649.1 L577.1,648.3 L577.1,647.5 L577.1,646.7 L577,645.9 L577,645.1 L577,644.3 L577,643.5 L576.9,642.7 L576.9,641.9 L576.9,641.1 L576.8,640.3 L576.8,639.5 L576.8,638.7 L576.8,637.9 L576.7,637.1 L576.7,636.3 L576.7,635.5 L576.6,634.7 L576.6,633.9 L576.6,633.1 L576.6,632.3 L576.5,631.5 L576.5,630.7 L576.5,629.9 L576.4,629.1 L576.4,628.3 L576.4,627.5 L576.4,626.7 L576.3,625.9 L576.3,625.1 L576.3,624.3 L576.2,623.5 L576.2,622.7 L576.2,621.8 L576.2,621 L576.1,620.2 L576.1,619.4 L576.1,618.6 L576,617.7 L576,616.9 L576,616.1 L576,615.3 L575.9,614.4 L575.9,613.6 L575.9,612.8 L575.9,611.9 L575.8,611.1 L575.8,610.3 L575.8,609.5 L575.7,608.7 L575.7,607.8 L575.7,607 L575.7,606.1 L575.6,605.2 L575.6,604.3 L575.6,603.4 L575.6,602.4 L575.5,601.4 L575.5,600.4 L575.5,599.4 L575.4,598.4 L575.4,597.4 L575.4,596.4 L575.3,595.3 L575.3,594.3 L575.3,593.2 L575.3,592.2 L575.2,591.1 L575.2,590 L575.2,589 L575.1,587.9 L575.1,586.8 L575.1,585.8 L575,584.7 L575,583.7 L575,582.6 L574.9,581.6 L574.9,580.5 L574.9,579.5 L574.9,578.5 L574.8,577.5 L574.8,576.5 L574.8,575.5 L574.7,574.6 L574.7,573.6 L574.7,572.7 L574.7,571.8 L574.6,570.9 L574.6,570 L574.6,569.2 L574.6,568.4 L574.5,567.6 L574.5,566.8 L574.5,566.1 L574.5,565.4 L574.5,564.7 L574.4,564.1 L574.4,563.5 L574.4,562.9 L574.4,562.3 L574.4,561.8 L574.4,561.4 L574.4,560.9 L574.3,560.5 L574.3,560.2 L574.3,559.9 L574.3,559.6 L574.3,559.4 L574.3,559.2 L574.3,559.1 L574.3,559 L574.3,559Z" fill="#984ea3" fill-opacity="0.3" stroke="#984ea3" stroke-opacity="0.3" stroke-width="1.4" stroke-linejoin="round"/>
<path d="M574.3,553 L574.3,553 L574.3,553.1 L574.3,553.2 L574.3,553.4 L574.3,553.6 L574.3,553.9 L574.3,554.2 L574.3,554.5 L574.4,554.9 L574.4,555.3 L574.4,555.8 L574.4,556.3 L574.4,556.9 L574.4,557.4 L574.4,558 L574.5,558.7 L574.5,559.4 L574.5,560.1 L574.5,560.8 L574.5,561.6 L574.6,562.4 L574.6,563.2 L574.6,564 L574.6,564.9 L574.7,565.8 L574.7,566.7 L574.7,567.6 L574.7,568.5 L574.8,569.5 L574.8,570.5 L574.8,571.4 L574.9,572.4 L574.9,573.5 L574.9,574.5 L574.9,575.5 L575,576.6 L575,577.6 L575,578.7 L575.1,579.7 L575.1,580.8 L575.1,581.8 L575.2,582.9 L575.2,584 L575.2,585 L575.3,586.1 L575.3,587.2 L575.3,588.2 L575.3,589.3 L575.4,590.3 L575.4,591.3 L575.4,592.4 L575.5,593.4 L575.5,594.4 L575.5,595.3 L575.6,596.3 L575.6,597.3 L575.6,598.2 L575.6,599.1 L575.7,600 L575.7,600.9 L575.7,601.7 L575.7,602.6 L575.8,603.4 L575.8,604.2 L575.8,605 L575.9,605.8 L575.9,606.7 L575.9,607.5 L575.9,608.3 L576,609.2 L576,610 L576,610.8 L576,611.6 L576.1,612.4 L576.1,613.3 L576.1,614.1 L576.2,614.9 L576.2,615.7 L576.2,616.5 L576.2,617.3 L576.3,618.1 L576.3,618.9 L576.3,619.8 L576.4,620.6 L576.4,621.4 L576.4,622.2 L576.4,623 L576.5,623.8 L576.5,624.6 L576.5,625.4 L576.6,626.2 L576.6,627 L576.6,627.8 L576.6,628.6 L576.7,629.4 L576.7,630.2 L576.7,631 L576.8,631.8 L576.8,632.5 L576.8,633.3 L576.8,634.1 L576.9,634.9 L576.9,635.7 L576.9,636.5 L577,637.3 L577,638.1 L577,638.9 L577,639.7 L577.1,640.5 L577.1,641.3 L577.1,642.1 L577.1,642.9 L577.2,643.7 L577.2,644.5 L577.2,645.3 L577.2,646.1 L577.3,646.9 L577.3,647.7 L577.3,648.5 L577.3,649.4 L577.4,650.2 L577.4,651 L577.4,651.8 L577.4,652.6 L577.4,653.5 L577.5,654.3 L577.5,655.1 L577.5,656 L577.5,656.8 L577.5,657.6 L577.5,658.5 L577.5,659.3 L577.6,660.2 L577.6,661 L577.6,661.9 L577.6,662.7 L577.6,663.5 L577.6,664.4 L577.6,665.2 L577.6,666.1 L577.6,666.9 L577.7,667.8 L577.7,668.6 L577.7,669.4 L577.7,670.3 L577.7,671.1 L577.7,671.9 L577.7,672.8 L577.7,673.6 L577.8,674.4 L577.8,675.2 L577.8,676 L577.8,676.9 L577.8,677.7 L577.9,678.5 L577.9,679.3 L577.9,680.1 L578,680.9 L578,681.6 L578,682.4 L578.1,683.2 L578.1,684 L578.1,684.7 L578.2,685.5 L578.2,686.2 L578.3,687 L578.3,687.7 L578.4,688.5 L578.4,689.2 L578.5,689.9 L578.5,690.6 L578.6,691.3 L578.7,692.2 L578.8,693.1 L578.9,694 L579,694.9 L579.1,695.7 L579.2,696.6 L579.3,697.5 L579.4,698.3 L579.5,699.2 L579.6,700 L579.7,700.8 L579.9,701.6 L580,702.4 L580.1,703.3 L580.3,704.1 L580.4,704.8 L580.5,705.6 L580.7,706.4 L580.8,707.2 L580.9,708 L581.1,708.7 L581.2,709.5 L581.3,710.2 L581.5,711 L581.6,711.7 L581.8,712.5 L581.9,713.2 L582,713.9 L582.2,714.7 L582.3,715.4 L582.5,716.1 L582.6,716.8 L582.8,717.7 L582.9,718.6 L583.1,719.4 L583.3,720.3 L583.4,721.1 L583.6,721.9 L583.8,722.7 L584,723.5 L584.1,724.3 L584.3,725 L584.5,725.8 L584.7,726.6 L584.9,727.4 L585,728.1 L585.2,728.9 L585.4,729.7 L585.6,730.5 L585.8,731.3 L586.1,732.1 L586.3,732.9 L586.5,733.8 L586.7,734.5 L586.9,735.3 L587.1,736 L587.3,736.8 L587.6,737.6 L587.8,738.3 L588,739.1 L588.2,739.9 L588.5,740.7 L588.7,741.5 L589,742.3 L589.2,743.1 L589.5,743.9 L589.7,744.7 L590,745.5 L590.2,746.3 L590.5,747.1 L590.7,747.9 L591,748.7 L591.2,749.5 L591.5,750.2 L591.8,751 L592,751.8 L592.3,752.5 L592.6,753.2 L592.8,753.9 L593.1,754.6 L593.4,755.5 L593.7,756.3 L594.1,757.1 L594.4,757.9 L594.7,758.7 L595.1,759.4 L595.4,760.2 L595.7,761 L596.1,761.7 L596.4,762.4 L596.8,763.2 L597.1,763.9 L597.5,764.6 L597.8,765.4 L598.2,766.1 L598.5,766.8 L598.9,767.5 L599.2,768.2 L599.6,768.9 L600,769.7 L600.4,770.4 L600.8,771.2 L601.2,772 L601.6,772.7 L602,773.5 L602.4,774.2 L602.8,775 L603.2,775.7 L603.7,776.4 L604.1,777.1 L604.5,777.8 L604.9,778.5 L605.3,779.2 L605.8,779.9 L606.2,780.6 L606.6,781.3 L607.1,782 L607.5,782.7 L608,783.4 L608.5,784.1 L608.9,784.8 L609.4,785.4 L609.8,786.1 L610.3,786.7 L610.8,787.4 L611.2,788 L611.7,788.6 L612.2,789.2 L612.7,789.8 L613.3,790.5 L613.8,791.1 L614.4,791.7 L614.9,792.3 L615.5,792.9 L616,793.5 L616.6,794 L617.3,794.6 L617.9,795.2 L618.6,795.7 L619.3,796.3 L619.9,796.7 L620.5,797.2 L621.1,797.6 L621.7,798 L622.4,798.5 L623,798.9 L623.7,799.4 L624.4,799.8 L625.1,800.2 L625.9,800.7 L626.6,801.1 L627.3,801.5 L628,801.9 L628.8,802.3 L629.5,802.7 L630.2,803.1 L631,803.5 L631.7,803.8 L632.4,804.2 L633.2,804.6 L633.9,804.9 L634.7,805.3 L635.4,805.6 L636.2,805.9 L636.9,806.3 L637.7,806.6 L638.5,806.9 L639.2,807.2 L640,807.5 L640.8,807.7 L641.5,808 L642.3,808.3 L643.1,808.6 L643.9,808.9 L644.6,809.1 L645.4,809.4 L646.2,809.7 L646.9,809.9 L647.7,810.2 L648.5,810.4 L649.2,810.7 L650,811 L653.9,812.1 L657.7,813.2 L661.8,813.9 L665.9,815.1 L670,815.8 L674,816.5 L678.1,817 L682.2,817.7 L686.2,818.3 L689.8,818.7 L693.6,819 L698,819.9 L701.7,820 L705.3,820.2 L709.3,820.7 L712.9,821.2 L716.8,821.8 L720.7,821.8 L724.9,822.4 L729.1,822.5 L733.5,822.8 L737,823.6 L740.6,823.7 L744.1,823.9 L747.7,824.4 L751.3,824.3 L754.8,825.1 L759.1,825.1 L763,825.8 L766.8,825.7 L770.6,826.2 L774.4,826.4 L778.3,826.9 L782.3,826.9 L786.2,827.2 L790.2,827.7 L794.2,827.9 L798.3,828.7 L802.3,828.6 L806.4,829 L810.5,829.5 L814.6,829.5 L818.7,830.4 L822.8,830.3 L826.9,830.8 L831,830.9 L835.1,831.2 L839.2,831.7 L843.3,832.1 L847.7,832.4 L851.4,832.8 L855.3,833.1 L859.3,833 L863.4,833.1 L867.7,833.4 L871.9,834.2 L876.2,834.5 L880.5,834.6 L884.8,834.5 L889,835 L893.1,835.5 L897.1,835.4 L901,835.7 L904.7,836.1 L908.2,836.5 L912.3,836.8 L916,836.8 L919.8,837.1 L923.3,837.4 L926.8,837.6 L926.9,837.6 L926.9,844.6 L926.8,844.6 L923.3,844.4 L919.8,844.1 L916,843.8 L912.3,843.8 L908.2,843.5 L904.7,843.1 L901,842.7 L897.1,842.4 L893.1,842.5 L889,842 L884.8,841.5 L880.5,841.6 L876.2,841.5 L871.9,841.2 L867.7,840.4 L863.4,840.1 L859.3,840 L855.3,840.1 L851.4,839.8 L847.7,839.4 L843.3,839.1 L839.2,838.7 L835.1,838.2 L831,837.9 L826.9,837.8 L822.8,837.3 L818.7,837.4 L814.6,836.5 L810.5,836.5 L806.4,836 L802.3,835.6 L798.3,835.7 L794.2,834.9 L790.2,834.7 L786.2,834.2 L782.3,833.9 L778.3,833.9 L774.4,833.4 L770.6,833.2 L766.8,832.7 L763,832.8 L759.1,832.1 L754.8,832.1 L751.3,831.3 L747.7,831.4 L744.1,830.9 L740.6,830.7 L737,830.6 L733.5,829.8 L729.1,829.5 L724.9,829.4 L720.7,828.8 L716.8,828.8 L712.9,828.2 L709.3,827.7 L705.3,827.2 L701.7,827 L698,826.9 L693.6,826 L689.8,825.7 L686.2,825.3 L682.2,824.7 L678.1,824 L674,823.5 L670,822.8 L665.9,822.1 L661.8,820.9 L657.7,820.2 L653.9,819.1 L650,818 L649.2,817.7 L648.5,817.4 L647.7,817.2 L646.9,816.9 L646.2,816.7 L645.4,816.4 L644.6,816.1 L643.9,815.9 L643.1,815.6 L642.3,815.3 L641.5,815 L640.8,814.7 L640,814.5 L639.2,814.2 L638.5,813.9 L637.7,813.6 L636.9,813.3 L636.2,812.9 L635.4,812.6 L634.7,812.3 L633.9,811.9 L633.2,811.6 L632.4,811.2 L631.7,810.8 L631,810.5 L630.2,810.1 L629.5,809.7 L628.8,809.3 L628,808.9 L627.3,808.5 L626.6,808.1 L625.9,807.7 L625.1,807.2 L624.4,806.8 L623.7,806.4 L623,805.9 L622.4,805.5 L621.7,805 L621.1,804.6 L620.5,804.2 L619.9,803.7 L619.3,803.3 L618.6,802.7 L617.9,802.2 L617.3,801.6 L616.6,801 L616,800.5 L615.5,799.9 L614.9,799.3 L614.4,798.7 L613.8,798.1 L613.3,797.5 L612.7,796.8 L612.2,796.2 L611.7,795.6 L611.2,795 L610.8,794.4 L610.3,793.7 L609.8,793.1 L609.4,792.4 L608.9,791.8 L608.5,791.1 L608,790.4 L607.5,789.7 L607.1,789 L606.6,788.3 L606.2,787.6 L605.8,786.9 L605.3,786.2 L604.9,785.5 L604.5,784.8 L604.1,784.1 L603.7,783.4 L603.2,782.7 L602.8,782 L602.4,781.2 L602,780.5 L601.6,779.7 L601.2,779 L600.8,778.2 L600.4,777.4 L600,776.7 L599.6,775.9 L599.2,775.2 L598.9,774.5 L598.5,773.7 L598.2,773 L597.8,772.3 L597.5,771.5 L597.1,770.8 L596.8,770.1 L596.4,769.3 L596.1,768.6 L595.7,767.8 L595.4,767 L595.1,766.2 L594.7,765.5 L594.4,764.7 L594.1,763.9 L593.7,763 L593.4,762.2 L593.1,761.4 L592.8,760.7 L592.6,759.9 L592.3,759.2 L592,758.4 L591.8,757.7 L591.5,756.9 L591.2,756.1 L591,755.4 L590.7,754.6 L590.5,753.8 L590.2,753 L590,752.2 L589.7,751.4 L589.5,750.5 L589.2,749.7 L589,748.9 L588.7,748.1 L588.5,747.3 L588.2,746.5 L588,745.7 L587.8,744.9 L587.6,744.1 L587.3,743.3 L587.1,742.5 L586.9,741.8 L586.7,741 L586.5,740.2 L586.3,739.4 L586.1,738.6 L585.8,737.7 L585.6,736.9 L585.4,736.1 L585.2,735.3 L585,734.6 L584.9,733.8 L584.7,733 L584.5,732.2 L584.3,731.4 L584.1,730.6 L584,729.9 L583.8,729.1 L583.6,728.3 L583.4,727.4 L583.3,726.6 L583.1,725.8 L582.9,724.9 L582.8,724.1 L582.6,723.2 L582.5,722.4 L582.3,721.7 L582.2,721 L582,720.3 L581.9,719.5 L581.8,718.8 L581.6,718 L581.5,717.3 L581.3,716.5 L581.2,715.8 L581.1,715 L580.9,714.2 L580.8,713.5 L580.7,712.7 L580.5,711.9 L580.4,711.1 L580.3,710.3 L580.1,709.5 L580,708.7 L579.9,707.9 L579.7,707 L579.6,706.2 L579.5,705.4 L579.4,704.5 L579.3,703.7 L579.2,702.8 L579.1,701.9 L579,701.1 L578.9,700.2 L578.8,699.3 L578.7,698.4 L578.6,697.5 L578.5,696.8 L578.5,696.1 L578.4,695.4 L578.4,694.6 L578.3,693.9 L578.3,693.2 L578.2,692.4 L578.2,691.7 L578.1,690.9 L578.1,690.1 L578.1,689.4 L578,688.6 L578,687.8 L578,687 L577.9,686.2 L577.9,685.4 L577.9,684.6 L577.8,683.8 L577.8,683 L577.8,682.2 L577.8,681.4 L577.8,680.5 L577.7,679.7 L577.7,678.9 L577.7,678.1 L577.7,677.2 L577.7,676.4 L577.7,675.6 L577.7,674.7 L577.7,673.9 L577.6,673.1 L577.6,672.2 L577.6,671.4 L577.6,670.5 L577.6,669.7 L577.6,668.8 L577.6,668 L577.6,667.1 L577.6,666.3 L577.5,665.5 L577.5,664.6 L577.5,663.8 L577.5,662.9 L577.5,662.1 L577.5,661.3 L577.5,660.4 L577.4,659.6 L577.4,658.8 L577.4,657.9 L577.4,657.1 L577.4,656.3 L577.3,655.5 L577.3,654.7 L577.3,653.9 L577.3,653.1 L577.2,652.2 L577.2,651.4 L577.2,650.6 L577.2,649.8 L577.1,649 L577.1,648.2 L577.1,647.4 L577.1,646.6 L577,645.8 L577,645 L577,644.2 L577,643.4 L576.9,642.6 L576.9,641.8 L576.9,641 L576.8,640.2 L576.8,639.5 L576.8,638.7 L576.8,637.9 L576.7,637.1 L576.7,636.3 L576.7,635.5 L576.6,634.7 L576.6,633.9 L576.6,633.1 L576.6,632.3 L576.5,631.5 L576.5,630.7 L576.5,629.9 L576.4,629.1 L576.4,628.3 L576.4,627.5 L576.4,626.7 L576.3,625.8 L576.3,625 L576.3,624.2 L576.2,623.4 L576.2,622.6 L576.2,621.8 L576.2,621 L576.1,620.2 L576.1,619.3 L576.1,618.5 L576,617.7 L576,616.9 L576,616.1 L576,615.2 L575.9,614.4 L575.9,613.6 L575.9,612.7 L575.9,611.9 L575.8,611.1 L575.8,610.2 L575.8,609.5 L575.7,608.6 L575.7,607.8 L575.7,607 L575.7,606.1 L575.6,605.2 L575.6,604.3 L575.6,603.3 L575.6,602.4 L575.5,601.4 L575.5,600.4 L575.5,599.4 L575.4,598.4 L575.4,597.4 L575.4,596.4 L575.3,595.3 L575.3,594.3 L575.3,593.2 L575.3,592.2 L575.2,591.1 L575.2,590 L575.2,589 L575.1,587.9 L575.1,586.8 L575.1,585.8 L575,584.7 L575,583.6 L575,582.6 L574.9,581.5 L574.9,580.5 L574.9,579.5 L574.9,578.5 L574.8,577.5 L574.8,576.5 L574.8,575.5 L574.7,574.5 L574.7,573.6 L574.7,572.7 L574.7,571.8 L574.6,570.9 L574.6,570 L574.6,569.2 L574.6,568.4 L574.5,567.6 L574.5,566.8 L574.5,566.1 L574.5,565.4 L574.5,564.7 L574.4,564.1 L574.4,563.5 L574.4,562.9 L574.4,562.3 L574.4,561.8 L574.4,561.4 L574.4,560.9 L574.3,560.5 L574.3,560.2 L574.3,559.9 L574.3,559.6 L574.3,559.4 L574.3,559.2 L574.3,559.1 L574.3,559 L574.3,559Z" fill="#ff7f00" fill-opacity="0.3" stroke="#ff7f00" stroke-opacity="0.3" stroke-width="1.4" stroke-linejoin="round"/>
<path d="M574.3,556 L574.3,556 L574.3,556.1 L574.3,556.2 L574.3,556.4 L574.3,556.7 L574.3,556.9 L574.3,557.3 L574.3,557.6 L574.4,558.1 L574.4,558.5 L574.4,559 L574.4,559.6 L574.4,560.2 L574.4,560.8 L574.4,561.4 L574.5,562.1 L574.5,562.8 L574.5,563.6 L574.5,564.4 L574.5,565.2 L574.6,566 L574.6,566.9 L574.6,567.7 L574.6,568.6 L574.6,569.6 L574.7,570.5 L574.7,571.5 L574.7,572.5 L574.8,573.5 L574.8,574.5 L574.8,575.5 L574.8,576.5 L574.9,577.6 L574.9,578.6 L574.9,579.7 L575,580.8 L575,581.9 L575,582.9 L575,584 L575.1,585.1 L575.1,586.2 L575.1,587.2 L575.2,588.3 L575.2,589.4 L575.2,590.4 L575.3,591.5 L575.3,592.5 L575.3,593.5 L575.4,594.5 L575.4,595.5 L575.4,596.5 L575.5,597.5 L575.5,598.4 L575.5,599.3 L575.5,600.2 L575.6,601.1 L575.6,602 L575.6,602.8 L575.7,603.6 L575.7,604.4 L575.7,605.2 L575.7,605.9 L575.8,606.6 L575.8,607.2 L575.8,608.2 L575.9,609.1 L575.9,610 L575.9,610.9 L576,611.8 L576,612.7 L576,613.5 L576.1,614.3 L576.1,615.2 L576.1,616 L576.2,616.7 L576.2,617.5 L576.2,618.3 L576.3,619.1 L576.3,619.8 L576.4,620.6 L576.4,621.3 L576.4,622.1 L576.5,622.8 L576.5,623.6 L576.6,624.3 L576.7,625.1 L576.7,625.9 L576.8,626.6 L576.8,627.4 L576.9,628.2 L577,629 L577.1,629.8 L577.2,630.6 L577.3,631.4 L577.4,632.3 L577.5,633.1 L577.6,633.9 L577.7,634.8 L577.8,635.6 L577.9,636.4 L578,637.3 L578.1,638.1 L578.2,638.9 L578.4,639.7 L578.5,640.6 L578.6,641.4 L578.8,642.2 L578.9,643 L579,643.8 L579.1,644.6 L579.3,645.4 L579.4,646.2 L579.5,647 L579.7,647.8 L579.8,648.6 L579.9,649.3 L580.1,650.1 L580.2,650.8 L580.4,651.7 L580.5,652.6 L580.6,653.4 L580.8,654.3 L580.9,655.2 L581.1,656 L581.2,656.9 L581.3,657.8 L581.5,658.6 L581.6,659.4 L581.8,660.2 L581.9,661 L582.1,661.8 L582.3,662.6 L582.5,663.3 L582.7,664 L582.9,664.7 L583.1,665.4 L583.4,666 L583.8,666.9 L584.2,667.7 L584.6,668.5 L585,669.2 L585.5,670 L586,670.6 L586.5,671.3 L587.1,671.9 L587.8,672.6 L588.4,673.1 L588.9,673.6 L589.6,674.1 L590.3,674.6 L591,675.1 L591.7,675.5 L592.4,676 L593.2,676.4 L594,676.9 L594.8,677.3 L595.6,677.7 L596.4,678.1 L597.2,678.4 L597.9,678.8 L598.7,679.1 L599.4,679.4 L600.2,679.7 L600.9,679.9 L601.6,680.1 L602.3,680.3 L603,680.5 L603.8,680.7 L604.5,680.9 L605.3,681 L606,681.2 L606.9,681.3 L607.7,681.4 L608.6,681.6 L609.6,681.7 L610.2,681.8 L610.8,681.8 L611.4,681.9 L612,682 L612.7,682 L613.3,682.1 L614,682.1 L614.6,682.1 L615.3,682.2 L616,682.2 L616.7,682.2 L617.4,682.3 L618.1,682.3 L618.8,682.3 L619.5,682.3 L620.3,682.3 L621,682.3 L621.8,682.3 L622.6,682.3 L623.3,682.3 L624.1,682.3 L625,682.3 L625.8,682.3 L626.6,682.3 L627.5,682.3 L628.4,682.3 L629.3,682.3 L630.2,682.3 L631.1,682.3 L632,682.3 L633,682.3 L633.9,682.3 L634.9,682.4 L635.9,682.4 L636.9,682.4 L638,682.4 L639,682.4 L640.1,682.4 L640.6,682.4 L641.2,682.4 L641.7,682.4 L642.2,682.4 L642.8,682.4 L643.4,682.4 L643.9,682.5 L644.5,682.5 L645.1,682.5 L645.6,682.5 L646.2,682.5 L646.8,682.5 L647.4,682.5 L648,682.5 L648.6,682.5 L649.3,682.5 L649.9,682.5 L653.7,682.4 L657.8,682.8 L662,682.1 L665.6,683.3 L669.3,683.1 L673.1,683.4 L677.1,682.5 L681.1,682.5 L685.1,682.3 L689.3,682.5 L693.5,682.3 L697.8,683.2 L702.1,682.8 L706.5,683.4 L710,683.3 L713.5,682.8 L717.1,682.6 L720.7,682.9 L724.2,682.5 L727.8,683.3 L731.4,682.7 L735,682.7 L738.6,683.6 L742.1,683.1 L745.7,683.7 L749.3,683.7 L752.8,683.4 L756.3,682.9 L760.6,682.8 L764.9,682.9 L769.2,683.5 L773.1,683.2 L777.2,683 L781.5,682.6 L785.1,683 L788.7,683.1 L792.5,682.7 L796.3,682.9 L800.2,682.9 L804.2,683 L808.3,683.1 L812.4,683.2 L816.6,683.5 L820.8,682.8 L825,682.6 L829.3,682.8 L833.5,682.7 L837.8,683.1 L842.1,683 L846.3,682.8 L850.6,682.5 L854.8,683.2 L858.9,683.1 L863.1,683 L867.1,683.1 L871.1,683.3 L875.1,682.3 L878.9,682.4 L882.7,682.7 L886.4,683 L890,682.7 L894.3,682.7 L898.4,682.5 L902.3,682.4 L906,683.1 L910,683.2 L913.8,682.6 L917.6,682.5 L921.2,682.1 L924.8,682.6 L926.9,682.5" fill="none" stroke="#e41a1c" stroke-width="4.2" stroke-linejoin="round" stroke-linecap="butt"/>
<path d="M574.3,556 L574.3,556 L574.3,556.1 L574.3,556.2 L574.3,556.4 L574.3,556.6 L574.3,556.9 L574.3,557.2 L574.3,557.5 L574.4,557.9 L574.4,558.3 L574.4,558.8 L574.4,559.3 L574.4,559.9 L574.4,560.4 L574.4,561.1 L574.5,561.7 L574.5,562.4 L574.5,563.1 L574.5,563.8 L574.5,564.6 L574.6,565.4 L574.6,566.2 L574.6,567 L574.6,567.9 L574.7,568.8 L574.7,569.7 L574.7,570.6 L574.7,571.5 L574.8,572.5 L574.8,573.5 L574.8,574.5 L574.9,575.5 L574.9,576.5 L574.9,577.5 L574.9,578.5 L575,579.6 L575,580.6 L575,581.7 L575.1,582.7 L575.1,583.8 L575.1,584.9 L575.2,585.9 L575.2,587 L575.2,588.1 L575.3,589.1 L575.3,590.2 L575.3,591.2 L575.3,592.3 L575.4,593.3 L575.4,594.4 L575.4,595.4 L575.5,596.4 L575.5,597.4 L575.5,598.4 L575.6,599.3 L575.6,600.3 L575.6,601.2 L575.6,602.2 L575.7,603 L575.7,603.9 L575.7,604.8 L575.7,605.6 L575.8,606.4 L575.8,607.2 L575.8,608 L575.9,608.9 L575.9,609.7 L575.9,610.5 L575.9,611.4 L576,612.2 L576,613 L576,613.8 L576,614.7 L576.1,615.5 L576.1,616.3 L576.1,617.1 L576.2,617.9 L576.2,618.8 L576.2,619.6 L576.2,620.4 L576.3,621.2 L576.3,622 L576.3,622.8 L576.4,623.6 L576.4,624.4 L576.4,625.2 L576.4,626 L576.5,626.8 L576.5,627.6 L576.5,628.4 L576.6,629.2 L576.6,630 L576.6,630.8 L576.6,631.6 L576.7,632.4 L576.7,633.2 L576.7,634 L576.8,634.8 L576.8,635.6 L576.8,636.4 L576.8,637.2 L576.9,638 L576.9,638.8 L576.9,639.6 L577,640.4 L577,641.2 L577,642 L577,642.8 L577.1,643.6 L577.1,644.4 L577.1,645.2 L577.1,646 L577.2,646.8 L577.2,647.6 L577.2,648.4 L577.2,649.2 L577.3,650 L577.3,650.8 L577.3,651.6 L577.3,652.4 L577.4,653.2 L577.4,654.1 L577.4,654.9 L577.4,655.7 L577.4,656.5 L577.5,657.4 L577.5,658.2 L577.5,659 L577.5,659.9 L577.5,660.7 L577.5,661.6 L577.5,662.4 L577.6,663.2 L577.6,664.1 L577.6,664.9 L577.6,665.8 L577.6,666.6 L577.6,667.5 L577.6,668.3 L577.6,669.1 L577.6,670 L577.7,670.8 L577.7,671.7 L577.7,672.5 L577.7,673.3 L577.7,674.2 L577.7,675 L577.7,675.8 L577.7,676.7 L577.8,677.5 L577.8,678.3 L577.8,679.1 L577.8,679.9 L577.8,680.7 L577.9,681.5 L577.9,682.3 L577.9,683.1 L578,683.9 L578,684.7 L578,685.5 L578.1,686.3 L578.1,687 L578.1,687.8 L578.2,688.6 L578.2,689.3 L578.3,690.1 L578.3,690.8 L578.4,691.5 L578.4,692.3 L578.5,693 L578.5,693.7 L578.6,694.4 L578.7,695.3 L578.8,696.2 L578.9,697.1 L579,698 L579.1,698.8 L579.2,699.7 L579.3,700.6 L579.4,701.4 L579.5,702.3 L579.6,703.1 L579.7,703.9 L579.9,704.7 L580,705.6 L580.1,706.4 L580.3,707.2 L580.4,708 L580.5,708.8 L580.7,709.5 L580.8,710.3 L580.9,711.1 L581.1,711.9 L581.2,712.6 L581.3,713.4 L581.5,714.1 L581.6,714.9 L581.8,715.6 L581.9,716.4 L582,717.1 L582.2,717.8 L582.3,718.6 L582.5,719.3 L582.6,720 L582.8,720.9 L582.9,721.8 L583.1,722.6 L583.3,723.4 L583.4,724.3 L583.6,725.1 L583.8,725.9 L584,726.7 L584.1,727.5 L584.3,728.2 L584.5,729 L584.7,729.8 L584.9,730.6 L585,731.3 L585.2,732.1 L585.4,732.9 L585.6,733.7 L585.8,734.5 L586.1,735.3 L586.3,736.2 L586.5,737 L586.7,737.7 L586.9,738.5 L587.1,739.3 L587.3,740 L587.6,740.8 L587.8,741.6 L588,742.4 L588.2,743.2 L588.5,744 L588.7,744.8 L589,745.6 L589.2,746.4 L589.5,747.2 L589.7,748 L590,748.9 L590.2,749.7 L590.5,750.5 L590.7,751.2 L591,752 L591.2,752.8 L591.5,753.6 L591.8,754.3 L592,755.1 L592.3,755.8 L592.6,756.6 L592.8,757.3 L593.1,758 L593.4,758.8 L593.7,759.7 L594.1,760.5 L594.4,761.3 L594.7,762.1 L595,762.9 L595.4,763.7 L595.7,764.5 L596,765.3 L596.4,766 L596.7,766.8 L597.1,767.5 L597.4,768.2 L597.8,769 L598.1,769.7 L598.5,770.4 L598.9,771.1 L599.2,771.7 L599.6,772.4 L600,773.1 L600.5,773.9 L600.9,774.6 L601.4,775.2 L601.9,775.9 L602.3,776.6 L602.8,777.2 L603.3,777.8 L603.8,778.5 L604.3,779.1 L604.7,779.7 L605.2,780.3 L605.7,780.9 L606.2,781.5 L606.7,782.1 L607.3,782.8 L607.8,783.4 L608.3,784.1 L608.8,784.7 L609.4,785.3 L609.9,785.9 L610.5,786.5 L611,787.1 L611.6,787.6 L612.1,788.2 L612.7,788.7 L613.3,789.2 L613.9,789.7 L614.5,790.2 L615.2,790.7 L615.8,791.1 L616.4,791.6 L617.1,792 L617.8,792.4 L618.5,792.9 L619.3,793.3 L619.9,793.7 L620.6,794 L621.3,794.4 L622,794.8 L622.8,795.1 L623.5,795.5 L624.3,795.9 L625.1,796.2 L625.9,796.6 L626.7,797 L627.6,797.3 L628.4,797.7 L629.2,798 L630,798.3 L630.8,798.6 L631.6,798.9 L632.4,799.2 L633.2,799.5 L634,799.7 L634.8,800 L635.6,800.2 L636.4,800.5 L637.2,800.7 L638.1,800.9 L638.9,801.1 L639.7,801.3 L640.5,801.5 L641.3,801.7 L642.1,801.8 L642.9,802 L643.8,802.2 L644.6,802.3 L645.4,802.5 L646.2,802.7 L647,802.8 L647.8,802.9 L648.7,803.1 L649.5,803.2 L653.6,803.6 L657.7,804.3 L661.8,804.8 L665.9,805.2 L670,805.6 L674,805.9 L678.1,806.2 L682.2,806.2 L686.2,806.4 L689.8,806.7 L693.6,807.3 L698,806.9 L701.6,807.3 L705.2,807.5 L709,807.8 L713.1,807.8 L716.7,808.3 L720.5,808.5 L724.4,808.3 L728.5,808.1 L732.8,808.8 L736.3,808.8 L739.9,808.6 L743.6,808.9 L747.3,809.1 L751.2,809.2 L755,808.7 L759,808.8 L763.1,809.3 L767.3,808.9 L771,808.9 L775,808.8 L779.1,809.4 L783.5,809 L787.2,809 L790.9,809.4 L794.7,808.9 L798.7,809.5 L802.7,809 L806.7,809.7 L810.9,809 L815.1,809.1 L819.3,809.3 L823.6,809.6 L827.9,809.4 L832.2,809.6 L836.5,809.2 L840.9,809.7 L845.2,809.2 L849.5,809.3 L853.8,809.7 L858,809.3 L862.2,809.1 L866.4,809.6 L870.5,809.1 L874.5,809.4 L878.4,809.3 L882.3,809.4 L886,809.1 L889.7,809.8 L893.2,809.7 L897.4,809.5 L901.4,809.3 L905.2,809.3 L908.8,809.2 L912.7,809.3 L916.7,809.4 L920.6,809.6 L924.2,809.1 L926.9,809.4" fill="none" stroke="#984ea3" stroke-width="4.2" stroke-linejoin="round" stroke-linecap="butt"/>
<path d="M574.3,556 L574.3,556 L574.3,556.1 L574.3,556.2 L574.3,556.4 L574.3,556.6 L574.3,556.9 L574.3,557.2 L574.3,557.5 L574.4,557.9 L574.4,558.3 L574.4,558.8 L574.4,559.3 L574.4,559.9 L574.4,560.4 L574.4,561.1 L574.5,561.7 L574.5,562.4 L574.5,563.1 L574.5,563.8 L574.5,564.6 L574.6,565.4 L574.6,566.2 L574.6,567 L574.6,567.9 L574.7,568.8 L574.7,569.7 L574.7,570.6 L574.7,571.5 L574.8,572.5 L574.8,573.5 L574.8,574.5 L574.9,575.5 L574.9,576.5 L574.9,577.5 L574.9,578.5 L575,579.6 L575,580.6 L575,581.7 L575.1,582.7 L575.1,583.8 L575.1,584.9 L575.2,585.9 L575.2,587 L575.2,588.1 L575.3,589.1 L575.3,590.2 L575.3,591.2 L575.3,592.3 L575.4,593.3 L575.4,594.4 L575.4,595.4 L575.5,596.4 L575.5,597.4 L575.5,598.4 L575.6,599.3 L575.6,600.3 L575.6,601.2 L575.6,602.2 L575.7,603 L575.7,603.9 L575.7,604.8 L575.7,605.6 L575.8,606.4 L575.8,607.2 L575.8,608 L575.9,608.9 L575.9,609.7 L575.9,610.5 L575.9,611.4 L576,612.2 L576,613 L576,613.8 L576,614.7 L576.1,615.5 L576.1,616.3 L576.1,617.1 L576.2,617.9 L576.2,618.8 L576.2,619.6 L576.2,620.4 L576.3,621.2 L576.3,622 L576.3,622.8 L576.4,623.6 L576.4,624.4 L576.4,625.2 L576.4,626 L576.5,626.8 L576.5,627.6 L576.5,628.4 L576.6,629.2 L576.6,630 L576.6,630.8 L576.6,631.6 L576.7,632.4 L576.7,633.2 L576.7,634 L576.8,634.8 L576.8,635.6 L576.8,636.4 L576.8,637.2 L576.9,638 L576.9,638.8 L576.9,639.6 L577,640.4 L577,641.2 L577,642 L577,642.8 L577.1,643.6 L577.1,644.4 L577.1,645.2 L577.1,646 L577.2,646.8 L577.2,647.6 L577.2,648.4 L577.2,649.2 L577.3,650 L577.3,650.8 L577.3,651.6 L577.3,652.4 L577.4,653.2 L577.4,654.1 L577.4,654.9 L577.4,655.7 L577.4,656.5 L577.5,657.4 L577.5,658.2 L577.5,659 L577.5,659.9 L577.5,660.7 L577.5,661.6 L577.5,662.4 L577.6,663.2 L577.6,664.1 L577.6,664.9 L577.6,665.8 L577.6,666.6 L577.6,667.5 L577.6,668.3 L577.6,669.1 L577.6,670 L577.7,670.8 L577.7,671.7 L577.7,672.5 L577.7,673.3 L577.7,674.2 L577.7,675 L577.7,675.8 L577.7,676.7 L577.8,677.5 L577.8,678.3 L577.8,679.1 L577.8,679.9 L577.8,680.7 L577.9,681.5 L577.9,682.3 L577.9,683.1 L578,683.9 L578,684.7 L578,685.5 L578.1,686.3 L578.1,687 L578.1,687.8 L578.2,688.6 L578.2,689.3 L578.3,690.1 L578.3,690.8 L578.4,691.5 L578.4,692.3 L578.5,693 L578.5,693.7 L578.6,694.4 L578.7,695.3 L578.8,696.2 L578.9,697.1 L579,698 L579.1,698.8 L579.2,699.7 L579.3,700.6 L579.4,701.4 L579.5,702.3 L579.6,703.1 L579.7,703.9 L579.9,704.7 L580,705.6 L580.1,706.4 L580.3,707.2 L580.4,708 L580.5,708.8 L580.7,709.5 L580.8,710.3 L580.9,711.1 L581.1,711.9 L581.2,712.6 L581.3,713.4 L581.5,714.1 L581.6,714.9 L581.8,715.6 L581.9,716.4 L582,717.1 L582.2,717.8 L582.3,718.6 L582.5,719.3 L582.6,720 L582.8,720.9 L582.9,721.8 L583.1,722.6 L583.3,723.4 L583.4,724.3 L583.6,725.1 L583.8,725.9 L584,726.7 L584.1,727.5 L584.3,728.2 L584.5,729 L584.7,729.8 L584.9,730.6 L585,731.3 L585.2,732.1 L585.4,732.9 L585.6,733.7 L585.8,734.5 L586.1,735.3 L586.3,736.2 L586.5,737 L586.7,737.7 L586.9,738.5 L587.1,739.3 L587.3,740 L587.6,740.8 L587.8,741.6 L588,742.4 L588.2,743.2 L588.5,744 L588.7,744.8 L589,745.6 L589.2,746.4 L589.5,747.2 L589.7,748 L590,748.9 L590.2,749.7 L590.5,750.5 L590.7,751.2 L591,752 L591.2,752.8 L591.5,753.6 L591.8,754.3 L592,755.1 L592.3,755.8 L592.6,756.6 L592.8,757.3 L593.1,758 L593.4,758.8 L593.7,759.7 L594.1,760.5 L594.4,761.3 L594.7,762.1 L595.1,762.8 L595.4,763.6 L595.7,764.4 L596.1,765.1 L596.4,765.9 L596.8,766.6 L597.1,767.4 L597.5,768.1 L597.8,768.8 L598.2,769.5 L598.5,770.3 L598.9,771 L599.2,771.7 L599.6,772.4 L600,773.2 L600.4,773.9 L600.8,774.7 L601.2,775.5 L601.6,776.2 L602,777 L602.4,777.7 L602.8,778.5 L603.2,779.2 L603.7,779.9 L604.1,780.6 L604.5,781.3 L604.9,782 L605.3,782.7 L605.8,783.4 L606.2,784.1 L606.6,784.8 L607.1,785.5 L607.5,786.2 L608,786.9 L608.5,787.6 L608.9,788.3 L609.4,788.9 L609.8,789.6 L610.3,790.2 L610.8,790.9 L611.2,791.5 L611.7,792.1 L612.2,792.7 L612.7,793.3 L613.3,794 L613.8,794.6 L614.4,795.2 L614.9,795.8 L615.5,796.4 L616,797 L616.6,797.5 L617.3,798.1 L617.9,798.7 L618.6,799.2 L619.3,799.8 L619.9,800.2 L620.5,800.7 L621.1,801.1 L621.7,801.5 L622.4,802 L623,802.4 L623.7,802.9 L624.4,803.3 L625.1,803.7 L625.9,804.2 L626.6,804.6 L627.3,805 L628,805.4 L628.8,805.8 L629.5,806.2 L630.2,806.6 L631,807 L631.7,807.3 L632.4,807.7 L633.2,808.1 L633.9,808.4 L634.7,808.8 L635.4,809.1 L636.2,809.4 L636.9,809.8 L637.7,810.1 L638.5,810.4 L639.2,810.7 L640,811 L640.8,811.2 L641.5,811.5 L642.3,811.8 L643.1,812.1 L643.9,812.4 L644.6,812.6 L645.4,812.9 L646.2,813.2 L646.9,813.4 L647.7,813.7 L648.5,813.9 L649.2,814.2 L650,814.5 L653.9,815.6 L657.7,816.7 L661.8,817.4 L665.9,818.6 L670,819.3 L674,820 L678.1,820.5 L682.2,821.2 L686.2,821.8 L689.8,822.2 L693.6,822.5 L698,823.4 L701.7,823.5 L705.3,823.7 L709.3,824.2 L712.9,824.7 L716.8,825.3 L720.7,825.3 L724.9,825.9 L729.1,826 L733.5,826.3 L737,827.1 L740.6,827.2 L744.1,827.4 L747.7,827.9 L751.3,827.8 L754.8,828.6 L759.1,828.6 L763,829.3 L766.8,829.2 L770.6,829.7 L774.4,829.9 L778.3,830.4 L782.3,830.4 L786.2,830.7 L790.2,831.2 L794.2,831.4 L798.3,832.2 L802.3,832.1 L806.4,832.5 L810.5,833 L814.6,833 L818.7,833.9 L822.8,833.8 L826.9,834.3 L831,834.4 L835.1,834.7 L839.2,835.2 L843.3,835.6 L847.7,835.9 L851.4,836.3 L855.3,836.6 L859.3,836.5 L863.4,836.6 L867.7,836.9 L871.9,837.7 L876.2,838 L880.5,838.1 L884.8,838 L889,838.5 L893.1,839 L897.1,838.9 L901,839.2 L904.7,839.6 L908.2,840 L912.3,840.3 L916,840.3 L919.8,840.6 L923.3,840.9 L926.8,841.1 L926.9,841.1" fill="none" stroke="#ff7f00" stroke-width="4.2" stroke-linejoin="round" stroke-linecap="butt"/>
</g>
<rect x="557.5" y="512.5" width="385.2" height="346.9" fill="none" stroke="#000" stroke-width="1.5"/>
<line x1="574.3" y1="859.4" x2="574.3" y2="866.4" stroke="#000" stroke-width="1.5"/>
<text x="574.3" y="888.7" font-family='"Liberation Serif", serif' font-size="21.9" text-anchor="middle">0</text>
<line x1="680.2" y1="859.4" x2="680.2" y2="866.4" stroke="#000" stroke-width="1.5"/>
<text x="680.2" y="888.7" font-family='"Liberation Serif", serif' font-size="21.9" text-anchor="middle">1500</text>
<line x1="786.1" y1="859.4" x2="786.1" y2="866.4" stroke="#000" stroke-width="1.5"/>
<text x="786.1" y="888.7" font-family='"Liberation Serif", serif' font-size="21.9" text-anchor="middle">3000</text>
<line x1="892" y1="859.4" x2="892" y2="866.4" stroke="#000" stroke-width="1.5"/>
<text x="892" y="888.7" font-family='"Liberation Serif", serif' font-size="21.9" text-anchor="middle">4500</text>
<line x1="550" y1="573.3" x2="557.5" y2="573.3" stroke="#000" stroke-width="1.5"/>
<text x="542.9" y="580.8" font-family='"Liberation Serif", serif' font-size="21.9" text-anchor="end">0.45</text>
<line x1="550" y1="664" x2="557.5" y2="664" stroke="#000" stroke-width="1.5"/>
<text x="542.9" y="671.5" font-family='"Liberation Serif", serif' font-size="21.9" text-anchor="end">0.40</text>
<line x1="550" y1="754.8" x2="557.5" y2="754.8" stroke="#000" stroke-width="1.5"/>
<text x="542.9" y="762.3" font-family='"Liberation Serif", serif' font-size="21.9" text-anchor="end">0.35</text>
<line x1="550" y1="845.5" x2="557.5" y2="845.5" stroke="#000" stroke-width="1.5"/>
<text x="542.9" y="853" font-family='"Liberation Serif", serif' font-size="21.9" text-anchor="end">0.30</text>
<text x="750.1" y="915" font-family='"Liberation Sans", sans-serif' font-size="20" text-anchor="middle" textLength="82" lengthAdjust="spacingAndGlyphs">Iterations</text>
<text x="565.4" y="499.6" font-family='"Liberation Sans", sans-serif' font-size="23.5" textLength="84.5" lengthAdjust="spacingAndGlyphs">Teacher:</text>
<text x="663.2" y="499.6" font-family='"Liberation Sans", sans-serif' font-size="23.5" textLength="271.6" lengthAdjust="spacingAndGlyphs">Tanh (Unknown Direction)</text>
<clipPath id="c5"><rect x="1035.4" y="512.5" width="385.29999999999995" height="346.9"/></clipPath>
<g clip-path="url(#c5)">
<path d="M1053.5,529.6 L1053.5,529.6 L1053.5,529.7 L1053.5,529.8 L1053.5,529.9 L1053.5,530 L1053.5,530.2 L1053.5,530.4 L1053.5,530.7 L1053.5,531 L1053.5,531.3 L1053.6,531.6 L1053.6,532 L1053.6,532.4 L1053.6,532.8 L1053.6,533.2 L1053.6,533.7 L1053.6,534.2 L1053.6,534.8 L1053.7,535.3 L1053.7,535.9 L1053.7,536.5 L1053.7,537.2 L1053.7,537.8 L1053.8,538.5 L1053.8,539.2 L1053.8,539.9 L1053.8,540.7 L1053.8,541.4 L1053.9,542.2 L1053.9,543 L1053.9,543.9 L1053.9,544.7 L1054,545.6 L1054,546.5 L1054,547.4 L1054,548.3 L1054.1,549.3 L1054.1,550.2 L1054.1,551.2 L1054.2,552.2 L1054.2,553.2 L1054.2,554.2 L1054.2,555.2 L1054.3,556.3 L1054.3,557.3 L1054.3,558.4 L1054.4,559.5 L1054.4,560.6 L1054.4,561.7 L1054.5,562.8 L1054.5,563.9 L1054.5,565 L1054.6,566.2 L1054.6,567.3 L1054.6,568.5 L1054.7,569.6 L1054.7,570.8 L1054.7,572 L1054.8,573.2 L1054.8,574.4 L1054.8,575.6 L1054.9,576.8 L1054.9,578 L1054.9,579.2 L1055,580.4 L1055,581.6 L1055.1,582.8 L1055.1,584 L1055.1,585.2 L1055.2,586.4 L1055.2,587.6 L1055.2,588.9 L1055.3,590.1 L1055.3,591.3 L1055.3,592.5 L1055.4,593.7 L1055.4,594.9 L1055.4,596.1 L1055.5,597.3 L1055.5,598.5 L1055.6,599.7 L1055.6,600.8 L1055.6,602 L1055.7,603.2 L1055.7,604.3 L1055.7,605.5 L1055.8,606.6 L1055.8,607.8 L1055.8,608.9 L1055.9,610 L1055.9,611.1 L1055.9,612.2 L1056,613.3 L1056,614.4 L1056,615.4 L1056.1,616.5 L1056.1,617.5 L1056.1,618.5 L1056.2,619.5 L1056.2,620.5 L1056.2,621.5 L1056.3,622.5 L1056.3,623.4 L1056.3,624.3 L1056.3,625.2 L1056.4,626.1 L1056.4,627 L1056.4,627.9 L1056.4,628.7 L1056.5,629.5 L1056.5,630.3 L1056.5,631.4 L1056.6,632.4 L1056.6,633.4 L1056.6,634.5 L1056.7,635.5 L1056.7,636.6 L1056.7,637.6 L1056.8,638.7 L1056.8,639.7 L1056.8,640.7 L1056.9,641.8 L1056.9,642.8 L1056.9,643.8 L1056.9,644.8 L1057,645.8 L1057,646.9 L1057,647.9 L1057.1,648.9 L1057.1,649.9 L1057.1,650.9 L1057.2,651.9 L1057.2,652.9 L1057.2,653.9 L1057.3,654.8 L1057.3,655.8 L1057.3,656.8 L1057.3,657.8 L1057.4,658.7 L1057.4,659.7 L1057.4,660.6 L1057.5,661.6 L1057.5,662.5 L1057.5,663.5 L1057.6,664.4 L1057.6,665.3 L1057.6,666.3 L1057.6,667.2 L1057.7,668.1 L1057.7,669 L1057.7,669.9 L1057.8,670.8 L1057.8,671.7 L1057.8,672.6 L1057.9,673.4 L1057.9,674.3 L1057.9,675.2 L1058,676 L1058,676.9 L1058,677.6 L1058.1,678.3 L1058.1,679 L1058.1,679.7 L1058.2,680.4 L1058.2,681 L1058.2,681.7 L1058.3,682.4 L1058.3,683 L1058.3,683.6 L1058.4,684.3 L1058.4,684.9 L1058.5,685.5 L1058.5,686.1 L1058.6,687.1 L1058.6,688.1 L1058.7,689 L1058.7,689.9 L1058.8,690.8 L1058.8,691.7 L1058.8,692.6 L1058.9,693.4 L1058.9,694.2 L1059,695 L1059,695.8 L1059.1,696.5 L1059.1,697.3 L1059.2,698 L1059.3,698.7 L1059.4,699.4 L1059.5,700.2 L1059.7,700.9 L1059.8,701.6 L1060,702.2 L1060.2,703.2 L1060.5,704.1 L1060.7,705 L1061,705.8 L1061.3,706.7 L1061.6,707.5 L1062,708.4 L1062.3,709.1 L1062.7,709.9 L1063.2,710.5 L1063.7,711.2 L1064.2,711.8 L1064.8,712.3 L1065.5,712.8 L1066.2,713.2 L1066.9,713.6 L1067.7,713.9 L1068.5,714.2 L1069.3,714.5 L1070.2,714.7 L1071.1,714.9 L1072,715 L1072.9,715.2 L1073.6,715.3 L1074.2,715.4 L1074.9,715.5 L1075.6,715.6 L1076.3,715.6 L1077,715.7 L1077.7,715.7 L1078.5,715.8 L1079.2,715.8 L1080,715.8 L1080.7,715.9 L1081.5,715.9 L1082.4,715.9 L1083.2,715.9 L1084.1,715.9 L1085,715.9 L1085.9,715.9 L1086.9,715.9 L1087.9,716 L1088.9,716 L1090,716 L1090.5,716 L1091.1,716 L1091.6,716 L1092.2,716 L1092.7,716.1 L1093.3,716.1 L1093.9,716.1 L1094.5,716.1 L1095.1,716.1 L1095.7,716.1 L1096.3,716.1 L1096.9,716.1 L1097.5,716.1 L1098.1,716.1 L1098.7,716.1 L1099.4,716.1 L1100,716.1 L1100.7,716.2 L1101.3,716.2 L1102,716.2 L1102.7,716.2 L1103.3,716.2 L1104,716.2 L1104.7,716.2 L1105.4,716.2 L1106.1,716.2 L1106.8,716.2 L1107.5,716.2 L1108.2,716.2 L1109,716.2 L1109.7,716.2 L1113.5,716.2 L1117.4,716.1 L1121.4,716.3 L1125.6,716 L1130,716.7 L1133.6,715.6 L1137.2,716 L1141,716.5 L1144.8,716.3 L1148.8,716.7 L1152.8,715.8 L1156.9,715.9 L1160.6,715.8 L1164.1,715.5 L1167.9,715.4 L1172,716.1 L1175.7,715.8 L1179.4,716.3 L1183.4,716.9 L1187.5,716.9 L1191.7,716.6 L1196.1,715.9 L1199.7,716 L1203.4,716.8 L1207.1,715.7 L1211,716.7 L1214.8,715.8 L1218.8,716.1 L1222.8,716.3 L1226.8,716.9 L1230.9,716.6 L1235.1,716.7 L1239.3,716 L1243.5,716 L1247.7,716.8 L1252,716.4 L1256.3,716.6 L1260.6,715.6 L1265,715.5 L1269.3,716.1 L1273.6,715.9 L1278,715.9 L1282.3,716.8 L1286.7,716.9 L1291,715.8 L1295.3,715.6 L1299.6,715.8 L1303.8,715.8 L1308.1,716.6 L1312.3,716.1 L1316.4,717.1 L1320.5,715.5 L1324.6,716.4 L1328.6,715.7 L1332.6,716.9 L1336.5,716.1 L1340.3,715.9 L1344.1,716.5 L1347.8,716.9 L1351.5,715.6 L1355,715.9 L1359.3,717 L1363.5,716.2 L1367.5,715.7 L1371.4,717 L1375.1,717.1 L1378.6,716.3 L1382.6,715.9 L1386.3,715.6 L1390.3,716.8 L1393.8,716.8 L1397.3,716.8 L1400.8,716.7 L1404.4,716.2 L1405,716.4 L1405,721.4 L1404.4,721.2 L1400.8,721.7 L1397.3,721.8 L1393.8,721.8 L1390.3,721.8 L1386.3,720.6 L1382.6,720.9 L1378.6,721.3 L1375.1,722.1 L1371.4,722 L1367.5,720.7 L1363.5,721.2 L1359.3,722 L1355,720.9 L1351.5,720.6 L1347.8,721.9 L1344.1,721.5 L1340.3,720.9 L1336.5,721.1 L1332.6,721.9 L1328.6,720.7 L1324.6,721.4 L1320.5,720.5 L1316.4,722.1 L1312.3,721.1 L1308.1,721.6 L1303.8,720.8 L1299.6,720.8 L1295.3,720.6 L1291,720.8 L1286.7,721.9 L1282.3,721.8 L1278,720.9 L1273.6,720.9 L1269.3,721.1 L1265,720.5 L1260.6,720.6 L1256.3,721.6 L1252,721.4 L1247.7,721.8 L1243.5,721 L1239.3,721 L1235.1,721.7 L1230.9,721.6 L1226.8,721.9 L1222.8,721.3 L1218.8,721.1 L1214.8,720.8 L1211,721.7 L1207.1,720.7 L1203.4,721.8 L1199.7,721 L1196.1,720.9 L1191.7,721.6 L1187.5,721.9 L1183.4,721.9 L1179.4,721.3 L1175.7,720.8 L1172,721.1 L1167.9,720.4 L1164.1,720.5 L1160.6,720.8 L1156.9,720.9 L1152.8,720.8 L1148.8,721.7 L1144.8,721.3 L1141,721.5 L1137.2,721 L1133.6,720.6 L1130,721.7 L1125.6,721 L1121.4,721.3 L1117.4,721.1 L1113.5,721.2 L1109.7,721.2 L1109,721.2 L1108.2,721.2 L1107.5,721.2 L1106.8,721.2 L1106.1,721.2 L1105.4,721.2 L1104.7,721.2 L1104,721.2 L1103.3,721.2 L1102.7,721.2 L1102,721.2 L1101.3,721.2 L1100.7,721.2 L1100,721.1 L1099.4,721.1 L1098.7,721.1 L1098.1,721.1 L1097.5,721.1 L1096.9,721.1 L1096.3,721.1 L1095.7,721.1 L1095.1,721.1 L1094.5,721.1 L1093.9,721.1 L1093.3,721.1 L1092.7,721.1 L1092.2,721 L1091.6,721 L1091.1,721 L1090.5,721 L1090,721 L1088.9,721 L1087.9,721 L1086.9,720.9 L1085.9,720.9 L1085,720.9 L1084.1,720.9 L1083.2,720.9 L1082.4,720.9 L1081.5,720.9 L1080.7,720.9 L1080,720.8 L1079.2,720.8 L1078.5,720.8 L1077.7,720.7 L1077,720.7 L1076.3,720.6 L1075.6,720.6 L1074.9,720.5 L1074.2,720.4 L1073.6,720.3 L1072.9,720.2 L1072,720 L1071.1,719.9 L1070.2,719.7 L1069.3,719.7 L1068.5,719.6 L1067.7,719.5 L1066.9,719.4 L1066.2,719.2 L1065.5,718.9 L1064.8,718.6 L1064.2,718.2 L1063.7,717.8 L1063.2,717.3 L1062.7,716.7 L1062.3,716 L1062,715.4 L1061.6,714.6 L1061.3,713.9 L1061,713.1 L1060.7,712.3 L1060.5,711.4 L1060.2,710.6 L1060,709.8 L1059.8,709.1 L1059.7,708.4 L1059.5,707.8 L1059.4,707.1 L1059.3,706.4 L1059.2,705.7 L1059.1,705 L1059.1,704.3 L1059,703.5 L1059,702.8 L1058.9,702 L1058.9,701.2 L1058.8,700.4 L1058.8,699.5 L1058.8,698.7 L1058.7,697.8 L1058.7,696.8 L1058.6,695.9 L1058.6,694.9 L1058.5,693.9 L1058.5,693.4 L1058.4,692.8 L1058.4,692.2 L1058.3,691.5 L1058.3,690.9 L1058.3,690.3 L1058.2,689.6 L1058.2,689 L1058.2,688.3 L1058.1,687.7 L1058.1,687 L1058.1,686.3 L1058,685.6 L1058,684.9 L1058,684.2 L1057.9,683.5 L1057.9,682.8 L1057.9,682.1 L1057.8,681.3 L1057.8,680.6 L1057.8,679.9 L1057.7,679.1 L1057.7,678.3 L1057.7,677.6 L1057.6,676.8 L1057.6,676 L1057.6,675.3 L1057.6,674.5 L1057.5,673.7 L1057.5,672.9 L1057.5,672.1 L1057.4,671.3 L1057.4,670.4 L1057.4,669.6 L1057.3,668.8 L1057.3,668 L1057.3,667.1 L1057.3,666.3 L1057.2,665.4 L1057.2,664.6 L1057.2,663.7 L1057.1,662.9 L1057.1,662 L1057.1,661.1 L1057,660.3 L1057,659.4 L1057,658.5 L1056.9,657.7 L1056.9,656.8 L1056.9,655.9 L1056.9,655 L1056.8,654.1 L1056.8,653.2 L1056.8,652.3 L1056.7,651.5 L1056.7,650.6 L1056.7,649.7 L1056.6,648.8 L1056.6,647.9 L1056.6,647 L1056.5,646.1 L1056.5,645.2 L1056.5,644.5 L1056.4,643.8 L1056.4,643.1 L1056.4,642.4 L1056.4,641.6 L1056.3,640.9 L1056.3,640.1 L1056.3,639.3 L1056.3,638.5 L1056.2,637.7 L1056.2,636.8 L1056.2,636 L1056.1,635.1 L1056.1,634.3 L1056.1,633.4 L1056,632.5 L1056,631.6 L1056,630.6 L1055.9,629.7 L1055.9,628.8 L1055.9,627.8 L1055.8,626.9 L1055.8,625.9 L1055.8,624.9 L1055.7,623.9 L1055.7,622.9 L1055.7,621.9 L1055.6,620.9 L1055.6,619.9 L1055.6,618.9 L1055.5,617.9 L1055.5,616.9 L1055.4,615.8 L1055.4,614.8 L1055.4,613.8 L1055.3,612.7 L1055.3,611.7 L1055.3,610.6 L1055.2,609.6 L1055.2,608.5 L1055.2,607.5 L1055.1,606.4 L1055.1,605.4 L1055.1,604.3 L1055,603.3 L1055,602.3 L1054.9,601.2 L1054.9,600.2 L1054.9,599.1 L1054.8,598.1 L1054.8,597.1 L1054.8,596 L1054.7,595 L1054.7,594 L1054.7,593 L1054.6,592 L1054.6,591 L1054.6,590 L1054.5,589 L1054.5,588 L1054.5,587 L1054.4,586.1 L1054.4,585.1 L1054.4,584.2 L1054.3,583.2 L1054.3,582.3 L1054.3,581.4 L1054.2,580.5 L1054.2,579.6 L1054.2,578.7 L1054.2,577.9 L1054.1,577 L1054.1,576.2 L1054.1,575.3 L1054,574.5 L1054,573.7 L1054,572.9 L1054,572.2 L1053.9,571.4 L1053.9,570.7 L1053.9,570 L1053.9,569.3 L1053.8,568.6 L1053.8,567.9 L1053.8,567.3 L1053.8,566.6 L1053.8,566 L1053.7,565.4 L1053.7,564.9 L1053.7,564.3 L1053.7,563.8 L1053.7,563.3 L1053.6,562.8 L1053.6,562.3 L1053.6,561.9 L1053.6,561.5 L1053.6,561.1 L1053.6,560.7 L1053.6,560.4 L1053.6,560 L1053.5,559.7 L1053.5,559.5 L1053.5,559.2 L1053.5,559 L1053.5,558.8 L1053.5,558.7 L1053.5,558.5 L1053.5,558.4 L1053.5,558.4 L1053.5,558.3 L1053.5,558.3Z" fill="#e41a1c" fill-opacity="0.3" stroke="#e41a1c" stroke-opacity="0.3" stroke-width="1.4" stroke-linejoin="round"/>
<path d="M1053.5,560 L1053.5,560 L1053.5,560 L1053.5,560.1 L1053.5,560.2 L1053.5,560.4 L1053.5,560.6 L1053.5,560.8 L1053.5,561 L1053.5,561.3 L1053.5,561.5 L1053.5,561.9 L1053.5,562.2 L1053.5,562.6 L1053.5,562.9 L1053.5,563.4 L1053.6,563.8 L1053.6,564.3 L1053.6,564.8 L1053.6,565.3 L1053.6,565.8 L1053.6,566.4 L1053.6,566.9 L1053.6,567.6 L1053.6,568.2 L1053.6,568.8 L1053.6,569.5 L1053.6,570.1 L1053.7,570.9 L1053.7,571.6 L1053.7,572.3 L1053.7,573 L1053.7,573.8 L1053.7,574.6 L1053.7,575.4 L1053.7,576.2 L1053.7,577.1 L1053.8,577.9 L1053.8,578.7 L1053.8,579.6 L1053.8,580.5 L1053.8,581.4 L1053.8,582.3 L1053.8,583.2 L1053.8,584.1 L1053.9,585 L1053.9,586 L1053.9,586.9 L1053.9,587.9 L1053.9,588.8 L1053.9,589.8 L1053.9,590.8 L1054,591.8 L1054,592.8 L1054,593.8 L1054,594.7 L1054,595.8 L1054,596.8 L1054,597.8 L1054.1,598.8 L1054.1,599.8 L1054.1,600.8 L1054.1,601.8 L1054.1,602.8 L1054.1,603.9 L1054.1,604.9 L1054.2,605.9 L1054.2,606.9 L1054.2,607.9 L1054.2,608.9 L1054.2,609.9 L1054.2,610.9 L1054.2,611.9 L1054.3,612.9 L1054.3,613.9 L1054.3,614.8 L1054.3,615.8 L1054.3,616.7 L1054.3,617.7 L1054.3,618.7 L1054.4,619.6 L1054.4,620.5 L1054.4,621.4 L1054.4,622.4 L1054.4,623.3 L1054.4,624.1 L1054.4,625 L1054.4,625.9 L1054.5,626.7 L1054.5,627.5 L1054.5,628.4 L1054.5,629.2 L1054.5,629.9 L1054.5,630.8 L1054.5,631.5 L1054.5,632.3 L1054.5,633 L1054.6,633.6 L1054.6,634.2 L1054.6,634.9 L1054.6,635.4 L1054.6,636 L1054.6,636.5 L1054.6,637 L1054.6,637.4 L1054.6,637.8 L1054.6,638.3 L1054.6,638.7 L1054.6,639 L1054.6,639.4 L1054.6,639.7 L1054.6,640 L1054.6,640.4 L1054.7,640.6 L1054.7,641 L1054.7,641.3 L1054.7,641.5 L1054.7,641.9 L1054.7,642.1 L1054.7,642.4 L1054.7,642.6 L1054.7,642.9 L1054.7,643.2 L1054.7,643.5 L1054.7,643.8 L1054.7,644.1 L1054.7,644.4 L1054.7,644.7 L1054.7,645.1 L1054.7,645.4 L1054.7,645.8 L1054.7,646.1 L1054.7,646.5 L1054.7,646.9 L1054.7,647.4 L1054.8,647.8 L1054.8,648.3 L1054.8,648.8 L1054.8,649.4 L1054.8,649.9 L1054.8,650.5 L1054.8,651.2 L1054.8,651.8 L1054.8,652.5 L1054.8,653.2 L1054.8,654 L1054.9,654.8 L1054.9,655.7 L1054.9,656.6 L1054.9,657.5 L1054.9,658.5 L1054.9,659.5 L1054.9,660.6 L1055,661.8 L1055,662.9 L1055,664.2 L1055,665.5 L1055,666.8 L1055,668.2 L1055.1,669.7 L1055.1,671.2 L1055.1,672.8 L1055.1,674.4 L1055.2,676.2 L1055.2,678 L1055.2,679.8 L1055.2,681.7 L1055.3,683.8 L1055.3,685.8 L1055.3,688 L1055.4,690.2 L1055.4,692.6 L1055.4,695 L1055.5,697.4 L1055.5,700 L1055.6,700.6 L1055.7,701.2 L1055.8,701.8 L1055.9,702.6 L1056,703.3 L1056.1,704 L1056.3,704.8 L1056.4,705.7 L1056.5,706.5 L1056.7,707.5 L1056.8,708.4 L1057,709.5 L1057.2,711.1 L1057.5,712.7 L1057.8,714.5 L1058,716 L1058.4,716.3 L1058.7,716.8 L1059,717.1 L1059.3,717.4 L1059.5,717.8 L1059.7,718 L1060,718.4 L1060.2,718.8 L1060.5,718.8 L1060.8,719.5 L1061.2,719.9 L1061.6,720.3 L1062,721 L1062.5,720.9 L1063,720.6 L1063.6,720.8 L1064.3,720.6 L1065,720.6 L1065.7,720.6 L1066.5,721.1 L1067.3,720.9 L1068.1,720.8 L1068.9,720.7 L1069.7,720.6 L1070.4,720.7 L1071.2,720.6 L1072,720.6 L1072.7,720.6 L1073.5,721.1 L1074.2,720.5 L1075,720.5 L1075.7,721.1 L1076.5,721.3 L1077.3,721 L1078.1,720.4 L1079,721.2 L1079.9,720.6 L1080.6,720.5 L1081.3,720.7 L1082,721.5 L1082.7,720.6 L1083.5,720.3 L1084.2,720.4 L1085,720.9 L1085.8,720.6 L1086.6,720.6 L1087.4,721.2 L1088.3,721.3 L1089.1,721.4 L1089.9,721 L1090.8,721.6 L1091.6,720.7 L1092.5,720.6 L1093.3,721.2 L1094.1,721.8 L1095,720.3 L1095.8,720.2 L1096.6,720.7 L1097.4,720.5 L1098.2,721.3 L1099,720.8 L1099.7,720.1 L1100.5,720.4 L1101.3,720.3 L1102,721.9 L1102.8,720.6 L1103.5,720.2 L1104.3,720.8 L1105,720.3 L1105.8,720.8 L1106.6,721.8 L1107.3,720.1 L1108.1,720.5 L1108.9,721.7 L1109.7,720.8 L1113.9,721.1 L1117.8,721.2 L1121.8,722 L1126.1,721.4 L1129.6,722.1 L1133.1,721.7 L1137.4,721.3 L1141.4,721.1 L1145,720.2 L1149.2,720.3 L1152.8,722.2 L1156.8,720.3 L1160.5,721.2 L1164.2,720.4 L1167.7,720.2 L1171.7,720.3 L1175.2,720.3 L1178.9,721.8 L1182.8,720.4 L1186.8,721.6 L1191,722.3 L1195.3,721.4 L1198.8,722.1 L1202.4,721.8 L1206,720.4 L1209.6,721.5 L1213.3,721.5 L1216.9,721.4 L1220.6,722.1 L1224.3,722.5 L1227.9,721 L1231.5,721.1 L1235,721 L1238.6,720.5 L1242.8,722.8 L1247,722 L1250.9,721.1 L1254.9,722.3 L1258.9,721.8 L1263,720.5 L1267.1,722.9 L1271.2,722.6 L1275.3,722.9 L1279.5,721.2 L1283.6,722.3 L1287.8,721.8 L1291.9,722.2 L1296.1,720.7 L1300.2,721.6 L1304.3,721.5 L1308.4,721.3 L1312.5,721.3 L1316.5,721.1 L1320.5,722.3 L1324.4,723 L1328.3,720.7 L1332.1,721.6 L1335.8,722.4 L1339.5,723.2 L1343.3,722.5 L1347,721 L1351,721 L1355.1,722.2 L1359.3,721.1 L1363.5,722.6 L1367.8,723.2 L1372.1,722.6 L1376.3,722.3 L1380.4,722.7 L1384.3,722.4 L1388,722.3 L1392.3,720.7 L1396.1,720.7 L1399.9,721.3 L1403.5,721.1 L1405,722.9 L1405,771.6 L1403.5,771.7 L1399.9,771.8 L1396.1,770.7 L1392.3,772 L1388,770.3 L1384.3,771.4 L1380.4,772.6 L1376.3,770.2 L1372.1,772.6 L1367.8,772.8 L1363.5,771 L1359.3,772.4 L1355.1,772.8 L1351,773.1 L1347,771.8 L1343.3,773 L1339.5,771.5 L1335.8,772.1 L1332.1,774.4 L1328.3,773.9 L1324.4,774.4 L1320.5,772.8 L1316.5,773.3 L1312.5,773.9 L1308.4,773.6 L1304.3,773.7 L1300.2,774.3 L1296.1,775.6 L1291.9,774.3 L1287.8,774.2 L1283.6,775 L1279.5,775 L1275.3,775 L1271.2,775.1 L1267.1,775.6 L1263,776.8 L1258.9,776.9 L1254.9,775.5 L1250.9,776 L1247,776.3 L1242.8,776.9 L1238.6,776.7 L1235,775.3 L1231.5,777.4 L1227.9,776.1 L1224.3,776.8 L1220.6,776.8 L1216.9,776.1 L1213.3,778.1 L1209.6,777.3 L1206,778.2 L1202.4,778 L1198.8,777.2 L1195.3,777.4 L1191,777.9 L1186.8,778.2 L1182.8,779.3 L1178.9,778.5 L1175.2,778 L1171.7,778 L1167.7,778.2 L1164.2,779.5 L1160.5,779.8 L1156.8,780 L1152.8,780 L1149.2,780 L1145,778.7 L1141.4,779.2 L1137.4,778.9 L1133.1,778.6 L1129.6,776.5 L1126.1,776.1 L1121.8,776.7 L1117.8,776.8 L1113.9,774.2 L1109.7,772.7 L1108.9,773.1 L1108.1,773.7 L1107.3,772.1 L1106.6,771.5 L1105.8,770.9 L1105,770.6 L1104.3,771.6 L1103.5,771 L1102.8,771.4 L1102,770 L1101.3,770.7 L1100.5,769.9 L1099.7,768.5 L1099,769 L1098.2,769.4 L1097.4,768 L1096.6,767.3 L1095.8,767.6 L1095,767.4 L1094.1,765.7 L1093.3,764.7 L1092.5,764 L1091.6,764.3 L1090.8,763.1 L1089.9,762.3 L1089.1,762.8 L1088.3,761.7 L1087.4,760.8 L1086.6,761.2 L1085.8,760.6 L1085,760.1 L1084.2,759.5 L1083.5,758.8 L1082.7,757.9 L1082,757.6 L1081.3,756.5 L1080.6,756.4 L1079.9,756.3 L1079,754.4 L1078.1,753.1 L1077.3,752 L1076.5,751.4 L1075.7,750.6 L1075,748.9 L1074.2,747.9 L1073.5,747.6 L1072.7,746.1 L1072,745.3 L1071.2,744.3 L1070.4,743.2 L1069.7,742.2 L1068.9,741.1 L1068.1,740.1 L1067.3,739.1 L1066.5,738.1 L1065.7,737.3 L1065,736.2 L1064.3,735 L1063.6,734.4 L1063,733.5 L1062.5,732.8 L1062,732 L1061.6,731.4 L1061.2,731.1 L1060.8,730.5 L1060.5,730.2 L1060.2,729.6 L1060,729.5 L1059.7,729.1 L1059.5,728.8 L1059.3,728.4 L1059,728.1 L1058.7,726.6 L1058.4,725.3 L1058,723.9 L1057.8,722.4 L1057.5,721.2 L1057.2,720 L1057,718.9 L1056.8,718.2 L1056.7,717.5 L1056.5,716.8 L1056.4,716.1 L1056.3,715.6 L1056.1,714.9 L1056,714.5 L1055.9,714 L1055.8,713.5 L1055.7,712.9 L1055.6,712.5 L1055.5,712 L1055.5,709.5 L1055.4,707 L1055.4,704.6 L1055.4,702.3 L1055.3,700.2 L1055.3,698 L1055.3,695.9 L1055.2,693.9 L1055.2,691.9 L1055.2,690.1 L1055.2,688.3 L1055.1,686.6 L1055.1,684.9 L1055.1,683.3 L1055.1,681.8 L1055,680.3 L1055,678.9 L1055,677.6 L1055,676.3 L1055,675 L1055,673.9 L1054.9,672.7 L1054.9,671.6 L1054.9,670.6 L1054.9,669.6 L1054.9,668.6 L1054.9,667.7 L1054.9,666.9 L1054.8,666.1 L1054.8,665.3 L1054.8,664.6 L1054.8,663.9 L1054.8,663.2 L1054.8,662.6 L1054.8,662 L1054.8,661.4 L1054.8,660.9 L1054.8,660.4 L1054.8,659.9 L1054.7,659.4 L1054.7,659 L1054.7,658.6 L1054.7,658.2 L1054.7,657.8 L1054.7,657.4 L1054.7,657.1 L1054.7,656.8 L1054.7,656.5 L1054.7,656.1 L1054.7,655.9 L1054.7,655.6 L1054.7,655.3 L1054.7,655 L1054.7,654.7 L1054.7,654.4 L1054.7,654.2 L1054.7,653.9 L1054.7,653.6 L1054.7,653.4 L1054.7,653.1 L1054.7,652.8 L1054.6,652.5 L1054.6,652.1 L1054.6,651.8 L1054.6,651.4 L1054.6,651.1 L1054.6,650.7 L1054.6,650.3 L1054.6,649.9 L1054.6,649.5 L1054.6,649 L1054.6,648.5 L1054.6,648 L1054.6,647.5 L1054.6,646.9 L1054.6,646.3 L1054.6,645.7 L1054.5,645.1 L1054.5,644.3 L1054.5,643.6 L1054.5,642.8 L1054.5,642 L1054.5,641.2 L1054.5,640.5 L1054.5,639.6 L1054.5,638.8 L1054.4,638 L1054.4,637.1 L1054.4,636.2 L1054.4,635.3 L1054.4,634.4 L1054.4,633.5 L1054.4,632.6 L1054.4,631.6 L1054.3,630.8 L1054.3,629.8 L1054.3,628.8 L1054.3,627.8 L1054.3,626.9 L1054.3,625.9 L1054.3,625 L1054.2,624 L1054.2,623 L1054.2,622 L1054.2,620.9 L1054.2,619.9 L1054.2,618.9 L1054.2,617.9 L1054.1,616.9 L1054.1,615.9 L1054.1,614.9 L1054.1,613.9 L1054.1,612.9 L1054.1,611.9 L1054.1,610.9 L1054,609.8 L1054,608.8 L1054,607.8 L1054,606.8 L1054,605.8 L1054,604.8 L1054,603.8 L1053.9,602.9 L1053.9,601.9 L1053.9,600.9 L1053.9,599.9 L1053.9,599 L1053.9,598 L1053.9,597.1 L1053.8,596.1 L1053.8,595.2 L1053.8,594.3 L1053.8,593.4 L1053.8,592.5 L1053.8,591.6 L1053.8,590.8 L1053.8,589.9 L1053.7,589.1 L1053.7,588.2 L1053.7,587.4 L1053.7,586.6 L1053.7,585.9 L1053.7,585.1 L1053.7,584.3 L1053.7,583.6 L1053.7,582.9 L1053.6,582.2 L1053.6,581.5 L1053.6,580.8 L1053.6,580.2 L1053.6,579.6 L1053.6,579 L1053.6,578.4 L1053.6,577.8 L1053.6,577.3 L1053.6,576.8 L1053.6,576.3 L1053.6,575.8 L1053.5,575.4 L1053.5,575 L1053.5,574.6 L1053.5,574.2 L1053.5,573.9 L1053.5,573.6 L1053.5,573.3 L1053.5,573 L1053.5,572.8 L1053.5,572.6 L1053.5,572.4 L1053.5,572.3 L1053.5,572.2 L1053.5,572.1 L1053.5,572 L1053.5,572Z" fill="#984ea3" fill-opacity="0.3" stroke="#984ea3" stroke-opacity="0.3" stroke-width="1.4" stroke-linejoin="round"/>
<path d="M1053.5,560 L1053.5,560 L1053.5,560.1 L1053.5,560.1 L1053.5,560.2 L1053.5,560.4 L1053.5,560.6 L1053.5,560.7 L1053.5,561 L1053.5,561.3 L1053.5,561.5 L1053.5,561.9 L1053.5,562.2 L1053.5,562.5 L1053.5,562.9 L1053.5,563.3 L1053.6,563.8 L1053.6,564.3 L1053.6,564.7 L1053.6,565.3 L1053.6,565.8 L1053.6,566.4 L1053.6,566.9 L1053.6,567.5 L1053.6,568.2 L1053.6,568.8 L1053.6,569.5 L1053.6,570.1 L1053.7,570.8 L1053.7,571.5 L1053.7,572.3 L1053.7,573 L1053.7,573.8 L1053.7,574.6 L1053.7,575.4 L1053.7,576.2 L1053.7,577 L1053.8,577.8 L1053.8,578.7 L1053.8,579.6 L1053.8,580.5 L1053.8,581.4 L1053.8,582.3 L1053.8,583.2 L1053.8,584.1 L1053.9,585 L1053.9,585.9 L1053.9,586.9 L1053.9,587.9 L1053.9,588.9 L1053.9,589.8 L1053.9,590.8 L1054,591.8 L1054,592.7 L1054,593.8 L1054,594.8 L1054,595.7 L1054,596.7 L1054,597.8 L1054.1,598.8 L1054.1,599.8 L1054.1,600.8 L1054.1,601.8 L1054.1,602.9 L1054.1,603.8 L1054.1,604.9 L1054.2,605.8 L1054.2,606.9 L1054.2,607.9 L1054.2,608.9 L1054.2,609.9 L1054.2,610.9 L1054.2,611.8 L1054.3,612.9 L1054.3,613.8 L1054.3,614.9 L1054.3,615.8 L1054.3,616.7 L1054.3,617.7 L1054.3,618.7 L1054.4,619.6 L1054.4,620.6 L1054.4,621.4 L1054.4,622.3 L1054.4,623.3 L1054.4,624.1 L1054.4,625 L1054.4,625.8 L1054.5,626.6 L1054.5,627.5 L1054.5,628.3 L1054.5,629.1 L1054.5,629.9 L1054.5,630.8 L1054.5,631.5 L1054.5,632.2 L1054.5,632.9 L1054.6,633.7 L1054.6,634.2 L1054.6,634.8 L1054.6,635.4 L1054.6,635.9 L1054.6,636.4 L1054.6,636.9 L1054.6,637.3 L1054.6,637.8 L1054.6,638.2 L1054.6,638.7 L1054.6,638.9 L1054.6,639.4 L1054.6,639.6 L1054.6,640.1 L1054.6,640.4 L1054.7,640.6 L1054.7,640.9 L1054.7,641.2 L1054.7,641.5 L1054.7,641.7 L1054.7,642.1 L1054.7,642.4 L1054.7,642.6 L1054.7,642.9 L1054.7,643.2 L1054.7,643.4 L1054.7,643.8 L1054.7,644 L1054.7,644.4 L1054.7,644.7 L1054.7,645 L1054.7,645.3 L1054.7,645.6 L1054.7,646.1 L1054.7,646.5 L1054.7,646.8 L1054.7,647.4 L1054.8,647.9 L1054.8,648.2 L1054.8,648.8 L1054.8,649.3 L1054.8,649.9 L1054.8,650.5 L1054.8,651.2 L1054.8,651.7 L1054.8,652.5 L1054.8,653.2 L1054.8,653.9 L1054.9,654.8 L1054.9,655.6 L1054.9,656.5 L1054.9,657.4 L1054.9,658.5 L1054.9,659.5 L1054.9,660.7 L1055,661.7 L1055,662.9 L1055,664.2 L1055,665.5 L1055,666.8 L1055,668.2 L1055.1,669.7 L1055.1,671.2 L1055.1,672.9 L1055.1,674.4 L1055.2,676.2 L1055.2,678 L1055.2,679.8 L1055.2,681.6 L1055.3,683.7 L1055.3,685.8 L1055.3,687.9 L1055.4,690.2 L1055.4,692.5 L1055.4,694.9 L1055.5,697.4 L1055.5,699.9 L1055.6,700.6 L1055.7,701.2 L1055.8,701.9 L1055.9,702.5 L1056,703.1 L1056.1,704 L1056.3,704.8 L1056.4,705.7 L1056.5,706.5 L1056.7,707.4 L1056.8,708.2 L1057,709.5 L1057.2,711.1 L1057.5,712.6 L1057.8,714.5 L1058,715.8 L1058.4,716 L1058.7,716.8 L1059,717 L1059.3,717.1 L1059.5,717.3 L1059.7,717.9 L1060,718 L1060.2,718.5 L1060.5,718.9 L1060.8,719.1 L1061.2,719.4 L1061.6,720.3 L1062,720.7 L1062.5,720.6 L1063,721 L1063.6,720.6 L1064.3,721 L1065,720.7 L1065.7,721.1 L1066.5,721 L1067.3,720.8 L1068.1,720.3 L1068.9,720.9 L1069.7,720.1 L1070.4,721.1 L1071.2,721.2 L1072,720.1 L1072.7,720.3 L1073.5,721 L1074.2,719.9 L1075,719.8 L1075.7,720 L1076.5,721 L1077.3,721.2 L1078.1,721 L1079,720.7 L1079.9,720.1 L1080.6,720.9 L1081.3,719.2 L1082,721.4 L1082.7,719.1 L1083.5,719.7 L1084.2,721.4 L1085,719.7 L1085.8,720.8 L1086.6,721 L1087.4,720.8 L1088.3,721.5 L1089.1,719.2 L1089.9,721.4 L1090.8,720.9 L1091.6,719.5 L1092.5,719.7 L1093.3,719.9 L1094.1,719.5 L1095,721.7 L1095.8,720.7 L1096.6,720.7 L1097.4,720.9 L1098.2,720.5 L1099,720.6 L1099.8,718.5 L1100.6,721 L1101.4,718.3 L1102.1,719.8 L1102.9,719.1 L1103.7,719.5 L1104.5,720.8 L1105.3,720.3 L1106.1,718 L1106.9,719.4 L1107.7,718.1 L1108.5,718.5 L1109.3,718.1 L1113.2,720.7 L1117.2,721.4 L1121.3,719.4 L1125.3,720 L1129.3,720.5 L1133.1,721.6 L1136.8,720.3 L1140.4,721.2 L1144,721.2 L1147.8,720.2 L1151.8,718.7 L1155.4,719.2 L1159.3,721 L1163.4,722.5 L1167.7,720 L1171.2,721.9 L1174.8,722.1 L1178.3,722.2 L1181.9,721.8 L1185.5,722.9 L1189.8,721.2 L1194.1,721.5 L1198.1,720.8 L1202.2,720.9 L1206.3,721.4 L1210.3,722.4 L1214.3,723.1 L1218.3,722.6 L1222.3,725.8 L1226.3,721.5 L1230.3,723.1 L1234.2,726.5 L1238.2,722.1 L1242.2,722.8 L1246.2,725.8 L1250.2,725.3 L1254.2,726.8 L1258.2,724.7 L1262.2,728.5 L1266.2,724.3 L1270.2,727 L1274.3,726.9 L1278.3,728.4 L1282.3,728.7 L1286.3,729.6 L1290.3,728.4 L1294.3,727.2 L1298.3,731.7 L1302.4,731.7 L1306.4,731.7 L1310.5,729.9 L1314.6,728.7 L1318.7,732 L1322.7,733.9 L1326.8,732 L1330.7,734.1 L1334.7,734.5 L1338.6,731.4 L1342.4,732.9 L1346.6,734.5 L1350.9,733.1 L1355,738.6 L1359.2,737.8 L1363.3,737.8 L1367.3,740.5 L1371.2,740.2 L1375,740.5 L1378.7,742.1 L1382.8,743.8 L1386.8,742 L1391.1,743.6 L1395.3,743.8 L1399.1,741.2 L1402.8,740.9 L1405,745.1 L1405,843.2 L1402.8,844.8 L1399.1,843.9 L1395.3,845.7 L1391.1,844.3 L1386.8,841.4 L1382.8,842.8 L1378.7,844.9 L1375,842.2 L1371.2,840.1 L1367.3,838.3 L1363.3,839.6 L1359.2,840.6 L1355,840 L1350.9,836 L1346.6,837.3 L1342.4,838.2 L1338.6,836.6 L1334.7,835.7 L1330.7,836.2 L1326.8,832.6 L1322.7,834.3 L1318.7,830.7 L1314.6,831.3 L1310.5,831.6 L1306.4,832.4 L1302.4,829 L1298.3,829 L1294.3,825.4 L1290.3,826.3 L1286.3,825.3 L1282.3,825 L1278.3,824.9 L1274.3,824.8 L1270.2,820.1 L1266.2,820.4 L1262.2,822.3 L1258.2,820.1 L1254.2,820.9 L1250.2,817.3 L1246.2,816.1 L1242.2,818.2 L1238.2,813.7 L1234.2,816.8 L1230.3,815.7 L1226.3,814.8 L1222.3,811.6 L1218.3,812.8 L1214.3,810.9 L1210.3,811.9 L1206.3,811.3 L1202.2,808.4 L1198.1,807.9 L1194.1,808.2 L1189.8,805.1 L1185.5,801.5 L1181.9,803.1 L1178.3,803.7 L1174.8,802.3 L1171.2,800.9 L1167.7,800.3 L1163.4,796 L1159.3,797.3 L1155.4,795.1 L1151.8,793.6 L1147.8,793.3 L1144,794 L1140.4,793.1 L1136.8,791.1 L1133.1,789.2 L1129.3,790.6 L1125.3,785.8 L1121.3,787 L1117.2,783.2 L1113.2,782.1 L1109.3,778.3 L1108.5,781 L1107.7,779.7 L1106.9,777.9 L1106.1,777.1 L1105.3,776.4 L1104.5,775.5 L1103.7,778.4 L1102.9,777.9 L1102.1,777 L1101.4,773.9 L1100.6,774.2 L1099.8,774.5 L1099,774.7 L1098.2,772.5 L1097.4,772.6 L1096.6,772.9 L1095.8,773.1 L1095,772.1 L1094.1,771.1 L1093.3,769.3 L1092.5,770.3 L1091.6,770.2 L1090.8,768.8 L1089.9,767.4 L1089.1,768.1 L1088.3,768.3 L1087.4,766.7 L1086.6,765.4 L1085.8,763.9 L1085,765 L1084.2,764.7 L1083.5,762.9 L1082.7,762.1 L1082,762.8 L1081.3,761.6 L1080.6,760.8 L1079.9,760.1 L1079,759.4 L1078.1,758.1 L1077.3,758.3 L1076.5,756.8 L1075.7,756.3 L1075,754.6 L1074.2,755.1 L1073.5,753.8 L1072.7,753.1 L1072,751.5 L1071.2,750.9 L1070.4,750.7 L1069.7,750.5 L1068.9,749.6 L1068.1,749.1 L1067.3,747.3 L1066.5,746.1 L1065.7,744.5 L1065,742.5 L1064.3,741.3 L1063.6,740.3 L1063,739.1 L1062.5,738.2 L1062,736.6 L1061.6,735.8 L1061.2,735 L1060.8,734.6 L1060.5,734.1 L1060.2,733.2 L1060,733.2 L1059.7,732.4 L1059.5,732.2 L1059.3,731.6 L1059,730.9 L1058.7,729.1 L1058.4,727.6 L1058,725.8 L1057.8,724.3 L1057.5,722.8 L1057.2,721.4 L1057,720.1 L1056.8,719.4 L1056.7,718.3 L1056.5,717.7 L1056.4,716.9 L1056.3,716.1 L1056.1,715.5 L1056,715 L1055.9,714.3 L1055.8,713.8 L1055.7,713.3 L1055.6,712.7 L1055.5,712.2 L1055.5,709.6 L1055.4,707 L1055.4,704.6 L1055.4,702.3 L1055.3,700.1 L1055.3,698.1 L1055.3,696 L1055.2,694 L1055.2,692 L1055.2,690.1 L1055.2,688.4 L1055.1,686.7 L1055.1,685 L1055.1,683.3 L1055.1,681.9 L1055,680.4 L1055,679 L1055,677.6 L1055,676.3 L1055,675.1 L1055,673.9 L1054.9,672.7 L1054.9,671.7 L1054.9,670.6 L1054.9,669.6 L1054.9,668.6 L1054.9,667.8 L1054.9,667 L1054.8,666.2 L1054.8,665.3 L1054.8,664.6 L1054.8,663.9 L1054.8,663.3 L1054.8,662.7 L1054.8,662.1 L1054.8,661.5 L1054.8,660.8 L1054.8,660.4 L1054.8,659.9 L1054.7,659.5 L1054.7,659 L1054.7,658.6 L1054.7,658.3 L1054.7,657.9 L1054.7,657.5 L1054.7,657.1 L1054.7,656.8 L1054.7,656.5 L1054.7,656.1 L1054.7,655.9 L1054.7,655.6 L1054.7,655.3 L1054.7,655 L1054.7,654.8 L1054.7,654.5 L1054.7,654.1 L1054.7,653.9 L1054.7,653.6 L1054.7,653.4 L1054.7,653 L1054.7,652.8 L1054.6,652.5 L1054.6,652.2 L1054.6,651.8 L1054.6,651.4 L1054.6,651.2 L1054.6,650.8 L1054.6,650.4 L1054.6,649.9 L1054.6,649.5 L1054.6,649 L1054.6,648.6 L1054.6,648.1 L1054.6,647.6 L1054.6,646.9 L1054.6,646.4 L1054.6,645.7 L1054.5,645 L1054.5,644.4 L1054.5,643.7 L1054.5,642.9 L1054.5,642.1 L1054.5,641.2 L1054.5,640.4 L1054.5,639.6 L1054.5,638.8 L1054.4,638 L1054.4,637.1 L1054.4,636.3 L1054.4,635.3 L1054.4,634.4 L1054.4,633.5 L1054.4,632.6 L1054.4,631.7 L1054.3,630.7 L1054.3,629.8 L1054.3,628.9 L1054.3,627.9 L1054.3,626.9 L1054.3,626 L1054.3,625 L1054.2,623.9 L1054.2,622.9 L1054.2,621.9 L1054.2,621 L1054.2,620 L1054.2,618.9 L1054.2,618 L1054.1,616.9 L1054.1,616 L1054.1,614.9 L1054.1,613.9 L1054.1,612.9 L1054.1,611.9 L1054.1,610.8 L1054,609.9 L1054,608.8 L1054,607.9 L1054,606.8 L1054,605.8 L1054,604.8 L1054,603.9 L1053.9,602.9 L1053.9,601.9 L1053.9,600.9 L1053.9,599.9 L1053.9,599 L1053.9,598 L1053.9,597.1 L1053.8,596.2 L1053.8,595.2 L1053.8,594.3 L1053.8,593.4 L1053.8,592.6 L1053.8,591.7 L1053.8,590.8 L1053.8,589.9 L1053.7,589.1 L1053.7,588.3 L1053.7,587.4 L1053.7,586.7 L1053.7,585.9 L1053.7,585.1 L1053.7,584.3 L1053.7,583.6 L1053.7,582.9 L1053.6,582.2 L1053.6,581.5 L1053.6,580.8 L1053.6,580.2 L1053.6,579.6 L1053.6,579 L1053.6,578.4 L1053.6,577.9 L1053.6,577.3 L1053.6,576.8 L1053.6,576.3 L1053.6,575.9 L1053.5,575.4 L1053.5,575 L1053.5,574.6 L1053.5,574.2 L1053.5,573.9 L1053.5,573.6 L1053.5,573.3 L1053.5,573 L1053.5,572.8 L1053.5,572.6 L1053.5,572.4 L1053.5,572.3 L1053.5,572.2 L1053.5,572.1 L1053.5,572 L1053.5,572Z" fill="#ff7f00" fill-opacity="0.3" stroke="#ff7f00" stroke-opacity="0.3" stroke-width="1.4" stroke-linejoin="round"/>
<path d="M1053.5,550.7 L1053.5,550.7 L1053.5,550.8 L1053.5,550.8 L1053.5,550.9 L1053.5,551.1 L1053.5,551.2 L1053.5,551.4 L1053.5,551.7 L1053.5,551.9 L1053.5,552.2 L1053.6,552.5 L1053.6,552.8 L1053.6,553.2 L1053.6,553.5 L1053.6,553.9 L1053.6,554.4 L1053.6,554.8 L1053.6,555.3 L1053.7,555.8 L1053.7,556.3 L1053.7,556.9 L1053.7,557.4 L1053.7,558 L1053.8,558.6 L1053.8,559.2 L1053.8,559.9 L1053.8,560.6 L1053.8,561.2 L1053.9,561.9 L1053.9,562.7 L1053.9,563.4 L1053.9,564.2 L1054,564.9 L1054,565.7 L1054,566.5 L1054,567.4 L1054.1,568.2 L1054.1,569 L1054.1,569.9 L1054.2,570.8 L1054.2,571.7 L1054.2,572.6 L1054.2,573.5 L1054.3,574.4 L1054.3,575.4 L1054.3,576.3 L1054.4,577.3 L1054.4,578.2 L1054.4,579.2 L1054.5,580.2 L1054.5,581.2 L1054.5,582.2 L1054.6,583.2 L1054.6,584.3 L1054.6,585.3 L1054.7,586.3 L1054.7,587.4 L1054.7,588.4 L1054.8,589.5 L1054.8,590.5 L1054.8,591.6 L1054.9,592.6 L1054.9,593.7 L1054.9,594.8 L1055,595.8 L1055,596.9 L1055.1,598 L1055.1,599.1 L1055.1,600.1 L1055.2,601.2 L1055.2,602.3 L1055.2,603.4 L1055.3,604.5 L1055.3,605.5 L1055.3,606.6 L1055.4,607.7 L1055.4,608.7 L1055.4,609.8 L1055.5,610.9 L1055.5,611.9 L1055.6,613 L1055.6,614 L1055.6,615 L1055.7,616.1 L1055.7,617.1 L1055.7,618.1 L1055.8,619.1 L1055.8,620.1 L1055.8,621.1 L1055.9,622.1 L1055.9,623.1 L1055.9,624.1 L1056,625 L1056,626 L1056,626.9 L1056.1,627.8 L1056.1,628.7 L1056.1,629.6 L1056.2,630.5 L1056.2,631.4 L1056.2,632.3 L1056.3,633.1 L1056.3,633.9 L1056.3,634.7 L1056.3,635.5 L1056.4,636.3 L1056.4,637.1 L1056.4,637.9 L1056.4,638.6 L1056.5,639.3 L1056.5,640 L1056.5,640.9 L1056.6,641.8 L1056.6,642.8 L1056.6,643.7 L1056.7,644.6 L1056.7,645.5 L1056.7,646.4 L1056.8,647.4 L1056.8,648.3 L1056.8,649.2 L1056.9,650.1 L1056.9,651 L1056.9,651.9 L1056.9,652.8 L1057,653.7 L1057,654.6 L1057,655.5 L1057.1,656.4 L1057.1,657.3 L1057.1,658.2 L1057.2,659.1 L1057.2,659.9 L1057.2,660.8 L1057.3,661.7 L1057.3,662.5 L1057.3,663.4 L1057.3,664.3 L1057.4,665.1 L1057.4,666 L1057.4,666.8 L1057.5,667.6 L1057.5,668.5 L1057.5,669.3 L1057.6,670.1 L1057.6,670.9 L1057.6,671.7 L1057.6,672.5 L1057.7,673.3 L1057.7,674.1 L1057.7,674.9 L1057.8,675.7 L1057.8,676.4 L1057.8,677.2 L1057.9,677.9 L1057.9,678.7 L1057.9,679.4 L1058,680.2 L1058,680.9 L1058,681.6 L1058.1,682.3 L1058.1,683 L1058.1,683.7 L1058.2,684.3 L1058.2,685 L1058.2,685.7 L1058.3,686.3 L1058.3,687 L1058.3,687.6 L1058.4,688.2 L1058.4,688.8 L1058.5,689.4 L1058.5,690 L1058.6,691 L1058.6,692 L1058.7,692.9 L1058.7,693.9 L1058.8,694.7 L1058.8,695.6 L1058.8,696.5 L1058.9,697.3 L1058.9,698.1 L1059,698.9 L1059,699.6 L1059.1,700.4 L1059.1,701.1 L1059.2,701.9 L1059.3,702.6 L1059.4,703.3 L1059.5,704 L1059.7,704.6 L1059.8,705.3 L1060,706 L1060.2,706.9 L1060.5,707.8 L1060.7,708.6 L1061,709.5 L1061.3,710.3 L1061.6,711.1 L1062,711.9 L1062.3,712.6 L1062.7,713.3 L1063.2,713.9 L1063.7,714.5 L1064.2,715 L1064.8,715.5 L1065.5,715.9 L1066.2,716.2 L1066.9,716.5 L1067.7,716.7 L1068.5,716.9 L1069.3,717.1 L1070.2,717.2 L1071.1,717.4 L1072,717.5 L1072.9,717.7 L1073.6,717.8 L1074.2,717.9 L1074.9,718 L1075.6,718.1 L1076.3,718.1 L1077,718.2 L1077.7,718.2 L1078.5,718.3 L1079.2,718.3 L1080,718.3 L1080.7,718.4 L1081.5,718.4 L1082.4,718.4 L1083.2,718.4 L1084.1,718.4 L1085,718.4 L1085.9,718.4 L1086.9,718.4 L1087.9,718.5 L1088.9,718.5 L1090,718.5 L1090.5,718.5 L1091.1,718.5 L1091.6,718.5 L1092.2,718.5 L1092.7,718.6 L1093.3,718.6 L1093.9,718.6 L1094.5,718.6 L1095.1,718.6 L1095.7,718.6 L1096.3,718.6 L1096.9,718.6 L1097.5,718.6 L1098.1,718.6 L1098.7,718.6 L1099.4,718.6 L1100,718.6 L1100.7,718.7 L1101.3,718.7 L1102,718.7 L1102.7,718.7 L1103.3,718.7 L1104,718.7 L1104.7,718.7 L1105.4,718.7 L1106.1,718.7 L1106.8,718.7 L1107.5,718.7 L1108.2,718.7 L1109,718.7 L1109.7,718.7 L1113.5,718.7 L1117.4,718.6 L1121.4,718.8 L1125.6,718.5 L1130,719.2 L1133.6,718.1 L1137.2,718.5 L1141,719 L1144.8,718.8 L1148.8,719.2 L1152.8,718.3 L1156.9,718.4 L1160.6,718.3 L1164.1,718 L1167.9,717.9 L1172,718.6 L1175.7,718.3 L1179.4,718.8 L1183.4,719.4 L1187.5,719.4 L1191.7,719.1 L1196.1,718.4 L1199.7,718.5 L1203.4,719.3 L1207.1,718.2 L1211,719.2 L1214.8,718.3 L1218.8,718.6 L1222.8,718.8 L1226.8,719.4 L1230.9,719.1 L1235.1,719.2 L1239.3,718.5 L1243.5,718.5 L1247.7,719.3 L1252,718.9 L1256.3,719.1 L1260.6,718.1 L1265,718 L1269.3,718.6 L1273.6,718.4 L1278,718.4 L1282.3,719.3 L1286.7,719.4 L1291,718.3 L1295.3,718.1 L1299.6,718.3 L1303.8,718.3 L1308.1,719.1 L1312.3,718.6 L1316.4,719.6 L1320.5,718 L1324.6,718.9 L1328.6,718.2 L1332.6,719.4 L1336.5,718.6 L1340.3,718.4 L1344.1,719 L1347.8,719.4 L1351.5,718.1 L1355,718.4 L1359.3,719.5 L1363.5,718.7 L1367.5,718.2 L1371.4,719.5 L1375.1,719.6 L1378.6,718.8 L1382.6,718.4 L1386.3,718.1 L1390.3,719.3 L1393.8,719.3 L1397.3,719.3 L1400.8,719.2 L1404.4,718.7 L1405,718.9" fill="none" stroke="#e41a1c" stroke-width="4.2" stroke-linejoin="round" stroke-linecap="butt"/>
<path d="M1053.5,566.3 L1053.5,566.3 L1053.5,566.4 L1053.5,566.5 L1053.5,566.6 L1053.5,566.7 L1053.5,566.9 L1053.5,567.1 L1053.5,567.4 L1053.5,567.7 L1053.5,568 L1053.5,568.3 L1053.5,568.7 L1053.5,569.1 L1053.5,569.5 L1053.5,569.9 L1053.6,570.4 L1053.6,570.9 L1053.6,571.5 L1053.6,572 L1053.6,572.6 L1053.6,573.2 L1053.6,573.8 L1053.6,574.5 L1053.6,575.1 L1053.6,575.8 L1053.6,576.5 L1053.6,577.3 L1053.7,578 L1053.7,578.8 L1053.7,579.6 L1053.7,580.4 L1053.7,581.2 L1053.7,582 L1053.7,582.9 L1053.7,583.8 L1053.7,584.6 L1053.8,585.5 L1053.8,586.5 L1053.8,587.4 L1053.8,588.3 L1053.8,589.3 L1053.8,590.2 L1053.8,591.2 L1053.8,592.2 L1053.9,593.2 L1053.9,594.2 L1053.9,595.2 L1053.9,596.2 L1053.9,597.2 L1053.9,598.3 L1053.9,599.3 L1054,600.4 L1054,601.4 L1054,602.5 L1054,603.5 L1054,604.6 L1054,605.7 L1054,606.7 L1054.1,607.8 L1054.1,608.9 L1054.1,609.9 L1054.1,611 L1054.1,612.1 L1054.1,613.1 L1054.1,614.2 L1054.2,615.2 L1054.2,616.3 L1054.2,617.4 L1054.2,618.4 L1054.2,619.5 L1054.2,620.5 L1054.2,621.5 L1054.3,622.5 L1054.3,623.6 L1054.3,624.6 L1054.3,625.6 L1054.3,626.6 L1054.3,627.6 L1054.3,628.5 L1054.4,629.5 L1054.4,630.4 L1054.4,631.4 L1054.4,632.3 L1054.4,633.2 L1054.4,634.1 L1054.4,635 L1054.4,635.9 L1054.5,636.7 L1054.5,637.6 L1054.5,638.4 L1054.5,639.2 L1054.5,640 L1054.5,640.8 L1054.5,641.7 L1054.5,642.5 L1054.5,643.4 L1054.6,644.2 L1054.6,645.1 L1054.6,646 L1054.6,646.8 L1054.6,647.7 L1054.6,648.6 L1054.6,649.5 L1054.6,650.4 L1054.6,651.3 L1054.6,652.2 L1054.6,653.1 L1054.6,654 L1054.6,654.9 L1054.6,655.8 L1054.6,656.7 L1054.6,657.7 L1054.7,658.6 L1054.7,659.5 L1054.7,660.4 L1054.7,661.3 L1054.7,662.3 L1054.7,663.2 L1054.7,664.1 L1054.7,665 L1054.7,666 L1054.7,666.9 L1054.7,667.8 L1054.7,668.7 L1054.7,669.6 L1054.7,670.6 L1054.7,671.5 L1054.7,672.4 L1054.7,673.3 L1054.7,674.2 L1054.7,675.1 L1054.7,676 L1054.7,676.9 L1054.7,677.7 L1054.8,678.6 L1054.8,679.5 L1054.8,680.4 L1054.8,681.2 L1054.8,682.1 L1054.8,682.9 L1054.8,683.8 L1054.8,684.6 L1054.8,685.5 L1054.8,686.3 L1054.8,687.1 L1054.9,687.9 L1054.9,688.7 L1054.9,689.5 L1054.9,690.3 L1054.9,691.1 L1054.9,691.8 L1054.9,692.6 L1055,693.3 L1055,694 L1055,694.8 L1055,695.5 L1055,696.2 L1055,696.9 L1055.1,697.5 L1055.1,698.2 L1055.1,698.8 L1055.1,699.5 L1055.2,700.1 L1055.2,700.7 L1055.2,701.3 L1055.2,701.9 L1055.3,702.5 L1055.3,703 L1055.3,703.5 L1055.4,704.1 L1055.4,704.6 L1055.4,705.1 L1055.5,705.5 L1055.5,706 L1055.6,707.2 L1055.7,708.2 L1055.8,709.2 L1055.9,710.1 L1056,710.9 L1056.1,711.7 L1056.3,712.5 L1056.4,713.2 L1056.5,713.9 L1056.7,714.6 L1056.8,715.3 L1057,716 L1057.2,716.9 L1057.5,717.8 L1057.8,718.6 L1058,719.4 L1058.4,720.3 L1058.7,721.1 L1059,722 L1059.3,722.7 L1059.5,723.5 L1059.7,724.4 L1060,725.2 L1060.2,726.1 L1060.5,726.9 L1060.8,727.8 L1061.2,728.6 L1061.6,729.3 L1062,730.1 L1062.5,730.7 L1063,731.3 L1063.6,731.8 L1064.3,732.3 L1065,732.7 L1065.7,733.1 L1066.5,733.5 L1067.3,733.9 L1068.1,734.2 L1068.9,734.6 L1069.7,734.9 L1070.4,735.2 L1071.2,735.5 L1072,735.8 L1072.7,736 L1073.5,736.2 L1074.2,736.4 L1075,736.6 L1075.7,736.8 L1076.5,736.9 L1077.3,737.1 L1078.1,737.3 L1079,737.5 L1079.9,737.7 L1080.6,737.9 L1081.3,738 L1082,738.2 L1082.7,738.4 L1083.5,738.6 L1084.2,738.8 L1085,739 L1085.8,739.2 L1086.6,739.4 L1087.4,739.6 L1088.3,739.8 L1089.1,740 L1089.9,740.2 L1090.8,740.4 L1091.6,740.6 L1092.5,740.9 L1093.3,741.1 L1094.1,741.3 L1095,741.5 L1095.8,741.7 L1096.6,741.9 L1097.4,742.1 L1098.2,742.3 L1099,742.5 L1099.7,742.7 L1100.5,742.9 L1101.3,743.1 L1102,743.4 L1102.8,743.6 L1103.5,743.8 L1104.3,744 L1105,744.2 L1105.8,744.4 L1106.6,744.6 L1107.3,744.9 L1108.1,745.1 L1108.9,745.3 L1109.7,745.5 L1113.9,746.3 L1117.8,747.6 L1121.8,746.6 L1126.1,747.5 L1129.6,747.2 L1133.1,748.6 L1137.4,747.9 L1141.4,748.4 L1145,749.6 L1149.2,748.4 L1152.8,748.8 L1156.8,749.2 L1160.5,750.3 L1164.2,749.7 L1167.7,750 L1171.7,750.6 L1175.2,749.2 L1178.9,749.6 L1182.8,749 L1186.8,750.2 L1191,748.6 L1195.3,750 L1198.8,749.2 L1202.4,749.6 L1206,748.7 L1209.6,750.2 L1213.3,748.9 L1216.9,749.1 L1220.6,750 L1224.3,749.3 L1227.9,748.6 L1231.5,748.4 L1235,749.7 L1238.6,749.3 L1242.8,749 L1247,748.8 L1250.9,749.5 L1254.9,747.8 L1258.9,748.2 L1263,749 L1267.1,748.6 L1271.2,748.4 L1275.3,748.4 L1279.5,747.9 L1283.6,748 L1287.8,747.6 L1291.9,748.6 L1296.1,747.1 L1300.2,747 L1304.3,747 L1308.4,746.6 L1312.5,747.4 L1316.5,747.3 L1320.5,746.2 L1324.4,746.5 L1328.3,747.7 L1332.1,746.4 L1335.8,747.2 L1339.5,746.6 L1343.3,746.1 L1347,747.7 L1351,747.1 L1355.1,746.3 L1359.3,747 L1363.5,746.5 L1367.8,747.6 L1372.1,746.1 L1376.3,747 L1380.4,747.5 L1384.3,747.7 L1388,746.5 L1392.3,746.5 L1396.1,747.4 L1399.9,747.8 L1403.5,747.6 L1405,747.7" fill="none" stroke="#984ea3" stroke-width="4.2" stroke-linejoin="round" stroke-linecap="butt"/>
<path d="M1053.5,566.3 L1053.5,566.3 L1053.5,566.4 L1053.5,566.5 L1053.5,566.6 L1053.5,566.7 L1053.5,566.9 L1053.5,567.1 L1053.5,567.4 L1053.5,567.7 L1053.5,568 L1053.5,568.3 L1053.5,568.7 L1053.5,569.1 L1053.5,569.5 L1053.5,569.9 L1053.6,570.4 L1053.6,570.9 L1053.6,571.5 L1053.6,572 L1053.6,572.6 L1053.6,573.2 L1053.6,573.8 L1053.6,574.5 L1053.6,575.1 L1053.6,575.8 L1053.6,576.5 L1053.6,577.3 L1053.7,578 L1053.7,578.8 L1053.7,579.6 L1053.7,580.4 L1053.7,581.2 L1053.7,582 L1053.7,582.9 L1053.7,583.8 L1053.7,584.6 L1053.8,585.5 L1053.8,586.5 L1053.8,587.4 L1053.8,588.3 L1053.8,589.3 L1053.8,590.2 L1053.8,591.2 L1053.8,592.2 L1053.9,593.2 L1053.9,594.2 L1053.9,595.2 L1053.9,596.2 L1053.9,597.2 L1053.9,598.3 L1053.9,599.3 L1054,600.4 L1054,601.4 L1054,602.5 L1054,603.5 L1054,604.6 L1054,605.7 L1054,606.7 L1054.1,607.8 L1054.1,608.9 L1054.1,609.9 L1054.1,611 L1054.1,612.1 L1054.1,613.1 L1054.1,614.2 L1054.2,615.2 L1054.2,616.3 L1054.2,617.4 L1054.2,618.4 L1054.2,619.5 L1054.2,620.5 L1054.2,621.5 L1054.3,622.5 L1054.3,623.6 L1054.3,624.6 L1054.3,625.6 L1054.3,626.6 L1054.3,627.6 L1054.3,628.5 L1054.4,629.5 L1054.4,630.4 L1054.4,631.4 L1054.4,632.3 L1054.4,633.2 L1054.4,634.1 L1054.4,635 L1054.4,635.9 L1054.5,636.7 L1054.5,637.6 L1054.5,638.4 L1054.5,639.2 L1054.5,640 L1054.5,640.8 L1054.5,641.7 L1054.5,642.5 L1054.5,643.4 L1054.6,644.2 L1054.6,645.1 L1054.6,646 L1054.6,646.8 L1054.6,647.7 L1054.6,648.6 L1054.6,649.5 L1054.6,650.4 L1054.6,651.3 L1054.6,652.2 L1054.6,653.1 L1054.6,654 L1054.6,654.9 L1054.6,655.8 L1054.6,656.7 L1054.6,657.7 L1054.7,658.6 L1054.7,659.5 L1054.7,660.4 L1054.7,661.3 L1054.7,662.3 L1054.7,663.2 L1054.7,664.1 L1054.7,665 L1054.7,666 L1054.7,666.9 L1054.7,667.8 L1054.7,668.7 L1054.7,669.6 L1054.7,670.6 L1054.7,671.5 L1054.7,672.4 L1054.7,673.3 L1054.7,674.2 L1054.7,675.1 L1054.7,676 L1054.7,676.9 L1054.7,677.7 L1054.8,678.6 L1054.8,679.5 L1054.8,680.4 L1054.8,681.2 L1054.8,682.1 L1054.8,682.9 L1054.8,683.8 L1054.8,684.6 L1054.8,685.5 L1054.8,686.3 L1054.8,687.1 L1054.9,687.9 L1054.9,688.7 L1054.9,689.5 L1054.9,690.3 L1054.9,691.1 L1054.9,691.8 L1054.9,692.6 L1055,693.3 L1055,694 L1055,694.8 L1055,695.5 L1055,696.2 L1055,696.9 L1055.1,697.5 L1055.1,698.2 L1055.1,698.8 L1055.1,699.5 L1055.2,700.1 L1055.2,700.7 L1055.2,701.3 L1055.2,701.9 L1055.3,702.5 L1055.3,703 L1055.3,703.5 L1055.4,704.1 L1055.4,704.6 L1055.4,705.1 L1055.5,705.5 L1055.5,706 L1055.6,707.2 L1055.7,708.2 L1055.8,709.2 L1055.9,710.1 L1056,710.9 L1056.1,711.7 L1056.3,712.5 L1056.4,713.2 L1056.5,713.9 L1056.7,714.6 L1056.8,715.3 L1057,716 L1057.2,716.9 L1057.5,717.8 L1057.8,718.6 L1058,719.4 L1058.4,720.3 L1058.7,721.1 L1059,722 L1059.3,722.7 L1059.5,723.5 L1059.7,724.4 L1060,725.2 L1060.2,726.1 L1060.5,726.9 L1060.8,727.7 L1061.2,728.5 L1061.6,729.3 L1062,730 L1062.5,730.7 L1063,731.3 L1063.6,731.8 L1064.3,732.3 L1065,732.8 L1065.7,733.3 L1066.5,733.7 L1067.3,734.1 L1068.1,734.5 L1068.9,734.9 L1069.7,735.3 L1070.4,735.6 L1071.2,736 L1072,736.4 L1072.7,736.7 L1073.5,737.1 L1074.2,737.4 L1075,737.7 L1075.7,738 L1076.5,738.3 L1077.3,738.6 L1078.1,738.9 L1079,739.2 L1079.9,739.5 L1080.6,739.7 L1081.3,740 L1082,740.2 L1082.7,740.4 L1083.5,740.7 L1084.2,740.9 L1085,741.1 L1085.8,741.4 L1086.6,741.6 L1087.4,741.8 L1088.3,742.1 L1089.1,742.3 L1089.9,742.5 L1090.8,742.8 L1091.6,743 L1092.5,743.3 L1093.3,743.5 L1094.1,743.7 L1095,744 L1095.8,744.2 L1096.6,744.5 L1097.4,744.7 L1098.2,744.9 L1099,745.2 L1099.8,745.4 L1100.6,745.7 L1101.4,745.9 L1102.1,746.1 L1102.9,746.4 L1103.7,746.6 L1104.5,746.9 L1105.3,747.1 L1106.1,747.3 L1106.9,747.6 L1107.7,747.8 L1108.5,748.1 L1109.3,748.3 L1113.2,748.9 L1117.2,751 L1121.3,751.2 L1125.3,754 L1129.3,753.7 L1133.1,755.4 L1136.8,757.1 L1140.4,758.5 L1144,758.7 L1147.8,759.6 L1151.8,759.9 L1155.4,760.9 L1159.3,760.2 L1163.4,761.5 L1167.7,761.8 L1171.2,761.9 L1174.8,762.2 L1178.3,761.7 L1181.9,763.2 L1185.5,763.3 L1189.8,764.2 L1194.1,764.4 L1198.1,765.8 L1202.2,766 L1206.3,766.5 L1210.3,766.3 L1214.3,767.3 L1218.3,769 L1222.3,768.4 L1226.3,768.7 L1230.3,769.8 L1234.2,770 L1238.2,772.1 L1242.2,772.4 L1246.2,772.2 L1250.2,774.2 L1254.2,773.9 L1258.2,774.3 L1262.2,776 L1266.2,775.2 L1270.2,776.1 L1274.3,777 L1278.3,778.6 L1282.3,778.2 L1286.3,779.2 L1290.3,779.1 L1294.3,779.9 L1298.3,780.8 L1302.4,782.1 L1306.4,783 L1310.5,783.6 L1314.6,783 L1318.7,784.2 L1322.7,784.3 L1326.8,786.1 L1330.7,785.9 L1334.7,787.8 L1338.6,788.2 L1342.4,788.9 L1346.6,788.5 L1350.9,790.4 L1355,790.7 L1359.2,790.1 L1363.3,792.4 L1367.3,791.3 L1371.2,793.7 L1375,792.8 L1378.7,793.2 L1382.8,794.2 L1386.8,793.5 L1391.1,795.2 L1395.3,795.4 L1399.1,794.3 L1402.8,795.8 L1405,795.4" fill="none" stroke="#ff7f00" stroke-width="4.2" stroke-linejoin="round" stroke-linecap="butt"/>
</g>
<rect x="1035.4" y="512.5" width="385.3" height="346.9" fill="none" stroke="#000" stroke-width="1.5"/>
<line x1="1053.5" y1="859.4" x2="1053.5" y2="866.4" stroke="#000" stroke-width="1.5"/>
<text x="1053.5" y="888.7" font-family='"Liberation Serif", serif' font-size="21.9" text-anchor="middle">0</text>
<line x1="1154.5" y1="859.4" x2="1154.5" y2="866.4" stroke="#000" stroke-width="1.5"/>
<text x="1154.5" y="888.7" font-family='"Liberation Serif", serif' font-size="21.9" text-anchor="middle">2000</text>
<line x1="1255.5" y1="859.4" x2="1255.5" y2="866.4" stroke="#000" stroke-width="1.5"/>
<text x="1255.5" y="888.7" font-family='"Liberation Serif", serif' font-size="21.9" text-anchor="middle">4000</text>
<line x1="1356.5" y1="859.4" x2="1356.5" y2="866.4" stroke="#000" stroke-width="1.5"/>
<text x="1356.5" y="888.7" font-family='"Liberation Serif", serif' font-size="21.9" text-anchor="middle">6000</text>
<line x1="1027.9" y1="586" x2="1035.4" y2="586" stroke="#000" stroke-width="1.5"/>
<text x="1020.8" y="593.5" font-family='"Liberation Serif", serif' font-size="21.9" text-anchor="end">1.04</text>
<line x1="1027.9" y1="674.4" x2="1035.4" y2="674.4" stroke="#000" stroke-width="1.5"/>
<text x="1020.8" y="681.9" font-family='"Liberation Serif", serif' font-size="21.9" text-anchor="end">1.00</text>
<line x1="1027.9" y1="762.8" x2="1035.4" y2="762.8" stroke="#000" stroke-width="1.5"/>
<text x="1020.8" y="770.3" font-family='"Liberation Serif", serif' font-size="21.9" text-anchor="end">0.96</text>
<line x1="1027.9" y1="851.2" x2="1035.4" y2="851.2" stroke="#000" stroke-width="1.5"/>
<text x="1020.8" y="858.7" font-family='"Liberation Serif", serif' font-size="21.9" text-anchor="end">0.92</text>
<text x="1228.1" y="915" font-family='"Liberation Sans", sans-serif' font-size="20" text-anchor="middle" textLength="82" lengthAdjust="spacingAndGlyphs">Iterations</text>
<text x="1049.7" y="499.6" font-family='"Liberation Sans", sans-serif' font-size="23.5" textLength="84.5" lengthAdjust="spacingAndGlyphs">Teacher:</text>
<text x="1147.5" y="499.6" font-family='"Liberation Sans", sans-serif' font-size="23.5" textLength="259.9" lengthAdjust="spacingAndGlyphs">He2 (Unknown Direction)</text>
<text x="0" y="0" transform="translate(14.4,209.0) rotate(-90)" font-family='"Liberation Sans", sans-serif' font-size="20" text-anchor="middle" textLength="153" lengthAdjust="spacingAndGlyphs">Robust Test Risk</text>
<text x="0" y="0" transform="translate(25.0,689.0) rotate(-90)" font-family='"Liberation Sans", sans-serif' font-size="20" text-anchor="middle" textLength="153" lengthAdjust="spacingAndGlyphs">Robust Test Risk</text>
<rect x="206.8" y="42.6" width="246.9" height="93.8" rx="5" fill="#fff" fill-opacity="0.8" stroke="#cfcfcf" stroke-width="1.4"/>
<line x1="213" y1="58.6" x2="258.5" y2="58.6" stroke="#e41a1c" stroke-width="4.2"/>
<text x="273.2" y="65.3" font-family='"Liberation Sans", sans-serif' font-size="19.5" textLength="142.3" lengthAdjust="spacingAndGlyphs">Full AD training</text>
<line x1="213" y1="87.5" x2="258.5" y2="87.5" stroke="#377eb8" stroke-width="4.2"/>
<text x="273.2" y="94.2" font-family='"Liberation Serif", serif' font-style="italic" font-size="21.5" style="stroke-width:0.15px">W</text>
<text x="303.5" y="94.2" font-family='"Liberation Sans", sans-serif' font-size="19.5" textLength="143.3" lengthAdjust="spacingAndGlyphs">fixed at target <tspan font-family='"Liberation Serif", serif' font-style="italic" font-size="21">u</tspan></text>
<line x1="213" y1="116.5" x2="258.5" y2="116.5" stroke="#4daf4a" stroke-width="4.2"/>
<text x="273.2" y="123.2" font-family='"Liberation Serif", serif' font-style="italic" font-size="21.5" style="stroke-width:0.15px">W</text>
<text x="303.5" y="123.2" font-family='"Liberation Sans", sans-serif' font-size="19.5" textLength="95" lengthAdjust="spacingAndGlyphs">init from <tspan font-family='"Liberation Serif", serif' font-style="italic" font-size="21">u</tspan></text>
<rect x="167" y="523" width="286.7" height="93.1" rx="5" fill="#fff" fill-opacity="0.8" stroke="#cfcfcf" stroke-width="1.4"/>
<line x1="172.4" y1="537.9" x2="218.6" y2="537.9" stroke="#e41a1c" stroke-width="4.2"/>
<text x="233.1" y="545.5" font-family='"Liberation Sans", sans-serif' font-size="19.5" textLength="142.2" lengthAdjust="spacingAndGlyphs">Full AD training</text>
<line x1="172.4" y1="567.2" x2="218.6" y2="567.2" stroke="#984ea3" stroke-width="4.2"/>
<text x="233.1" y="574.9" font-family='"Liberation Serif", serif' font-style="italic" font-size="21.5" style="stroke-width:0.15px">W</text>
<text x="263.4" y="574.9" font-family='"Liberation Sans", sans-serif' font-size="19.5" textLength="172.8" lengthAdjust="spacingAndGlyphs">fixed at SD training</text>
<line x1="172.4" y1="596.6" x2="218.6" y2="596.6" stroke="#ff7f00" stroke-width="4.2"/>
<text x="233.1" y="604.2" font-family='"Liberation Serif", serif' font-style="italic" font-size="21.5" style="stroke-width:0.15px">W</text>
<text x="263.4" y="604.2" font-family='"Liberation Sans", sans-serif' font-size="19.5" textLength="182.6" lengthAdjust="spacingAndGlyphs">init from SD training</text>
</svg></body></html>
